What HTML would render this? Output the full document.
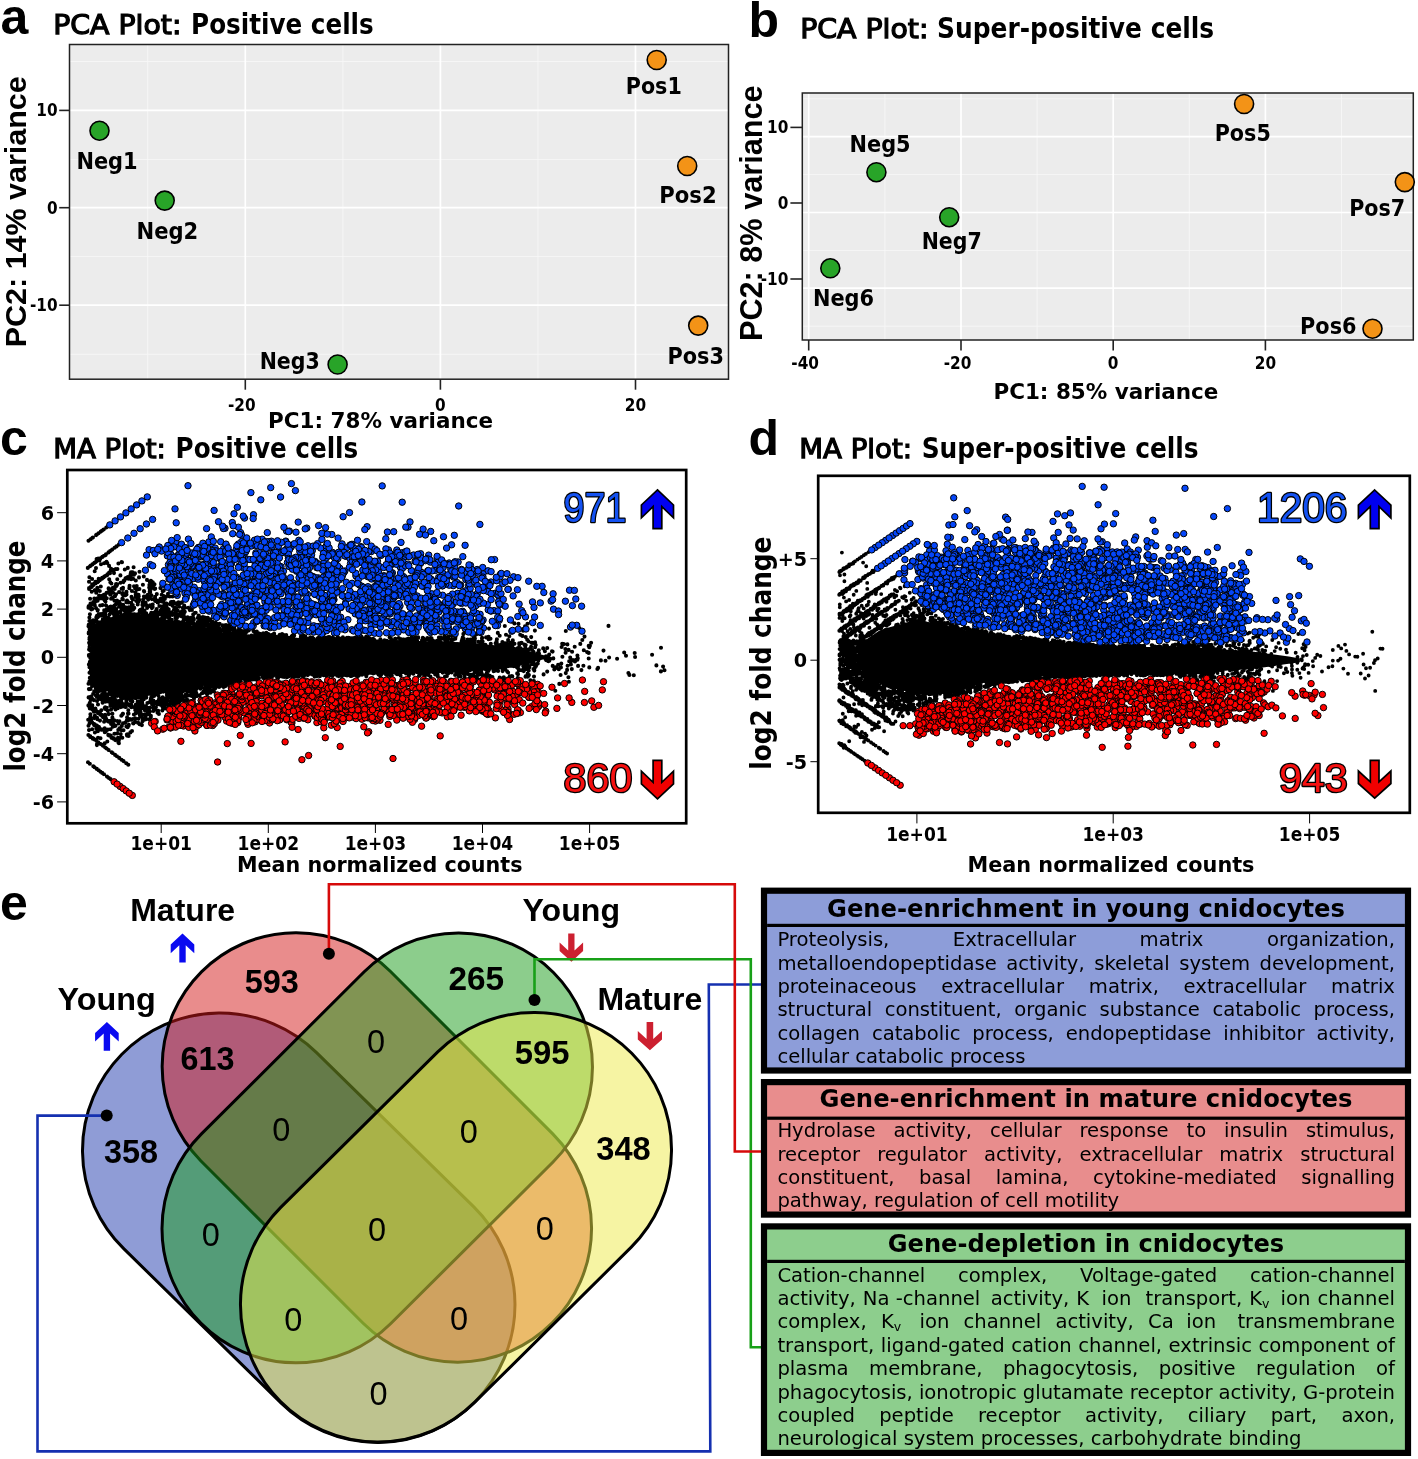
<!DOCTYPE html><html><head><meta charset="utf-8"><title>Figure</title><style>html,body{margin:0;padding:0;background:#fff;width:1418px;height:1459px;overflow:hidden}svg{display:block}</style></head><body><svg width="1418" height="1459" viewBox="0 0 1418 1459">
<rect width="1418" height="1459" fill="#fff"/>
<text x="0.5" y="34.3" style="font-family:'Liberation Sans', Arial, sans-serif;font-size:50.00px;font-weight:bold" fill="#000">a</text>
<text x="53.2" y="34.0" textLength="128.3" lengthAdjust="spacingAndGlyphs" style="font-family:'DejaVu Sans', sans-serif;font-size:27.40px;font-weight:normal" fill="#000" stroke="#000" stroke-width="1.25">PCA Plot:</text>
<text x="191.1" y="34.0" textLength="182.6" lengthAdjust="spacingAndGlyphs" style="font-family:'DejaVu Sans', sans-serif;font-size:27.60px;font-weight:bold;font-stretch:condensed" fill="#000">Positive cells</text>
<rect x="69.5" y="44.5" width="659.0" height="334.7" fill="#ececec"/>
<line x1="147.7" y1="44.5" x2="147.7" y2="379.2" stroke="#f7f7f7" stroke-width="0.9"/>
<line x1="342.9" y1="44.5" x2="342.9" y2="379.2" stroke="#f7f7f7" stroke-width="0.9"/>
<line x1="538.0" y1="44.5" x2="538.0" y2="379.2" stroke="#f7f7f7" stroke-width="0.9"/>
<line x1="69.5" y1="61.6" x2="728.5" y2="61.6" stroke="#f7f7f7" stroke-width="0.9"/>
<line x1="69.5" y1="159.4" x2="728.5" y2="159.4" stroke="#f7f7f7" stroke-width="0.9"/>
<line x1="69.5" y1="256.4" x2="728.5" y2="256.4" stroke="#f7f7f7" stroke-width="0.9"/>
<line x1="69.5" y1="354.3" x2="728.5" y2="354.3" stroke="#f7f7f7" stroke-width="0.9"/>
<line x1="245.3" y1="44.5" x2="245.3" y2="379.2" stroke="#fff" stroke-width="1.7"/>
<line x1="440.4" y1="44.5" x2="440.4" y2="379.2" stroke="#fff" stroke-width="1.7"/>
<line x1="635.5" y1="44.5" x2="635.5" y2="379.2" stroke="#fff" stroke-width="1.7"/>
<line x1="69.5" y1="110.4" x2="728.5" y2="110.4" stroke="#fff" stroke-width="1.7"/>
<line x1="69.5" y1="207.7" x2="728.5" y2="207.7" stroke="#fff" stroke-width="1.7"/>
<line x1="69.5" y1="305.2" x2="728.5" y2="305.2" stroke="#fff" stroke-width="1.7"/>
<rect x="69.5" y="44.5" width="659.0" height="334.7" fill="none" stroke="#222" stroke-width="1.5"/>
<line x1="59.2" y1="110.4" x2="69.5" y2="110.4" stroke="#222" stroke-width="1.6"/>
<text x="57.6" y="116.3" text-anchor="end" style="font-family:'DejaVu Sans', sans-serif;font-size:17.00px;font-weight:bold;font-stretch:condensed" fill="#000">10</text>
<line x1="59.2" y1="207.7" x2="69.5" y2="207.7" stroke="#222" stroke-width="1.6"/>
<text x="57.6" y="213.6" text-anchor="end" style="font-family:'DejaVu Sans', sans-serif;font-size:17.00px;font-weight:bold;font-stretch:condensed" fill="#000">0</text>
<line x1="59.2" y1="305.2" x2="69.5" y2="305.2" stroke="#222" stroke-width="1.6"/>
<text x="57.6" y="311.1" text-anchor="end" style="font-family:'DejaVu Sans', sans-serif;font-size:17.00px;font-weight:bold;font-stretch:condensed" fill="#000">-10</text>
<line x1="245.3" y1="379.2" x2="245.3" y2="389.7" stroke="#222" stroke-width="1.6"/>
<text x="255.6" y="410.6" text-anchor="end" style="font-family:'DejaVu Sans', sans-serif;font-size:17.00px;font-weight:bold;font-stretch:condensed" fill="#000">-20</text>
<line x1="440.4" y1="379.2" x2="440.4" y2="389.7" stroke="#222" stroke-width="1.6"/>
<text x="440.4" y="410.6" text-anchor="middle" style="font-family:'DejaVu Sans', sans-serif;font-size:17.00px;font-weight:bold;font-stretch:condensed" fill="#000">0</text>
<line x1="635.5" y1="379.2" x2="635.5" y2="389.7" stroke="#222" stroke-width="1.6"/>
<text x="635.5" y="410.6" text-anchor="middle" style="font-family:'DejaVu Sans', sans-serif;font-size:17.00px;font-weight:bold;font-stretch:condensed" fill="#000">20</text>
<circle cx="99.5" cy="130.7" r="9.5" fill="#28a428" stroke="#000" stroke-width="1.6"/>
<text x="76.4" y="169.1" textLength="61.3" lengthAdjust="spacingAndGlyphs" style="font-family:'DejaVu Sans', sans-serif;font-size:23.60px;font-weight:bold;font-stretch:condensed" fill="#000">Neg1</text>
<circle cx="164.7" cy="200.6" r="9.5" fill="#28a428" stroke="#000" stroke-width="1.6"/>
<text x="136.5" y="239.3" textLength="61.8" lengthAdjust="spacingAndGlyphs" style="font-family:'DejaVu Sans', sans-serif;font-size:23.60px;font-weight:bold;font-stretch:condensed" fill="#000">Neg2</text>
<circle cx="337.6" cy="364.5" r="9.5" fill="#28a428" stroke="#000" stroke-width="1.6"/>
<text x="259.7" y="368.8" textLength="60.1" lengthAdjust="spacingAndGlyphs" style="font-family:'DejaVu Sans', sans-serif;font-size:23.60px;font-weight:bold;font-stretch:condensed" fill="#000">Neg3</text>
<circle cx="656.7" cy="60.0" r="9.5" fill="#f39317" stroke="#000" stroke-width="1.6"/>
<text x="625.8" y="94.3" textLength="56.0" lengthAdjust="spacingAndGlyphs" style="font-family:'DejaVu Sans', sans-serif;font-size:23.60px;font-weight:bold;font-stretch:condensed" fill="#000">Pos1</text>
<circle cx="687.2" cy="166.0" r="9.5" fill="#f39317" stroke="#000" stroke-width="1.6"/>
<text x="659.3" y="202.9" textLength="57.4" lengthAdjust="spacingAndGlyphs" style="font-family:'DejaVu Sans', sans-serif;font-size:23.60px;font-weight:bold;font-stretch:condensed" fill="#000">Pos2</text>
<circle cx="698.2" cy="325.6" r="9.5" fill="#f39317" stroke="#000" stroke-width="1.6"/>
<text x="667.4" y="363.6" textLength="56.5" lengthAdjust="spacingAndGlyphs" style="font-family:'DejaVu Sans', sans-serif;font-size:23.60px;font-weight:bold;font-stretch:condensed" fill="#000">Pos3</text>
<text x="268.0" y="428.4" textLength="225.0" lengthAdjust="spacingAndGlyphs" style="font-family:'DejaVu Sans', sans-serif;font-size:21.60px;font-weight:bold" fill="#000">PC1: 78% variance</text>
<text transform="translate(26.0,347.2) rotate(-90)" x="0" y="0" textLength="270.9" lengthAdjust="spacingAndGlyphs" style="font-family:'Liberation Sans', Arial, sans-serif;font-size:30.4px;font-weight:bold">PC2: 14% variance</text>
<text x="748.5" y="36.9" style="font-family:'Liberation Sans', Arial, sans-serif;font-size:50.00px;font-weight:bold" fill="#000">b</text>
<text x="800.2" y="37.6" textLength="128.3" lengthAdjust="spacingAndGlyphs" style="font-family:'DejaVu Sans', sans-serif;font-size:27.40px;font-weight:normal" fill="#000" stroke="#000" stroke-width="1.25">PCA Plot:</text>
<text x="937.1" y="37.6" textLength="277.1" lengthAdjust="spacingAndGlyphs" style="font-family:'DejaVu Sans', sans-serif;font-size:27.60px;font-weight:bold;font-stretch:condensed" fill="#000">Super-positive cells</text>
<rect x="802.3" y="93.0" width="611.0" height="247.0" fill="#ececec"/>
<line x1="884.9" y1="93.0" x2="884.9" y2="340.0" stroke="#f7f7f7" stroke-width="0.9"/>
<line x1="1037.1" y1="93.0" x2="1037.1" y2="340.0" stroke="#f7f7f7" stroke-width="0.9"/>
<line x1="1189.3" y1="93.0" x2="1189.3" y2="340.0" stroke="#f7f7f7" stroke-width="0.9"/>
<line x1="1341.5" y1="93.0" x2="1341.5" y2="340.0" stroke="#f7f7f7" stroke-width="0.9"/>
<line x1="802.3" y1="98.8" x2="1413.3" y2="98.8" stroke="#f7f7f7" stroke-width="0.9"/>
<line x1="802.3" y1="174.4" x2="1413.3" y2="174.4" stroke="#f7f7f7" stroke-width="0.9"/>
<line x1="802.3" y1="250.4" x2="1413.3" y2="250.4" stroke="#f7f7f7" stroke-width="0.9"/>
<line x1="802.3" y1="326.2" x2="1413.3" y2="326.2" stroke="#f7f7f7" stroke-width="0.9"/>
<line x1="808.7" y1="93.0" x2="808.7" y2="340.0" stroke="#fff" stroke-width="1.7"/>
<line x1="961.0" y1="93.0" x2="961.0" y2="340.0" stroke="#fff" stroke-width="1.7"/>
<line x1="1113.2" y1="93.0" x2="1113.2" y2="340.0" stroke="#fff" stroke-width="1.7"/>
<line x1="1265.4" y1="93.0" x2="1265.4" y2="340.0" stroke="#fff" stroke-width="1.7"/>
<line x1="802.3" y1="136.7" x2="1413.3" y2="136.7" stroke="#fff" stroke-width="1.7"/>
<line x1="802.3" y1="212.5" x2="1413.3" y2="212.5" stroke="#fff" stroke-width="1.7"/>
<line x1="802.3" y1="288.2" x2="1413.3" y2="288.2" stroke="#fff" stroke-width="1.7"/>
<rect x="802.3" y="93.0" width="611.0" height="247.0" fill="none" stroke="#222" stroke-width="1.5"/>
<line x1="790.4" y1="127.4" x2="802.3" y2="127.4" stroke="#222" stroke-width="1.6"/>
<text x="788.4" y="133.3" text-anchor="end" style="font-family:'DejaVu Sans', sans-serif;font-size:17.00px;font-weight:bold;font-stretch:condensed" fill="#000">10</text>
<line x1="790.4" y1="203.0" x2="802.3" y2="203.0" stroke="#222" stroke-width="1.6"/>
<text x="788.4" y="208.9" text-anchor="end" style="font-family:'DejaVu Sans', sans-serif;font-size:17.00px;font-weight:bold;font-stretch:condensed" fill="#000">0</text>
<line x1="790.4" y1="279.0" x2="802.3" y2="279.0" stroke="#222" stroke-width="1.6"/>
<text x="788.4" y="284.9" text-anchor="end" style="font-family:'DejaVu Sans', sans-serif;font-size:17.00px;font-weight:bold;font-stretch:condensed" fill="#000">-10</text>
<line x1="808.7" y1="340.0" x2="808.7" y2="350.5" stroke="#222" stroke-width="1.6"/>
<text x="819.0" y="368.6" text-anchor="end" style="font-family:'DejaVu Sans', sans-serif;font-size:17.00px;font-weight:bold;font-stretch:condensed" fill="#000">-40</text>
<line x1="961.0" y1="340.0" x2="961.0" y2="350.5" stroke="#222" stroke-width="1.6"/>
<text x="971.3" y="368.6" text-anchor="end" style="font-family:'DejaVu Sans', sans-serif;font-size:17.00px;font-weight:bold;font-stretch:condensed" fill="#000">-20</text>
<line x1="1113.2" y1="340.0" x2="1113.2" y2="350.5" stroke="#222" stroke-width="1.6"/>
<text x="1113.2" y="368.6" text-anchor="middle" style="font-family:'DejaVu Sans', sans-serif;font-size:17.00px;font-weight:bold;font-stretch:condensed" fill="#000">0</text>
<line x1="1265.4" y1="340.0" x2="1265.4" y2="350.5" stroke="#222" stroke-width="1.6"/>
<text x="1265.4" y="368.6" text-anchor="middle" style="font-family:'DejaVu Sans', sans-serif;font-size:17.00px;font-weight:bold;font-stretch:condensed" fill="#000">20</text>
<circle cx="876.4" cy="172.2" r="9.5" fill="#28a428" stroke="#000" stroke-width="1.6"/>
<text x="849.5" y="151.7" textLength="61.1" lengthAdjust="spacingAndGlyphs" style="font-family:'DejaVu Sans', sans-serif;font-size:23.60px;font-weight:bold;font-stretch:condensed" fill="#000">Neg5</text>
<circle cx="830.3" cy="268.3" r="9.5" fill="#28a428" stroke="#000" stroke-width="1.6"/>
<text x="812.9" y="305.7" textLength="61.2" lengthAdjust="spacingAndGlyphs" style="font-family:'DejaVu Sans', sans-serif;font-size:23.60px;font-weight:bold;font-stretch:condensed" fill="#000">Neg6</text>
<circle cx="949.2" cy="217.2" r="9.5" fill="#28a428" stroke="#000" stroke-width="1.6"/>
<text x="921.7" y="248.7" textLength="60.0" lengthAdjust="spacingAndGlyphs" style="font-family:'DejaVu Sans', sans-serif;font-size:23.60px;font-weight:bold;font-stretch:condensed" fill="#000">Neg7</text>
<circle cx="1244.1" cy="104.0" r="9.5" fill="#f39317" stroke="#000" stroke-width="1.6"/>
<text x="1214.7" y="140.5" textLength="56.1" lengthAdjust="spacingAndGlyphs" style="font-family:'DejaVu Sans', sans-serif;font-size:23.60px;font-weight:bold;font-stretch:condensed" fill="#000">Pos5</text>
<circle cx="1372.5" cy="328.7" r="9.5" fill="#f39317" stroke="#000" stroke-width="1.6"/>
<text x="1300.1" y="333.5" textLength="56.4" lengthAdjust="spacingAndGlyphs" style="font-family:'DejaVu Sans', sans-serif;font-size:23.60px;font-weight:bold;font-stretch:condensed" fill="#000">Pos6</text>
<circle cx="1404.8" cy="182.1" r="9.5" fill="#f39317" stroke="#000" stroke-width="1.6"/>
<text x="1349.2" y="216.4" textLength="55.9" lengthAdjust="spacingAndGlyphs" style="font-family:'DejaVu Sans', sans-serif;font-size:23.60px;font-weight:bold;font-stretch:condensed" fill="#000">Pos7</text>
<text x="993.4" y="399.2" textLength="225.0" lengthAdjust="spacingAndGlyphs" style="font-family:'DejaVu Sans', sans-serif;font-size:21.60px;font-weight:bold" fill="#000">PC1: 85% variance</text>
<text transform="translate(762.0,341.0) rotate(-90)" x="0" y="0" textLength="255.5" lengthAdjust="spacingAndGlyphs" style="font-family:'Liberation Sans', Arial, sans-serif;font-size:30.6px;font-weight:bold">PC2: 8% variance</text>
<defs><marker id="mb" markerUnits="userSpaceOnUse" markerWidth="10" markerHeight="10" refX="5" refY="5" overflow="visible"><circle cx="5" cy="5" r="3.2" fill="#0546fa" stroke="#000" stroke-width="1.0"/></marker><marker id="mr" markerUnits="userSpaceOnUse" markerWidth="10" markerHeight="10" refX="5" refY="5" overflow="visible"><circle cx="5" cy="5" r="3.2" fill="#ff0000" stroke="#000" stroke-width="1.0"/></marker></defs>
<text x="0.0" y="455.0" style="font-family:'Liberation Sans', Arial, sans-serif;font-size:50.00px;font-weight:bold" fill="#000">c</text>
<text x="53.2" y="458.4" textLength="112.7" lengthAdjust="spacingAndGlyphs" style="font-family:'DejaVu Sans', sans-serif;font-size:27.40px;font-weight:normal" fill="#000" stroke="#000" stroke-width="1.25">MA Plot:</text>
<text x="175.6" y="458.4" textLength="182.6" lengthAdjust="spacingAndGlyphs" style="font-family:'DejaVu Sans', sans-serif;font-size:27.60px;font-weight:bold;font-stretch:condensed" fill="#000">Positive cells</text>
<g>
<path fill="#000" d="M90.5 626.0 L96.3 623.0 L102.1 620.1 L107.8 618.2 L113.6 616.4 L119.4 614.6 L125.2 612.7 L130.9 611.9 L136.7 613.2 L142.5 614.5 L148.3 615.8 L154.0 617.1 L159.8 618.4 L165.6 619.8 L171.4 621.3 L177.1 622.7 L182.9 624.2 L188.7 625.6 L194.5 627.1 L200.2 628.5 L206.0 629.6 L211.8 630.6 L217.6 631.7 L223.3 632.8 L229.1 633.9 L234.9 635.0 L240.7 636.1 L246.4 637.1 L252.2 638.2 L258.0 639.2 L263.8 639.2 L269.5 639.2 L275.3 639.3 L281.1 639.3 L286.9 639.3 L292.6 639.3 L298.4 639.3 L304.2 639.3 L310.0 639.3 L315.7 639.3 L321.5 639.4 L327.3 639.4 L333.1 639.4 L338.9 639.4 L344.6 639.4 L350.4 639.4 L356.2 639.4 L362.0 639.4 L367.7 639.5 L373.5 639.5 L379.3 639.6 L385.1 639.8 L390.8 640.0 L396.6 640.2 L402.4 640.4 L408.2 640.6 L413.9 640.8 L419.7 641.0 L425.5 641.2 L431.3 641.4 L437.0 641.5 L442.8 641.7 L448.6 641.9 L454.4 642.1 L460.1 642.3 L465.9 642.8 L471.7 643.3 L477.5 643.8 L483.2 644.2 L489.0 644.7 L494.8 645.2 L500.6 645.7 L506.3 646.2 L512.1 647.2 L517.9 648.7 L523.7 650.2 L529.4 651.6 L535.2 653.1 L541.0 654.6 L546.8 656.1 L546.8 658.5 L541.0 660.0 L535.2 661.5 L529.4 663.0 L523.7 664.4 L517.9 665.9 L512.1 667.4 L506.3 668.4 L500.6 668.9 L494.8 669.4 L489.0 669.9 L483.2 670.4 L477.5 670.8 L471.7 671.3 L465.9 671.8 L460.1 672.3 L454.4 672.4 L448.6 672.6 L442.8 672.8 L437.0 672.9 L431.3 673.1 L425.5 673.2 L419.7 673.4 L413.9 673.6 L408.2 673.7 L402.4 673.9 L396.6 674.1 L390.8 674.2 L385.1 674.4 L379.3 674.5 L373.5 674.7 L367.7 674.8 L362.0 674.9 L356.2 675.0 L350.4 675.1 L344.6 675.2 L338.9 675.3 L333.1 675.3 L327.3 675.4 L321.5 675.5 L315.7 675.6 L310.0 675.7 L304.2 675.8 L298.4 675.9 L292.6 676.0 L286.9 676.1 L281.1 676.2 L275.3 676.3 L269.5 676.4 L263.8 676.5 L258.0 676.6 L252.2 677.5 L246.4 678.4 L240.7 679.4 L234.9 680.4 L229.1 681.3 L223.3 682.3 L217.6 683.3 L211.8 684.2 L206.0 685.2 L200.2 686.1 L194.5 687.2 L188.7 688.3 L182.9 689.4 L177.1 690.5 L171.4 691.5 L165.6 692.6 L159.8 693.7 L154.0 694.5 L148.3 695.4 L142.5 696.3 L136.7 697.1 L130.9 698.0 L125.2 696.3 L119.4 693.5 L113.6 690.6 L107.8 687.8 L102.1 684.9 L96.3 683.2 L90.5 681.4Z"/>
<path fill="none" stroke="#000" stroke-width="4.10" stroke-linecap="round" d="M92.7 738.1h0m5-120.8h0m7.2 101.6h0m-15.7-13.3h0m9.1-106.6h0m-5.9 108.8h0m8.1 30.4h0m-6-29h0m2.3-26.6h0m6.1-0.1h0m14.3 38.5h0m-7.1-109.7h0m-5.5 132.1h0m-11.4-120.3h0m10.6-27.9h0m-12 8.9h0m19.9-12.6h0m-4.9 97.4h0m9.1-119.9h0m-26.3 60.1h0m14.6-18.8h0m-14 126.7h0m17.4-42.6h0m6.3-84.9h0m-17.7 10.3h0m17.4 70.5h0m-9.9-69.1h0m9.3-8.5h0m-4.1 122.8h0m-14.8-10.4h0m18.3-7.6h0m-21.6-63.1h0m23.4 65.9h0m0.5-131.3h0m-26.1 17.6h0m21.4 1.5h0m3.4-0.9h0m-16.6 88.3h0m-2-90.2h0m12.7-12.7h0m-14.6 11.4h0m9.9 15.2h0m-1.8 77.5h0m5 21.9h0m-16.9-129.7h0m19.1 111.7h0m-13.5-129.4h0m-4.4 86.9h0m3-56.1h0m0.4 108h0m6.6-22.4h0m-11.8-3.9h0m7.7-91h0m-4.7 10.9h0m15.9 117h0m-7.6-129.6h0m14.6 106.3h0m-9.7-2.9h0m-10.4-67.9h0m1.8-43.8h0m-5.5 134.3h0m5.5-5.8h0m-3.9-38.1h0m8.8 12.3h0m7.3-67.7h0m5.3 88.9h0m-3.4-112h0m-10.9 133.4h0m2.5-132h0m-2.4 2.4h0m-7.7 81.4h0m5.2 45.8h0m0.9-144.4h0m0 150h0m14.3-33.1h0m-1 25.8h0m4.8-29.6h0m-25.2-87.4h0m12.3 79.9h0m-8.2 23.5h0m-2.4-36h0m11.1-79.2h0m7.9-11.6h0m-7.3 138.3h0m-11.3 16.9h0m-0.7-159.7h0m8 43.4h0m13.5-34.8h0m-4.4-8.3h0m-5.2 16.6h0m-6.4-14.4h0m2.6 104.1h0m16.4-71h0m-22.2-13h0m16.7 119.7h0m-11.9 7.2h0m0.6-148.2h0m-10.9 74.8h0m8 90h0m4.8-45.6h0m-7.1 11.1h0m20.9-1.1h0m-26.6-44.9h0m8.6-82.9h0m20.8 148.1h0m-22.1 10.4h0m11.1-177.1h0m-18.1 142.7h0m3 23.4h0m2.8-48.6h0m10.2 19.2h0m5.1-117.6h0m-3.9 115.2h0m-9.4 46.7h0m-6.4-115.5h0m14 63.9h0m7 28.7h0m-7.4-3.5h0m-14.8-96.7h0m16.1-19.4h0m11.4-0.5h0m-24.2 108h0m17.2-117.7h0m-13.2 103.6h0m-4.3-46.6h0m-2.6 54.4h0m27.2-90.8h0m-8.5 73.9h0m-19.4-36.3h0m2.8-21.4h0m-0.7-40.9h0m5.1 138.6h0m-5-116.5h0m19.3-38.7h0m-4 22.1h0m-17.2 24.8h0m19.5 0.8h0m-15.8 1.9h0m6.8 78.6h0m-10.9-117.2h0m1.8 126.6h0m4.1-86.4h0m5.9 60.2h0m-11.8 7.2h0m24.1-96.6h0m-22.9 115.1h0m1-73.6h0m19.8 75.5h0m-12.5-93.4h0m-6.2 61.2h0m7.7 43.1h0m-1.5-106h0m16.1 78.9h0m-23.8-61.9h0m1.1 42.9h0m-0.1 23.2h0m-0.7 22.3h0m-1.8-77h0m19.2 56.3h0m0.6-133.4h0m-20 140.4h0m1.2-81.8h0m17.4-6.9h0m-17.4 8.1h0m3.1 83.7h0m11.5 7.9h0m-14.9-35.8h0m5.9 13.9h0m4.4 18.5h0m-10 7.7h0m-0.4-133.9h0m4.8 13.3h0m-2.2 20.8h0m25.4-9h0m-29.4 13.5h0m1.6-27.6h0m17.5 112h0m-17.8-60.4h0m0.6 71h0m0.4-50.9h0m14.9 31.2h0m-9.3 38.6h0m16.7-143h0m-2.4 138.4h0m-18.5-55.2h0m1.5 43.5h0m13.5-37.3h0m-12.9 31.5h0m1.4-7.1h0m16-19.9h0m-15-0.8h0m19-104.6h0m-11.9 100.3h0m-0.9-3.1h0m-13.4-45.2h0m23.9 50h0m-23.5-73.5h0m23.3 90.8h0m-0.5-1.5h0m-19.5-118.2h0m8.4 11.4h0m-0.1 101.9h0m5.8 42.9h0m-12.8-2h0m10.2-49.1h0m-3.5-74.9h0m-9.2 35.3h0m25.3-71.5h0m-8.2 28h0m4.3 94.5h0m-0.7-2.7h0m-5.9-100.9h0m-10.9 112.4h0m-4.5-38.9h0m11.3-75.5h0m-2.8 1.8h0m18.1 139.7h0m-20.6-8.3h0m15.4-2.6h0m-15.8-25.8h0m12.7 20.1h0m-14.8 11.4h0m3.1-19.4h0m6.6-96.2h0m-4.2 97.9h0m17.2-101.2h0m-28.1 53.6h0m1.6 29.3h0m3.6-94.3h0m19.7 3.4h0m-24.5 56.3h0m18.9 24.6h0m-7.2 28.3h0m-4-104.2h0m-1.4-10.4h0m3.9 13.8h0m-7 7.9h0m3.6 67.9h0m4.3-125.5h0m1.5 34.1h0m2.7 20h0m9.3-2h0m-20.2-17.9h0m-2.8 109.8h0m8.7-110h0m-7.7 50.8h0m13.1 68.3h0m-13.3-8.6h0m12.8 6h0m8.9-141.7h0m-19 152.2h0m16.1-156.4h0m-13.4 126.1h0m1.5-96.6h0m16.9 14.2h0m-27.7 92.8h0m4.8 4.1h0m16.8-136.2h0m-9.8 123.1h0m-3.2-80.7h0m20.2 117.7h0m-20.9-116h0m13.5 118h0m7.5-33.1h0m-10.1-1h0m5.2 12.4h0m2.6-117.5h0m0.5 93.8h0m0 15.1h0m-24.2-40.5h0m10.8 29.6h0m13 10.7h0m-14.2-7.7h0m-4.6-96.8h0m-7.3 129.7h0m0-74.1h0m4.3 82.5h0m6-47.5h0m-4.7 19h0m10.6-2.6h0m6.5-137.3h0m4.5 39h0m-1.6 81.5h0m-22.2-31.8h0m-3.3-69.9h0m1.8 76.8h0m5.1-97.6h0m3.1 27.4h0m-8.1 38.7h0m18.9 65.1h0m-11.9 38.5h0m6.5-161.2h0m10.5 149.3h0m-14.4-11.7h0m2.3-100.7h0m-10.4 46.3h0m11.9 39.9h0m-2.9-13.8h0m4.8 14.2h0m-8.1-13.4h0m-5.9-100.7h0m-2.7 69.4h0m20.2 66.7h0m0.2-0.7h0m-4.4-166.3h0m-2.2 41.1h0m-8.3 84.3h0m-3.9-23.3h0m19.8-66.4h0m-17.4 93.2h0m-3.1-80.4h0m0.1 60.5h0m-0.2 50.1h0m0.7-127.1h0m1.1 16.5h0m11.9-8.8h0m0.5 5.5h0m9.9 88.6h0m-14.6 39.9h0m-4.5-166.6h0m7.5 129.4h0m9.1 46.3h0m-12.8-55.7h0m5.4-86.3h0m-5.2 117.7h0m14.9-18.8h0m-7 1.5h0m-13.5 12.6h0m15.2-136.2h0m-14.1 10.6h0m4 129.3h0m1-97.2h0m-10.5 66.1h0m22.1 56.3h0m-16.3-136h0m3.6 88.1h0m-7.9-65.9h0m8.5 65.4h0m5.8 19.5h0m10.3 16.8h0m-1.3-110.7h0m2.2 93.6h0m-10.3-103.1h0m-2.7-9.8h0m-13.9 77.1h0m1.9-9.2h0m9.9-67.6h0m-12.8 11.7h0m6.2-17.5h0m16.5 111.6h0m2.3 37h0m-7.2-49.9h0m-4.6 6.8h0m11.1 28.8h0m-17.9-122.6h0m-3.6 106.5h0m12.5-11.1h0m8.3-5.8h0m-9.5-4h0m-5.3-89.1h0m8.5 133.1h0m-13.9-80.6h0m12.2-87.6h0m-4.7 150h0m-7.7-37.7h0m9.8-52.3h0m-6.1-41.5h0m11.9 28.3h0m-14.1 83.7h0m6 19.1h0m-2.2 4.9h0m-4.6-8.2h0m10.5-113.9h0m1.8 105.8h0m-3.4-87.3h0m12.1 81.6h0m-11.7-11.2h0m8.6 37.7h0m-9-124.9h0m6.6 132.2h0m8.8-23.7h0m-19.8-115.9h0m14.6 99h0m-2-79.7h0m-8.2 100.9h0m-4.7-151.2h0m2.1 19.7h0m18.3 5.5h0m-26.1 36.9h0m6.9-60.7h0m-8.4 45.9h0m0-29h0m0.3 104.3h0m24.7 52.2h0m-16.5-42.2h0m14.3 46.2h0m-14.3-9.6h0m12.6 1.1h0m-13.2-141.6h0m-6.7 101.2h0m23.9-88.1h0m-0.1 98.7h0m-12.2-120.9h0m12 126.5h0m-14.1-20.2h0m-9.4-1.1h0m1.8-31.5h0m17 38.8h0m2.9 1.2h0m-13.8 34.5h0m-6.9-135.1h0m0 16.7h0m15.4-33.1h0m-16.6 91.8h0m3.7 24.2h0m21.6 1.6h0m0.3-108.9h0m-26.4 60.5h0m23.3-51.7h0m-5.4 27.2h0m-17.1-15.9h0m27-0.9h0m-1.7 96.9h0m-26.7-57.4h0m-0.4-35.8h0m9.5-48.3h0m15.9 11.1h0m-16.5 31h0m-3.5 1h0m18.4-13.7h0m-16.2 140.6h0m-1.6-18.3h0m16.8-21.2h0m-19.9-47.8h0m17-52.9h0m-18.4 76.3h0m-1.5-39.8h0m13.9 77.9h0m3.4-91.5h0m-2.6-15.7h0m-12.7 39.4h0m26.2-32.4h0m-26.9 34.1h0m20.6 84.2h0m-22-23.5h0m12.8-100.3h0m-4.5 99.8h0m-5.3-32.7h0m18.8 41.8h0m-20.9-58.9h0m2.9-23.9h0m14.1-61.5h0m-11.7 154h0m14.4-16.8h0m-16.9 6.4h0m-3.8 20.5h0m21.7-36.6h0m0.9-80.7h0m-1.6 6h0m5.4-2.3h0m-3.9 93.4h0m5-111.3h0m-15.2-7.8h0m-11.4 52.7h0m7.6 72.5h0m-7.4-48.5h0m2 44.8h0m12.3-14.5h0m-7 18.2h0m17-8.8h0m-19.5-77h0m13.4-5.3h0m-11.5 69.5h0m3.1 8.7h0m-10.5-92.8h0m0.9 102.5h0m8.5-118.2h0m-6.2 132h0m10.4-117.2h0m-4 106.9h0m17.7-4.1h0m-26.7 15.7h0m6.1-36h0m2.7-106.1h0m7.4 105.9h0m-8.3-6.2h0m5 48.4h0m4.8-40.7h0m-12.5-86.9h0m10 126.2h0m3.4-27.8h0m-16.3-21.2h0m0.4-94.8h0m24.2 1.5h0m0.8 110h0m-17-90.4h0m5-6.8h0m3.5 115.4h0m-10.7-9.6h0m16.2-90.9h0m-25.5 19.8h0m6.6 76.3h0m21.7-109.1h0m-19.1 88.7h0m6.1-94.4h0m12 20.4h0m-4.2-26.1h0m-19.9 54.4h0m22.9 51h0m-12.5 21.1h0m0.5-95h0m-12.8-54.4h0m2.3 42.6h0m9.8 81.7h0m3.6 10.5h0m9.2 1.4h0m-17.4-120.2h0m1.3-2.3h0m-6.3 23.2h0m9.7-25.4h0m11.4 146h0m-11.6-8.3h0m-10.7-6.8h0m5.6-87.3h0m20.1-36.5h0m-8.9 136.5h0m-8.8-23.4h0m12.3-90.4h0m0.4-18h0m1.2 23.6h0m-16.1 12.5h0m7.1 58.3h0m1.1-64.2h0m-7.4 69.7h0m13.2-90.7h0m-21.3 79.1h0m4.8 46.4h0m8.1-22.8h0m-6.7-93.4h0m21.9 4h0m-2.4-7.3h0m-25.3 102.1h0m16.3-17.5h0m-11.7-99.2h0m12.1 96.3h0m-5.2 9.2h0m-11.4 21.6h0m9.2-156.8h0m-2.1 158.8h0m9.2-109.9h0m4.8 112.9h0m-8.9 22.7h0m3.2-182.3h0m-10.6 122h0m-3.3-10h0m13.5-60.5h0m-16.4 74.8h0m28.3 13.6h0m0.2-133.6h0m-7.9 21.6h0m-4.8 117.5h0m4.1-21.8h0m-13.4 22.3h0m7.7-15.5h0m-2.6-10.9h0m-10.5-0.9h0m17.2 15.6h0m-18.4-64.6h0m8.6 61h0m1.3-11.7h0m-3 3.8h0m-5 14.5h0m7.1-89.9h0m5.1 107.1h0m14.4-101.9h0m-6.4 79.3h0m-5.8-4.8h0m-7.2-129.5h0m19.9 148.1h0m-2.9-89.8h0m-6.9 69.3h0m7.8 1.4h0m-16.8 37.8h0m0.4-14.5h0m13.7-102h0m-11.2 105.3h0m11.3-8.6h0m-19.3 4.5h0m0.4-109.6h0m10.9 14.2h0m7.3-4.8h0m-4.5-19.1h0m-1.3 115.3h0m-10.6 3h0m-4.1-24.6h0m-2.6-59h0m0.4 56.3h0m4.7-82.1h0m2.9 84.8h0m-7.8-59.5h0m13.2 61.2h0m-8.9 12.3h0m20.1 38.3h0m0.9-130.2h0m-9.9-12.9h0m5.5 109h0m-1.5-2.6h0m1.8-95.2h0m6.3 96.6h0m-11.7 12h0m48.8-102.6h0m42.1 82.1h0m9.2-5.8h0m-60.2 20.8h0m-1.5-10.3h0m21.3-93.5h0m-27.4 95.4h0m20-6.7h0m36.7-1.6h0m0.4-63.8h0m-31.6-12.9h0m28.1 70.5h0m-20.7 16.6h0m-3.7-12.6h0m-9 13.5h0m10.5 0.8h0m-45.1-7.5h0m-2.9-122.1h0m89.5 52.2h0m-44.8-5.8h0m-32.5-49.5h0m62.1 121.7h0m-72.6-88.3h0m45.7 86.4h0m-15.9-93h0m29.4 95.2h0m-23.3-93.4h0m11.7-4.4h0m30.9 92.1h0m-40.2-100.5h0m-24.8 125.4h0m56.8-85.6h0m-19.7 74.6h0m36.6-19.3h0m-71.4 27.7h0m70.3-22.1h0m-13.7 7.4h0m-56.8 5.7h0m-17.8-6.1h0m59.9-2.1h0m-15.9 9.8h0m9-80.7h0m1.7 73.5h0m35-68.5h0m-59.5-22.4h0m18.5 89h0m33.4-68.6h0m-73.3-16.9h0m34.9-10.8h0m8.4 95.9h0m-8.5 12.3h0m-4.1-13.8h0m-27.5-101.5h0m19-2.1h0m-3.9-9h0m5.7 24.7h0m37.9 22.9h0m-6.4-21.9h0m-8.4 15.2h0m-54-12.5h0m32.9 10.5h0m4.8 80.6h0m-31.3-2.3h0m24.6-81.1h0m53 69.7h0m-37.1-76.5h0m-2.6-12.5h0m8.7 95.8h0m-56.4-129h0m27.9 134.1h0m25.4-93.1h0m-15.8 102.8h0m25.9-95.4h0m-41.9 96h0m61.2-90.1h0m1.6 74.9h0m-75.6 5.3h0m-1.9-84.3h0m-6.4 126.7h0m15.5-132.5h0m73.4 15.3h0m-56 73.9h0m4-83.9h0m-17.6 90.8h0m59.7-17.1h0m-8.6 2.3h0m-60.8 15.1h0m-1.4-94.5h0m29.2 93.5h0m-29.7-111.4h0m-5.2 123.8h0m71.6-24.4h0m-29.1-95.2h0m-21.6 17.1h0m60.8 14.3h0m-50.1 68.1h0m0.1-108.9h0m58 96.7h0m-39.7-71h0m4.8 76.3h0m35.8-5.3h0m-83.3-81h0m53.2 13.2h0m-56.5-8.1h0m70.4 5.3h0m-56-1.7h0m52.3 17.3h0m-48.4 67.1h0m-24.1 5.2h0m61.2-0.3h0m-4.8-88.8h0m-47.9 108.9h0m26.1-24.6h0m26.6 0.5h0m-12.5-83.7h0m-25.2-1.3h0m54.7 11.6h0m-25.5 68.8h0m-43.9-113.1h0m83.4 51.4h0m-17.7 68.6h0m-3.9-7.3h0m-28.7-81.9h0m48 78h0m-6.3-4.1h0m-81.8 17.2h0m21.7-94.9h0m-20 2.3h0m39.2 11.8h0m-43.3 123.4h0m6.4-132.5h0m45.1 81.2h0m25.7-6.9h0m-20.2 11.8h0m-28.5 6.2h0m-8.9-108.2h0m40 7.4h0m-58.7 126.7h0m14.1-14.4h0m23.2-21.8h0m32.7-2.1h0m17.9 0.5h0m-52.5 18.5h0m-3.1-4.8h0m60.7-20.4h0m-62 32.8h0m-16.1-103h0m77.7 13h0m-38.6 70h0m-43.9 21.8h0m-9.3-26.1h0m37.5-78.2h0m40.2 13.9h0m-65.4 90.4h0m2.3-0.6h0m28.2-26.8h0m-39.9 38.7h0m1.1-35.3h0m8.5 28.3h0m57.3-37.1h0m17.7 5.2h0m-67.7-81.7h0m63 8.7h0m-3.8 9h0m-30.6 70h0m-30.5 21.4h0m-15.9-20.6h0m90.2-14.7h0m-74 24.1h0m48.2-81.7h0m-37.5 81.9h0m60.8-25.7h0m-16.5-63h0m-0.7-1.7h0m-38.7 90.7h0m21.8-104.7h0m-15.9 101.4h0m52.5-76.5h0m-80.2-23h0m46.7 96.8h0m-41.1 20.8h0m12.4-29h0m-0.4-108.5h0m12.6 32.5h0m-8.4 74.6h0m8.1-86.3h0m13.1 5.2h0m-54.8 95.7h0m58.3-103.2h0m-48-24.6h0m13.1 12.3h0m68.2 32h0m-63.2-36.1h0m-19.5 20.1h0m59.7 12.9h0m-7.5-9.3h0m11 8h0m-57.2-24.4h0m60.7 94.2h0m-67.5-76.6h0m81.3 71.8h0m-34.4-67.3h0m8.7 79.5h0m-7.4-0.5h0m29.6-71.9h0m-65.4 92.5h0m70.1-87h0m-28.6 70h0m-44.1-4.2h0m33.4-81.2h0m3.2 85.8h0m-25.6 2.2h0m34-82.1h0m17.6 3.1h0m-27.8 68h0m-4.4-73.7h0m-1.9 73.3h0m-3.5 14.6h0m0-114.5h0m33.9 105h0m-32.7-92h0m-5.5 2.2h0m8.4 11.1h0m-42.3-38.7h0m55.3 118.1h0m33.1-10.9h0m-14.2-67.8h0m-71.1 95.8h0m43.2-21.7h0m40.3-63.8h0m-29.1-3.6h0m0 64.8h0m0.3-72.4h0m-8.8-13.8h0m-11.8 94.3h0m-20.2-88.7h0m15.2-6.2h0m19.7 99.6h0m-24.6-117.7h0m7.6 119.7h0m16-9.1h0m-50.1 7h0m-3.4 2h0m47.2-99.7h0m-34.2 100.2h0m42.9-14.9h0m-30.6 24.6h0m23.2-94.5h0m13.5 81h0m-54.4-0.1h0m62.2-15.6h0m-27.2-69.2h0m-12.3 2.5h0m-19.2 88.8h0m7 6.6h0m36.2-97h0m8.8 73.2h0m14.7-63.1h0m1.5-6.2h0m-50.9-6.5h0m-10.8 97.5h0m11.2-105.1h0m-6.7-2h0m18.6 9.5h0m-38.3 108.6h0m51.2-118.5h0m20.2 84.6h0m-59.4-89.2h0m-5.9 100h0m-4.6-4.7h0m-4.5 43h0m-1.3-40h0m43.3-76.6h0m-38.1 82.2h0m-0.4 3.4h0m1.2 28.8h0m12-158.2h0m-10.7 117.8h0m21.1-110.3h0m42.3 111.1h0m-4.2-9.6h0m-47.8 24.1h0m24-10.5h0m44.8-69.7h0m-82.7 66.8h0m77.5-76.5h0m0.4-0.3h0m-10.9 7.3h0m-38.1-38.7h0m-8.7 117.2h0m28.5-10.9h0m-45.5-118h0m2-5h0m26.3 43.4h0m52.9 67.5h0m-32.1 13.3h0m21.7-10.5h0m-44.2-86.3h0m-1.1-15.4h0m-33 119.7h0m53.4-13.1h0m-6.7 14.1h0m37-13.3h0m-32.6-89.1h0m6.5 4.3h0m-4.1 86.8h0m-53-131.3h0m44.1 129.1h0m37.7-63.8h0m-68.8-54.2h0m64.8 47h0m-73.2-42.6h0m36.7 122.8h0m-19.5 7.3h0m9-4.9h0m-15.5-113.5h0m34.7 15.3h0m-33.2-8.5h0m3.7 99h0m6.3 16.8h0m-8.8-100h0m45.9 88.5h0m-38.9 13.8h0m18.6-14.2h0m41.9-15.9h0m-32.2 19.7h0m13.4-12.8h0m-16.9-71.5h0m-53.1 84.8h0m26.6-7.4h0m-22.4-1.4h0m-2.5-82.8h0m42.3-2.2h0m-20.3 5.8h0m-2.8 107.7h0m0.1-113.6h0m22.6 7h0m28.5 0.1h0m16.4 76.6h0m-35.5-4.1h0m13.3-82.4h0m-53.5-10.9h0m58.3 13.2h0m-29.1 81.8h0m-32.1 44.1h0m24.7-150.6h0m45.1 101.5h0m12.6-56.4h0m-85.6 67.6h0m6 9.2h0m1-5.8h0m-4.6-124.4h0m36.9 41h0m30.3 11h0m-37-26.7h0m16.5 92.5h0m-33.2 3.7h0m26.6 1.4h0m6.9-86.2h0m-28.4 1.8h0m48.1 78.9h0m-21.9-98h0m-40.6 134.5h0m-8.6-148.9h0m39.2 19.7h0m34.9 24.8h0m14.3-4.1h0m-92.2 72.8h0m24.3-98.8h0m28.1 94.3h0m-47.1-79.6h0m31.4 4.8h0m-11.3 98.5h0m-25-22.7h0m37.1-75.4h0m-4 2.3h0m-30.9 96h0m27.4-2.6h0m19.4-99.9h0m38.7 81.4h0m-35.6-90.9h0m-45.7-0.4h0m37.1-4.2h0m24.8 9.6h0m-40.1-8.1h0m-21.9 100.5h0m45.1-3.8h0m-50.4 41.3h0m10-127.4h0m81.2 12.5h0m-60.6 70.1h0m22.5-70.2h0m-7.1 78.4h0m-4.4 5.9h0m-43.3-14.5h0m47.2-81.2h0m-3.4 3.9h0m-34.3 109.7h0m74-102.5h0m10.3 67.5h0m-15.4-5h0m-34.3 19.1h0m-36.3 13.5h0m44-115.4h0m-44.1-1.5h0m30.6 102.4h0m26.5-83.5h0m-16 72.7h0m41.8-9.4h0m-15.4 5.6h0m-27.4 8.7h0m-17.4-107.9h0m-18.7 130.6h0m-5.5-124.5h0m8.1-27.9h0m26.6 34h0m-39.6 9.9h0m21.2 104.4h0m-8.7-136.8h0m80.3 47.5h0m-39.1-18.5h0m-23.6 91.7h0m21.2 0h0m12.1-8.8h0m20 0.8h0m-57.8 2.9h0m-2.3-103.3h0m60.3 34.3h0m-40.6-29.4h0m-40.6 117.8h0m23.8-4.7h0m65.3-78.1h0m-69.4-27.4h0m22.1 104.6h0m13.3-93.4h0m-53.2-0.5h0m83 6.9h0m-1.1 72.6h0m-51.7-96.9h0m38.2 98.9h0m-54.6 13.1h0m41.4-9.7h0m-38 2.5h0m64.6-83.6h0m-9.4 9.7h0m8.6-5h0m8.3 5.9h0m-85.3-18.6h0m20.6-12.2h0m12.7 9h0m29.9 84.6h0m-34.9 1.3h0m-30.3 41.7h0m74-105h0m-36.2 74.1h0m-42 2.9h0m82.2-74.9h0m-38.4-16h0m34 8.9h0m-27-22.6h0m-53.3 99.7h0m33.9-8.2h0m6.6-74.4h0m33.7 69.9h0m-52.5 36.2h0m-19-125.7h0m66.4 24.7h0m-37.9-28.8h0m5.8 98.4h0m49.2-75.3h0m-20.8 78.5h0m-47.6-1.2h0m34.3-5.2h0m-33.1-90.6h0m61 86.8h0m-50.5-105.1h0m42.6 111.1h0m-57.4 5.3h0m61.3-74h0m5.6-1.8h0m-9.6 6.7h0m-39.4-14.1h0m-13.4-25.8h0m18 29.6h0m-15-13.6h0m25.6 11.4h0m-32.9-28.2h0m7.6 14h0m-20.9 123.8h0m45.1-31h0m5.2-5.6h0m-18.4 14.6h0m-31.4-110.1h0m21.8 17.3h0m-13.4-37.7h0m81.1 53.7h0m-86.4-20h0m65.7 16.4h0m-64.7-21.8h0m52.2 98.2h0m3.3-97.6h0m-9 100.8h0m-37.5-5.2h0m56.5-78.5h0m16.1 6.7h0m-41.6-19.6h0m-2.7 4.7h0m-8.5-22.7h0m55 102.4h0m-83.8 35.5h0m36.5-108.9h0m5.4 86.6h0m-6.4-93.7h0m4.8 1.5h0m-3.4-10.7h0m-34.7 124.5h0m-9.2-4.5h0m41.1-122.4h0m14.6 90.4h0m-7.1-95.5h0m10.5 102h0m18.3-70h0m-9.4-4.8h0m17.1 67.4h0m-35.1 17.7h0m-29.3-4.5h0m-12-91h0m7.1 99.5h0m29.5-103h0m31.2 85.1h0m14.2-1.3h0m-7.2-73.9h0m-26.2 1.2h0m16.5-3.8h0m-2.8 81h0m-68.8-133.3h0m80.9 121.8h0m-35.9-73.4h0m-25.7 104.1h0m71-87.5h0m-77.4 69.1h0m-11.4-91.5h0m46.1 100.3h0m-38-102.2h0m35.6 1.1h0m-26.9 111.5h0m22.6-100.9h0m51.5 14.1h0m-22.8 64.5h0m-2.7-5.2h0m-43.1 29.5h0m-8.7-131.3h0m3.9 138.3h0m65.8-36.9h0m-10.5 6.2h0m-8 1.9h0m-45-110.8h0m30.3 119.1h0m29.8-81.6h0m1.7 66h0m-15.4-1.3h0m-51.6-82.6h0m-8 101.4h0m14.6 13.9h0m6.5-103.7h0m-8.3 82.2h0m23.4 0.2h0m28.9-6.8h0m18.3-8.4h0m-90.1 40.2h0m41.7-18.4h0m-9.5-104h0m4.1 97h0m37.7-1.9h0m-44.3-89.2h0m43.6 86.1h0m-9.5-69.1h0m-10.8 74.8h0m7.5-77.9h0m-53.4-44.7h0m-1.8 134.2h0m-0.5-142.4h0m18.4 45.5h0m35.2 2.8h0m-1.5-12.7h0m-7.9 88.9h0m-43.1-80.7h0m58.6 75.1h0m5.8-59.4h0m-21 70h0m-13.9-1.8h0m2.4 5.1h0m49.5-72.4h0m-1-8.4h0m-67.1 88.1h0m-0.8-97.4h0m56.5 17h0m-70.4 70.1h0m22.6-79.5h0m53.4 9.1h0m-44.6 86.6h0m-29-17.9h0m43.2 8.6h0m10.6-81.6h0m3.7 68.5h0m-42.9-80.6h0m6.4 105h0m-7.7-116.4h0m-21 15.8h0m90.4 6.4h0m-83.3-33.4h0m61 20.7h0m-59.6-1.2h0m74.5 14.7h0m-7.4-4.5h0m-15.2 73.5h0m-36.1-86.3h0m-9.2 91.6h0m42.3-81.2h0m-45.6-40.8h0m43.3 118h0m10.4 7.3h0m23-10.1h0m-22.3-69h0m-31.5 80.8h0m51.6-15.2h0m-75.4-77h0m16.3 101.6h0m57.6-85.6h0m-21.2 68.9h0m-43.1 24.2h0m44.1-24.2h0m-43.1 11.6h0m-13.4-6.3h0m23.6-6.1h0m60.1-2.3h0m-30.5-81h0m-1.5 88.1h0m22.3-80.2h0m-20.1 82.5h0m15.4-75.8h0m-18.9 67.1h0m13.9 0.9h0m-41.8-110.8h0m52.3 106.9h0m-83.5-100.3h0m89.3 35.2h0m-40.9 66h0m-17.6-75.5h0m-6.1 104.6h0m-10.5-138.6h0m45.9 110.2h0m-53.4 35.1h0m46.6-31.4h0m-27.4 17.7h0m8.4-101h0m-20.5-18.8h0m42.5 18.4h0m-23.8 8.5h0m-2.2-11.1h0m-4.1-13.4h0m23.1 7.5h0m-46.5-21.8h0m39.3 127.7h0m-35.8-100.4h0m22.6 6.7h0m-28.2 81.1h0m5.9-83.6h0m9.3 94h0m-9.3-98.1h0m-9.6 115.7h0m5.6-114.6h0m63.9 79.3h0m-57.4-111.9h0m-8 16.7h0m62 30.7h0m-30.5-6.9h0m-20.8 106.6h0m12-108.7h0m22.1 85.8h0m13.9-6.7h0m-47.4-107.6h0m51.5 32.5h0m9.4-5.7h0m-2.3 5.7h0m-16.7-10.8h0m-12.6 0.8h0m28.2 86h0m-72.4-102.6h0m32 14.7h0m-24.3 113.7h0m18.8-117.6h0m-12.8 2.1h0m-3.7 93.9h0m58.6-81.6h0m-58.2-30.3h0m24.3 0.7h0m-24.2-1.9h0m69.2 29.7h0m-36.5 95h0m46.4-80.8h0m-89.6 77h0m18.8 3.6h0m67.4-92.4h0m4.6 10.4h0m-34.5 67.4h0m3.2-73.6h0m4.4 75.6h0m17.6-9h0m-55.8 21.6h0m30.6-12.4h0m15-77.1h0m19.5 4.2h0m-16.9-4.8h0m21 67.1h0m-82.3 19.5h0m74-19h0m0.1-62.5h0m-42.9 73.4h0m7.2-79.4h0m-22.3 74.4h0m24.5-78.8h0m28.8 14.1h0m7.5 60.6h0m-85.6-101.9h0m30.5 27.3h0m-9.2 99.6h0m66.2-21.9h0m-48.8-97.9h0m-12-3.4h0m5.4 25.3h0m53.7 2.6h0m-67.4 88.1h0m37.4-16.7h0m-12.3-87.2h0m-19.6 12h0m63.4 3.7h0m-53.6-5.9h0m-5 83.2h0m12.5-83.3h0m-9.4-13.1h0m-28.9 12.9h0m-0.6 94h0m72.4-84.9h0m-5.8-12.2h0m-54.3 4.4h0m70.2 3.5h0m-37.3-4.1h0m-40.1 118.7h0m9.1-160.7h0m55.4 120.6h0m-68.4-97.9h0m9.2 2.5h0m29 10.3h0m-2-15.9h0m-26.4 9.7h0m65.5 16.9h0m-78.9-28.9h0m55.3 100.1h0m26.4-59.7h0m-11.5 60.4h0m-54.4 7.4h0m-0.3-95.5h0m10.9 117.6h0m24.3-95.2h0m31.2-6.6h0m-63.1 77.8h0m62.1-4.1h0m-11.7 4.4h0m-41.2-114.7h0m-1.9 128.8h0m18.8-88.5h0m-39.5 77.5h0m47.2-80.9h0m2.6 83.1h0m-11.2-8h0m14.9-76.4h0m2.1-2.9h0m-19.1-14.6h0m7.8 6.8h0m-27.3-3.1h0m8 108.3h0m57.7-24.9h0m-40.5-71.7h0m-28 106.8h0m6.6-7.9h0m21.8-91.7h0m37.4 63.7h0m-7.3-0.5h0m-69.3-79.3h0m3.9-17.7h0m77.5 96.3h0m-32.4-71.3h0m17.6 3.9h0m-17.2 70.7h0m-5.4-62.6h0m27.3 68.2h0m-26.1-75h0m-21.7-2.3h0m-27.9 118.6h0m2.7-124.9h0m2.2 86.9h0m68.2-8.7h0m-76.8-106.8h0m86.9 47.4h0m-60.3-36.1h0m-10.3 122.1h0m-2.9-119.6h0m8.7 121.5h0m47.8-92h0m-52 82.2h0m16 6.5h0m-20.2-0.2h0m9.8-104.6h0m-19.5 119.3h0m44.3-125.3h0m-1.2 19.2h0m-22.8-15h0m29.9 87h0m-46.9-118.5h0m52.9 45.3h0m25.3 62.9h0m-35.7 18.2h0m-27-104.9h0m-25.7 137.9h0m60.6-111.5h0m-3.2 65.4h0m-53.3-118.5h0m-6.2 125h0m40.1 5.5h0m49.5-71.9h0m4.8 58.1h0m-82.6-111.2h0m-11 26.9h0m54.2 95.2h0m6.8-72.3h0m-29.3 73.1h0m-6.2-81.7h0m-2.6 87.2h0m33.4-5.7h0m-7.5-81.7h0m6.7 85.9h0m-31.1-125.4h0m-1.8 126.6h0m-5.2 4.4h0m22.2-93.1h0m8.2-6.2h0m-38.5-0.8h0m24.7 93.1h0m17.3 1.1h0m-28.8 4.4h0m-18.6-110.5h0m53 105.6h0m-54.7-91.4h0m9-0.8h0m-2.6 89.2h0m73.6-11.9h0m-40.8-75.7h0m-39.7 119.6h0m8.5-34.2h0m-9-91.9h0m-1.1 124.2h0m65-111.2h0m-37.9 90.4h0m39.6-81.8h0m-20.3-22h0m24.1 85.8h0m-26.9-69.9h0m38.8 73.8h0m2.1-9.5h0m-71.2-84.3h0m42 13.8h0m30.9 73.3h0m-47.5 24.1h0m-26.9-6.1h0m0.7-106.2h0m52.8 28.7h0m7.6-3.6h0m-33.2-11.3h0m16 85.6h0m-34.7 7.7h0m33.5-95.7h0m-8.3 98.6h0m-14.4-95.5h0m26 1.8h0m-56.8-32h0m85.8 109.8h0m-28.6-68.8h0m-15.5-8.6h0m37.3 80.3h0m-71.5 18.1h0m-4-9h0m82.4-79h0m-4.3 5h0m-83-23.8h0m59.6-3.8h0m-2.1 19.4h0m-13.7 87h0m-8.9-15h0m34.4-68.5h0m-42.2-28.3h0m1.4 111.4h0m-12.1 13.1h0m-10.4-16.5h0m42.4 2.5h0m-5-87.3h0m-0.5 84.9h0m-39.7-106.7h0m54.8 23.9h0m-24 85h0m2.3-15.3h0m27.4-84.7h0m19 79.6h0m-8.8-64.8h0m-36.2-28.5h0m28 17.7h0m20.1 9.7h0m-83.4 80.7h0m41.1-90h0m31.2 7.6h0m-68 87.1h0m30.9-97.8h0m7.8 99.2h0m-23-1.3h0m50.8-85.7h0m-69.5 92.5h0m64.8-23.8h0m178.1-51.4h0m-126.4-9.8h0m67.8 11.9h0m-45.8-0.6h0m30.9-4.3h0m-10.3 40.6h0m68.4-36.5h0m-21.9 1h0m0.9-3.6h0m36.9 38.5h0m-8.7 0.5h0m-99.9-0.5h0m93.2-2.1h0m-128.7-43.6h0m28.4 45.8h0m-14.3-43h0m-4.5 46.5h0m13.9-2.4h0m-21.1-47.7h0m47.7 7.4h0m-56.5-12.8h0m36.9 53.7h0m-23.4 6.3h0m124.4-43.8h0m-124.8 44.8h0m-3.6 1.4h0m16-8.7h0m-14.2-49.5h0m52.5 48.2h0m28.2-1.2h0m32.8 0.6h0m-118.1-45.6h0m29 47.1h0m-3.2-40.8h0m15.9 39.3h0m0.2 2.5h0m-24.9-47.7h0m26.7 47.4h0m22.5-1.5h0m-13.4-39.8h0m2.9 3.1h0m88.9 34.3h0m-79.9 1.4h0m76-1.9h0m-117.6-42.6h0m10.7 7.4h0m-38.6 46.8h0m40-51.8h0m-27.8-6.5h0m34.1 10.8h0m-46.6-11.7h0m44.6 14.3h0m41.5 35.7h0m-88.6-43.9h0m39.8 45.8h0m5.4-40h0m-19.3-7h0m32.8 7.3h0m71.6 35.9h0m-55.1-36.1h0m5.1 38.7h0m-29.7-39.9h0m47.3 1.5h0m54.7-0.2h0m-0.2 0.6h0m-129.1-1.2h0m124.8 36.3h0m-133-40.7h0m57.2 41.6h0m-43.1-43.6h0m80.6 42.8h0m28.8 1.2h0m-89.3-34.4h0m78 0.5h0m-34-2.2h0m-4.6 35.1h0m35.8-34.6h0m-45.3 35.5h0m-57.8-39.4h0m20.5 2.8h0m0.4 1.8h0m47 35.8h0m-31.3-37.6h0m55.6-0.6h0m-63.3-1.4h0m53.2 3.2h0m-32.9-2.3h0m74.3 2.5h0m-38.1 34.5h0m29.9 1.7h0m-126.9 4.8h0m80.8-44.3h0m-73.9 0h0m26.8-3.1h0m34.7 41.6h0m-26.7-42.2h0m-23.8 5.3h0m9.2 37.3h0m-24-45.8h0m17.8 0.7h0m28.6 3.3h0m-32.6 2.4h0m89.8 39h0m-11.4 1.4h0m-94.3-43.8h0m66 4h0m-33.9-1.4h0m58.4 40.7h0m5-2.3h0m-57.9-34.3h0m-17.2-0.2h0m97.7 34.5h0m-124.6 13.4h0m39.3-46.6h0m1.5-6.4h0m98.7 41.9h0m-7.5-37.5h0m-95.4 1.5h0m-3.1-0.8h0m15.7-4.9h0m-44.7 52.8h0m34.1-8.5h0m4.3-42.1h0m76.7 1.7h0m-24 38.6h0m-20.5-41h0m-72.9 47.5h0m99.8-9.1h0m-56-33.9h0m51.1 0.1h0m-88-11.9h0m33.4 6.4h0m-21.7 44.9h0m92.7-41.7h0m-15.5 3h0m24.1 34.1h0m-96.5 2.9h0m-20.3-52.3h0m99.4 13.2h0m-27.5 36.6h0m-50.8 5.5h0m66.2-43.1h0m-83.4 43.7h0m28.6-44h0m31.7 3.4h0m-34.6-9.1h0m78.1 42.1h0m21.2 1.2h0m-138.2 13.4h0m21.3-52.4h0m-3.5 43.9h0m-15-49.5h0m47.3 44.6h0m18.7-36.5h0m-16.3-0.6h0m-30.5 43.4h0m8.5-48.4h0m2.6 47.6h0m93.9-6.4h0m-86.4-37.4h0m-9-5.1h0m-5.3 5.9h0m101.5-0.2h0m-74.8 3.2h0m82.7 0h0m-62 35.3h0m11-34.8h0m3.3-3.3h0m-77.9-7.3h0m87.7 44.3h0m40.8-36.2h0m-101 40.8h0m106.4-38.7h0m-26.5-2h0m-107.6-11.1h0m-5.1 5.3h0m84.6 5.9h0m-30.3-1.7h0m70.7 2.1h0m-104.3 40.4h0m51.5-3.1h0m-52.4-43.9h0m29.9 8.1h0m-46.1 41.1h0m57.7-7.4h0m-14.6-34.6h0m-34.2-10.1h0m7.2 52.3h0m-13.4-52.1h0m31.6 48.6h0m-38.1-54.6h0m-3.7 61.4h0m139.5-47.7h0m-87.4 2.7h0m-37.1-13.8h0m93.2 48.6h0m-85.1 2.5h0m89.3-40.5h0m-48.6-2.4h0m-2.7 42.7h0m-41.9 5.1h0m40.9-42.9h0m9.1 35.5h0m-58.9-45.6h0m130.9 10.4h0m-18.2 35.2h0m-105.8-41.9h0m-13.8-5.2h0m7.2 54.3h0m77.9-7.3h0m-60.9 3.3h0m48.4-42h0m-36.5 4.3h0m108.3-1.9h0m-91-2.2h0m-46.1 45.9h0m103.7-7.1h0m-87.2-43.1h0m-19.6 50.3h0m4-50.9h0m-12.8 55.3h0m23.8-54.6h0m-12.4 1.7h0m29.1 41.1h0m20.7-38.4h0m-42-1.9h0m140.2 5.1h0m-137.4 41.2h0m66.8-4.8h0m-85.2-47.4h0m148.3 45.1h0m-126.6 6.7h0m-14.6-0.9h0m30.6-1h0m48.5-41.6h0m-84.6 48h0m26.8-46.7h0m79.8 36.1h0m-107.2 12.2h0m64.9-10.7h0m-53.6 5.8h0m38.9-41.6h0m-7.4-1.7h0m89.7 0.3h0m-79-4h0m-51.4 49.8h0m151.1-44.5h0m-17.4 33.1h0m-41.5-34.4h0m-79.2 41.2h0m-11.7 1.5h0m110.6-42.6h0m17.1 37h0m-1.8-38.3h0m-85.8-1.9h0m-12.4 39.5h0m26.9-36.4h0m-51.6 43.3h0m130.2-8.4h0m-120.7-40.5h0m84.8 40.2h0m32.8-35.2h0m-57.1 1.2h0m-24.6-4.4h0m57.5 5.5h0m2.7-0.1h0m-76 39h0m31.5-2.3h0m-39.9 2.7h0m59.2-5.5h0m33.2-36.2h0m-73.4-0.6h0m-1.1-1h0m-2.2 0.2h0m105.1 0.4h0m-67.1 1h0m-65.2-3.5h0m11.5 46h0m-7.1 1.1h0m-20.5 2.1h0m146.7-47h0m-124.6-0.4h0m90.1 2.2h0m-97.3-9.3h0m-10.9 54.5h0m17.5-53.6h0m16.7 44.8h0m17.9-0.3h0m-41-46.1h0m-6.5 55h0m47.4-9.1h0m43-0.5h0m8.3 1.9h0m-61.1-41.7h0m-27.4-0.6h0m15.9 2h0m50.7 4.2h0m17-0.9h0m-94.2 40.7h0m55.1-3.1h0m-53.8-42.4h0m124.6 5.6h0m-45.4 34h0m-69.3-37.9h0m46.1 1.8h0m83 2.3h0m-40.6-2.1h0m-63.1 2.6h0m44.3 0.1h0m-60.7-1.2h0m-12.8 42h0m68-4.5h0m-49.5-46h0m-33.8 54.7h0m50-7.9h0m51.9-39.5h0m-64.9-1.2h0m116.4 1.8h0m-72.2-2.6h0m-31.5 39.7h0m14.8 1.1h0m-13.5-36.8h0m68.7-0.5h0m-63 0.5h0m-37.1 37.9h0m-8.1-41.7h0m19.2 41.1h0m-28.3 8h0m94.4-11.3h0m-25.9 0.1h0m-32.2-38.5h0m50.1 3.7h0m-92.2-14.8h0m136.3 50h0m17.1-36.5h0m-23.7 2.1h0m-74.4 36.4h0m-25.7-40.4h0m0.6 42.7h0m39.6-42h0m-43-2.7h0m-14.3-8.9h0m51.2 12.3h0m47.2-0.2h0m14.8 38.6h0m-85.1-38.8h0m-39.2-9.5h0m6.8 54.5h0m43-42.4h0m-22.8-6.9h0m31.7 41.5h0m70.6-36.6h0m-13.1 1.7h0m-78.1-5.3h0m42.8 7h0m-55.5-6.7h0m118.9 40.2h0m-133.9 5.6h0m84.4-39.1h0m-96.7-18.5h0m2.3 7h0m43.6 8.6h0m16.8 38.9h0m-61 6.5h0m75.8-49h0m10.9 2.5h0m56.2 0.2h0m-132.6-5.6h0m7.7 50.6h0m82.5-7.7h0m-56-0.3h0m76.7 1.6h0m-108.2-48.9h0m43.4 47.7h0m45-37.6h0m-28.1 3.7h0m-62.7-8.1h0m34.6 44h0m-5.1 0.6h0m-7.1-41.3h0m102.5 4.9h0m13.3 35.1h0m-150.9 7.4h0m0.6-50.4h0m14 2.1h0m12.2-1.5h0m-12.5-6.5h0m19.3 53.1h0m25.9-41.9h0m-23.2 37.8h0m-31.2 7.9h0m67.8-9.6h0m49.4-37.1h0m-99.1 43.5h0m-21.6-48.4h0m46.1 45.4h0m-39.3 7h0m76-45.1h0m-16.2-3.2h0m-56.6-2.6h0m-2.5-1.3h0m93.2 5.5h0m40.1 1.3h0m-49.6 1.2h0m-52.9-6.9h0m7.9-0.7h0m0.1 5.7h0m-6.5-7.3h0m-41.6 54.8h0m97.6-12.4h0m-94.2-49.8h0m7.4 58.3h0m77.3-45.2h0m-70.4 45.7h0m60-45.5h0m-1.2 1.5h0m-17.7-5.1h0m75.4 39.3h0m-63.2-38.2h0m-15.9 0.9h0m71.3 38.2h0m-114.7 9.2h0m20.2-5.5h0m110.7-36.5h0m-112.9 38.1h0m37.2-45.3h0m-31.8 44.4h0m31.7-39.7h0m-59.3-13.4h0m2.8 60.6h0m132.6-48.4h0m-142.7-11.9h0m1.8-1.9h0m57.6 14.7h0m44.9-0.6h0m-25.9 36.8h0m-42.5-39.1h0m46.6 4.2h0m-11.5 37.2h0m-42.1-41.4h0m59.2 5.6h0m-29.8-1.3h0m-36.5 38.2h0m-14.4-43.9h0m33.1 4.5h0m76.4 37.2h0m-46.7-39.5h0m17.7-0.9h0m-20.2 40.9h0m-3.9-40.7h0m50.3 1.3h0m24 3.1h0m10.5 33.2h0m-17 2.1h0m-121-50.3h0m-10.1 57.4h0m118.1-44h0m33.6 2h0m-96.5-3.9h0m-29.4-4.5h0m84.4 41.5h0m-53.2 2.3h0m-54.3 4.9h0m154.6-7.4h0m-144.1-42.9h0m115.9 44.4h0m13.4-0.3h0m-21.8-34.7h0m-121.3-11.3h0m129.2 45h0m-91.1 5.5h0m31.2-2.8h0m74.5-1.4h0m-29.5-35.4h0m10.9 1.7h0m-123.2-17.1h0m75.9 16.3h0m15.9 0.4h0m58.6 0h0m-109.9 34.5h0m-30.4 6.2h0m44-42.7h0m31.5 35.7h0m9.9-35.7h0m-14 38h0m24.8-1.5h0m31.5-37.1h0m-89.2 1.8h0m-0.1-5.6h0m56.6 5.2h0m-82.1-7.5h0m68.5 8.4h0m-69.5-3.6h0m105.2 3.1h0m-76.7 35.4h0m68.6-1.5h0m-69.2 3.6h0m-14.7 1.3h0m-18.4-51.1h0m28.2 7.7h0m69.6 4.4h0m-103.2-5.9h0m119.3 41.1h0m-113.6 7.8h0m49.6-42.5h0m-36.1 37.4h0m56.5-37.8h0m-57.5-8.7h0m-21.2 2.1h0m3.8-5.2h0m27 47.1h0m116-34.5h0m-126.9-9.4h0m-22.4-4.5h0m35.5 11.8h0m70.4 35.7h0m-113.2-49.1h0m86.7 48.6h0m-83.2 10.8h0m26.7-47.2h0m78.8 1.8h0m-103.6-9.2h0m66.5 10.9h0m-47.5-3h0m48.9 36.7h0m-69.3 9.7h0m26.1-53.1h0m81.2 6.5h0m-97.9-8.1h0m13.4 48.9h0m16.5-39.3h0m47 0h0m-17.2-0.4h0m-59.6-8.6h0m16.5 46.6h0m-29.7 5h0m17.4-1.9h0m55-4.3h0m-56 8h0m65.2-7.9h0m-48.7 1.9h0m5.7-39h0m3.9-1h0m7.1 37.5h0m-17.1-44.7h0m-13.3 3.7h0m33.5 40.7h0m-20.5 1.5h0m54.6-35.3h0m-22.4-1.4h0m-25.8 1.3h0m57-2.8h0m36.8 2.8h0m-63.4-0.4h0m82.2 0.5h0m-133.3 38.1h0m0.9 1.9h0m127.4-41.1h0m-124.9-5h0m1.6 45.3h0m125.9-6.3h0m-3.4-37.1h0m-123-6.9h0m-20 52.5h0m-1.3 4h0m154.1-46.3h0m-101.7 37.5h0m3.2-2.7h0m93.1-34h0m-26.1-1.7h0m-54.7-0.6h0m0.8 37.4h0m-38.8-39.1h0m31.2 38.6h0m-6.8 0.5h0m-51.8-46.7h0m87.3 11.3h0m49 34.8h0m-138.9-48.9h0m19.4 5h0m44.2 6h0m45 0.5h0m-28.7 38.7h0m8.9-36.1h0m-39.8 34.3h0m-16.5 5.6h0m67-4.3h0m-30.3-36.2h0m3.1 0.1h0m-65-13.5h0m30.7 12.7h0m-17.8-6.5h0m-12.3 51h0m89.3-43.4h0m-73.9 41.2h0m14.7-4.7h0m3.7 1.4h0m6-39.8h0m23.9-0.6h0m77.6 37.6h0m-69.5-0.4h0m-13.7-40.3h0m-11.5 40h0m-42-40.3h0m98 40.1h0m-17.3-37.3h0m1.9 0.2h0m26.4 1h0m-60 1.7h0m-29.6-1.9h0m20.1 36.2h0m-21.7-37.8h0m88.6 37.5h0m-103.1-39.3h0m104.3 40.9h0m34.4-35.8h0m-76.7 0.2h0m7.6 34.6h0m-58.6-38.5h0m-22.2 49.4h0m36.2-10h0m-25.5-46.4h0m101.3 45.3h0m-101.7 9.1h0m-1-48.5h0m52.9 5.8h0m-46.1-8.8h0m5.9 2.6h0m72 40.8h0m-50.2-0.6h0m87-34.8h0m-122.5 43.4h0m6.9-51.4h0m3.7 3h0m46.7 3.2h0m37.4-0.8h0m-70.7-1.6h0m11.5 42.1h0m-36.2-47.7h0m72.8 44.6h0m-40.2-40h0m54.2 39.1h0m112.1-35.6h0m12.9 4.3h0m-59.1 30.4h0m83.2 0.5h0m7 7.5h0m-8.6-42.5h0m13.1 34.4h0m5.3 5.3h0m-7.9-35.2h0m-30.7-4.6h0m-21.4 3.8h0m48.2-2.9h0m-45.7 36.8h0m22.3-0.2h0m34.6-30.9h0m-1.4 0.8h0m-2.7 27.9h0m-99.1-0.7h0m65.8-30h0m-53.7 32.8h0m7.7-34h0m1.4 30.1h0m63.8-28.8h0m-84.4 29.5h0m44.2-31.6h0m49.1-1.3h0m-49.4-2h0m34.7 36.8h0m-19.6 1.9h0m33.2-34.2h0m-92.6 32.2h0m1.8-34.5h0m89.3 38.1h0m-34.4-3.8h0m45.3-32.1h0m-74 29.9h0m38.7-31.9h0m-63 1.2h0m8.5 31.9h0m4.8-34.5h0m80.5 33.4h0m3 2.5h0m-60.8-37.5h0m56.6-1.6h0m-43.5 6.3h0m-17.2-2.3h0m53.6-0.1h0m0.8 3.5h0m-53.2-4.6h0m19.8 33.5h0m-35.3 1.8h0m59.4-1.9h0m18.7 1.1h0m-60.8-32.2h0m4.4 31.6h0m42.7-28.5h0m-71.2 28.4h0m8.7-31.6h0m49.7 1.2h0m-42.9-3.4h0m64.6 5.1h0m-31-5h0m-51.3-0.3h0m27.3-0.4h0m-32.1 36.6h0m72.6-0.7h0m9.2-31.7h0m-19.6 30.8h0m21.2 5.8h0m-41.2-3.8h0m53.1-4.1h0m-89.5 4.6h0m90-34.3h0m-0.4 1.3h0m-26.1-3.6h0m-33.8 32.8h0m-9.6-34.7h0m-19.2 4.6h0m52.3 35h0m-15.2-4.6h0m52.1-30.7h0m-17.6 33.6h0m9.6-5h0m-18.8 5.2h0m5.4-4.6h0m2.3-33.1h0m7 3.2h0m-71.1-2.5h0m22.9 35.8h0m41-1.8h0m-33.3-31.8h0m-49 34.3h0m96.9-40.6h0m-76.7 38.1h0m64.5-0.8h0m10.9 5.6h0m-35.8-5.8h0m-19 2.8h0m-14.5-31.4h0m45.4-3h0m8 31.5h0m-22.5 1.8h0m-5.9-34.3h0m50.5-0.6h0m-53 34.1h0m11.9-34.6h0m-4.9 5.7h0m-27.2 32.4h0m39.4-32.5h0m-57.1-3.5h0m71.8 33.8h0m4.7 0.6h0m-10.8 0.4h0m7.6-31.7h0m-15.7-6.3h0m-21.6 35.2h0m-3.7 0.1h0m21.2-35.9h0m-10.6 6.4h0m9.7 28.8h0m-20.5 0.5h0m32.1-34h0m0.7 34.4h0m5.5-30.3h0m-35.5 32.3h0m-36.5-36.4h0m72.6 2.1h0m16.2 2.4h0m-3.5-3.4h0m-14.3 5.8h0m9.2 30.9h0m-35.4-32.4h0m-9.6-2.4h0m54.9 39.6h0m-78.2-40.5h0m44.4-2.1h0m14.6 39.3h0m9.8 0.4h0m-22.9-38.6h0m23.1 5.5h0m-5.4 27.7h0m-83.7 2.6h0m96.4-4.1h0m2.3-26.9h0m-28.5 29.2h0m23.1-32.4h0m-4 34.8h0m4.1 2.1h0m7.1-3.2h0m-68.6 0h0m38.7-30.8h0m16.4 26.9h0m-58.4-29.8h0m42.6 3.8h0m10.8-4.4h0m-45.3 33h0m-2.5-35.1h0m66.4 1.2h0m-104.2 34.5h0m91.1-29.1h0m-88.5-4.6h0m46.9-1.2h0m-37.8 34.1h0m90.9-3.1h0m-15-26.4h0m-78.5-2h0m36.9 33.6h0m15.9-33.4h0m26.4 31.4h0m-57.1-31.2h0m55 39.2h0m-84.5-7.4h0m69.2-33.9h0m11 34.5h0m-49-0.6h0m48 3.4h0m16.3-7.1h0m-41.8-28.4h0m6.1-3.3h0m33.8 36.7h0m-72.3-34.8h0m74.1 32.6h0m-37.1-31.1h0m37.5 40.5h0m-29.5-9.3h0m21.8 1.8h0m13.1-46.7h0m-43.1 47.7h0m-53.1-34.6h0m91.3 29.8h0m-42.5 2.2h0m12.9-28.7h0m-52.6-2.6h0m88.9 2h0m-6.1 35h0m-96-1.9h0m8.9-3.8h0m61.1-0.9h0m-13.3 2.3h0m40.7-44.2h0m-7.7 0.8h0m-63.1 8.7h0m-0.6 2.8h0m-0.2-1h0m74.2-6.7h0m-57.3 8h0m-26 32.1h0m70.4-1.8h0m11.3-43.3h0m-66.7 12h0m56 29.9h0m-80.4 3.9h0m21.6-34.3h0m27.6 0.2h0m-15.8 30.6h0m27 2h0m23.9-30.3h0m5.7-9.9h0m-25.6 2.5h0m-9.4 36.9h0m31.7-30.3h0m-27.9-1.8h0m30.5 37.6h0m-57.6-2.6h0m-28.6-2.9h0m82.9-3.5h0m0.5 7.6h0m-65.9-35.2h0m2 31.4h0m-6.6-33.4h0m-16 34.2h0m34.3-33.4h0m47.1 0.9h0m-4.4 31.6h0m-68.5 1h0m21.2-1.5h0m44.8-30.1h0m-58.3-2.7h0m60.7 37.7h0m-7.3-33h0m22.1 29.9h0m-48.9-36h0m45.7 7.2h0m-37.3-7.7h0m29 6.7h0m-61.9 29.2h0m6-1.2h0m-16.9-33.6h0m70.5 3.4h0m-56.4-1.3h0m-8.6 34.8h0m72.7 0.1h0m-42.9 0.8h0m39.5-6.2h0m-58.9-27.8h0m14.8 31.3h0m-2.9-0.7h0m3.6-33.4h0m36.9-5.8h0m-33.1 9.4h0m-11.4 32.7h0m54.2-35h0m-9 29.7h0m-11-30.9h0m-29.7-1.2h0m41.1-6.2h0m9 5.7h0m31.4 28.1h0m-2.8 19.8h0m29.9-21.7h0m4 1.8h0m-6.8-12.9h0m-0.8-3.6h0m-16.5-27.9h0m7.3 21.6h0m3.2-7.4h0m-10.1 40.5h0m12.9-30.1h0m-9.8 3.9h0m-9.4-15.5h0m12.9 35.8h0m-16.2 9.6h0m28.4-33.4h0m-18.7 18.7h0m15.3-14.8h0m5.7 11.7h0m-2.1-19.6h0m-38.9 34.3h0m32.5-31.7h0m1.4 6h0m-23.7-3.6h0m-20 27.8h0m13.6-30.8h0m38.9-2.3h0m-49.8 26h0m22.8-28.4h0m10.8 7.6h0m-28.4-8.9h0m36.3 27.1h0m5.3-15.7h0m-45.3 22.9h0m27.6-49.6h0m-12.3 54.8h0m-16.2-8.7h0m-0.5-24.8h0m3.3 30.8h0m23.1-31.9h0m19.4-6.5h0m-31.6 9.5h0m18 1.7h0m8.1-11.2h0m-13 5.7h0m9.7 39.8h0m7.8-33.8h0m-3 16.8h0m3.9-43.7h0m-7 27.7h0m-26.6 20.4h0m25.4 0h0m4.8 3.6h0m-23.9 3.7h0m15.5-29.6h0m16.4 17.9h0m-27.8-18.1h0m3.9 28.5h0m13.9-30.9h0m6.7-2.2h0m-35 3.8h0m14.3 2.4h0m7.6-4.5h0m-0.7 20.6h0m5.9-0.1h0m8.4 16.2h0m-15.7-7.9h0m18.5-28.3h0m-9.3 18.2h0m8.5-32.7h0m-11.2 38.2h0m-39.4-22.9h0m32.1 39.4h0m7.3-14.2h0m-15.5 7.1h0m5.6-12h0m4.9 14.3h0m-12.8-37.2h0m28.1 33.3h0m-16-2.4h0m-13.2-48.2h0m28.7 43h0m-47.5 15.9h0m39.9-8.9h0m-32.2-4.7h0m34.7-30h0m2 39h0m-16.1 11.4h0m10.1-47.2h0m-23.7 0.2h0m3-1.6h0m-14.7-14.5h0m20.3 7.7h0m-18.8 42.4h0m14.6-9.6h0m13.6-18.7h0m-32.3 26h0m35-24.9h0m4.1 25.3h0m-14.8-33.9h0m-13.7 24.5h0m15.3-24.8h0m14.7 6.9h0m-20.7 29.7h0m25.7-25.6h0m-10.3-2.5h0m-30.9-7.3h0m37.9 26.7h0m-10.8 7.3h0m7-25.2h0m4.2 13.4h0m0.3 1.3h0m-1.1 8.6h0m-23.3-29.5h0m-4.1-0.7h0m34.8 18.9h0m-8.2-40.8h0m-29.7 9.1h0m-9 53.2h0m8.1-42.7h0m-7.7 36.2h0m30.1 4h0m-29.5-7.7h0m36.1-6.8h0m-28.2-0.2h0m-9.1-29.6h0m23.9 6h0m-15.9-4.1h0m11 4.6h0m24 15.7h0m-34.4-14.3h0m30.2 29.5h0m-14.6-36.3h0m22 3.2h0m-23.6 21.9h0m0.6-34.1h0m-23.2 5.4h0m-6 4.7h0m27.2 34.8h0m-24-1.6h0m48.1 6.3h0m-36.8-35.6h0m24.5-2.5h0m-26 0.3h0m21.2 20.5h0m3.9-15.5h0m-2.6 20.3h0m-21.1 14.1h0m21.5-58.7h0m16.3 43.8h0m-32.2 3.4h0m5.9-27.1h0m-19.5 25.7h0m46.1-22.5h0m-39.6 36.1h0m29.1-17.6h0m8.8-13.9h0m-14.1-0.4h0m9.6 23.6h0m-2.9-22.4h0m-11.5-8.9h0m8.4-14.7h0m-36.8 8.4h0m7.4 33.1h0m17.4-21.6h0m14.1-22.5h0m-15 19.9h0m17.2-6.6h0m-30.3-0.5h0m9 4h0m21.9 20.3h0m-29.7 7.5h0m20.6-1.9h0m-19-33.4h0m8.4 36.8h0m-23.9 4.6h0m51.6 6.7h0m-1.5-13.2h0m-20.1-21.7h0m8.9-18.2h0m-17.9 15.1h0m-2.3 36.1h0m14.5-32.1h0m17.2 14.7h0m-22.3 18h0m-2.7-37.9h0m-18.6 1.9h0m10.8-2.2h0m-13.2 24.4h0m30-4.7h0m-11.5 7.3h0m16-20h0m-28 19.3h0m7.3-1.5h0m-14.1 1.8h0m28.4-3.8h0m-12-21.9h0m-2.3-3.2h0m27.5 19.5h0m-8.1 8.7h0m1.4-4.1h0m-33.5 13.3h0m6.6-37h0m-0.9 26.9h0m24.8-34.6h0m-20.5 42.9h0m14-28.9h0m24 7.1h0m40.1 2.5h0m-14-14.2h0m-18.3 15h0m26.2 1.6h0m-15.6 7.2h0m-17.3-17.7h0m-0.4 40.4h0m27-41.5h0m1.7 20.8h0m7.9-8.4h0m-28.2-2.9h0m19-27.6h0m-3.4 25.7h0m-9.1 1.7h0m23 1.2h0m-6.1-2.1h0m18.5 1h0m-36.1-6.9h0m22.1-4.9h0m-5.8 35.1h0m-25.7-33.4h0m4.7 9.7h0m41.4-10.9h0m-17.2 4.5h0m-16.8 39h0m-11.7-16.3h0m5.7-13.7h0m23.6-0.6h0m-20.2 5.8h0m7.9 9.1h0m28.7-7.6h0m-2.2-15.3h0m1.6-6.2h0m-40 12h0m-2.7-1.6h0m6-5h0m2.3 18.1h0m4.5-0.2h0m29.9-16.3h0m-20.1-3h0m-23.7 1.4h0m22.5-6.9h0m16.4 5.9h0m-37.5 9.9h0m0.9 11.4h0m13.7-4.2h0m7.5 9.9h0m0.8-16h0m1.7 3.2h0m12.5 1.2h0m-21.2-21.9h0m-14 15.8h0m1.5-21.1h0m-2.5 9.5h0m18.6 25.1h0m13.5-45.1h0m-13.7 24.8h0m-27.8 10.8h0m-0.6-10.4h0m1.8 0.4h0m20.3 30.3h0m8.3-18.2h0m-9.5-0.8h0m23.3 5.2h0m-1.1-26.2h0m-30.1 14.9h0m21.6 10.3h0m-16.2-1.7h0m0.9-0.1h0m20.9-7.5h0m-39.1 0.7h0m10.1 0.8h0m12.9 2.2h0m21-23.5h0m-9.5 20.2h0m5.3 5.7h0m6.4-29.3h0m-7.1 19h0m-15.8-8.6h0m-12.4 7.6h0m48.9 13.3h0m19-9.1h0m-8-1.3h0m47.3 7.9h0m-27 9.5h0m31.5-3.5h0m-55.4-10.7h0m20.5-5h0m26.1-0.9h0m-23.7 18.3h0m32.6-25.4h0m-57.5 2.9h0m31.6 6.4h0m28 9.6h0m-65.7 2.4h0m37.3-16h0m-26.2-27.1h0m56 44.4h0m-73.4-27.5h0m-1.2 3h0m43.9 29.5h0m-32.9-14.9h0m23.3-7.9h0m-535.7-111.7h0m2.1-1.6h0m1.9-1.4h0m0.4-0.3h0m3.2-2.4h0m0.7-0.5h0m1.7-1.3h0m2.3-1.7h0m1.3-1h0m1.6-1.1h0m2.6-2h0m1.3-1h0m-19.8 41.4h0m3-2.3h0m1.6-1.2h0m2-1.5h0m1.8-1.3h0m1.4-1.1h0m2.8-2.1h0m2-1.5h0m1.6-1.1h0m2-1.5h0m2.5-1.9h0m1.6-1.3h0m2.1-1.5h0m2.4-1.8h0m1.9-1.4h0m2.4-1.8h0m-29.8 43.5h0m1.5-1.1h0m2.8-2.2h0m2-1.4h0m2.4-1.8h0m1.9-1.5h0m3.7-2.7h0m1.7-1.3h0m2.3-1.7h0m1.7-1.3h0m-20.7 161.9h0m1.9 1.4h0m2.3 1.7h0m1.7 1.2h0m2.3 1.7h0m1.7 1.3h0m2.3 1.7h0m2.1 1.6h0m2.5 1.9h0m1.4 1h0m2 1.5h0m3.1 2.3h0m0.9 0.7h0m2.5 1.9h0m1.8 1.3h0m2.3 1.7h0m2.3 1.8h0m2 1.4h0m2.7 2.1h0m2.1 1.6h0m-40.3-2.5h0m1.8 1.4h0m3.5 2.6h0m1.2 0.9h0m2.3 1.7h0m1.8 1.3h0m1.9 1.5h0m1.7 1.2h0m1.8 1.4h0m3 2.3h0m1.9 1.4h0m1.6 1.1h0m2.6 2h0m-24.9-61.3h0m3.3 2.5h0m3.6 2.7h0m2.9 2.1h0m3.4 2.6h0m3.4 2.5h0m3.5 2.7h0m3.5 2.6h0m3.5 2.6h0m3.1 2.3h0"/>
<path fill="none" stroke="none" marker-start="url(#mb)" marker-mid="url(#mb)" marker-end="url(#mb)" d="M408.3 615.4l-72.7-52l-145.5 4.5l128.4 10l-50.6-33.2l220.1 46.8l-312.7-18.4l39.9-25l43 20l126.8 23.2l6.1-12.9l-113.4-12.1l137.4-4.9l-81.1 38.2l79.5-44.6l40 22.1l-154.5 41.8l-149.9-69.2l86.6 50.8l76.2 9.1l187.6 8.6l-145.1-7.9l-71.6-23.2l87.4 21l-9.1-60.4l171.4 54.2l-80 30.8l-179-69.9l34.5-17l131.6 64.1l-73.2-12.9l-81.9 14.3l45.7-10l59-19.3l89.6 19.3l-251.6-16l-28.6 14.3l37.3-20.9l68.3 30.8l-30.3-57.2l-96.6 43.1l273 17l-129.9-6.2l-23.9-0.6l131.1 3.1l-86.5-1.3l-37.8-34.9l149.4 32l-139.9 0.4l-135.9-21.9l18.7 6.8l-13.8-43l195.7 14.4l-54.2 40.3l147.2-36.1l-234.9 53.5l56.6-29.7l32.4 10.9l7.9-47.7l129.6 61.3l-175.5-82.6l-140.1 24l156.8 37.1l68 27.4l55.9 8.8l-85.4-38.4l-18.9 42.5l-22.2-25.3l28.3-10.7l103.2 23.3l-135.7-48.6l-25.9-29.2l28.7 0.9l24 12.4l-98.3-27l89.8 34.7l2.2 20.2l226.8 9.3l-365.6-37.5l233.5 53.4l-193.1-41.2l20.2 16.2l52.4-36.3l-90.2 50.3l278.9 22.9l-154.3-92.7l72.6 87.6l37.1-44.7l-55.4 40.1l-109.7 17l161.6-33.8l-107.8-31.5l68.4 10.5l-151.8-40.2l34.1 37.1l57 17.1l42.6-23.9l96.5 56.7l-82.4-69.7l-65 29.8l-44.7 23.5l-2.2-19.3l128.1 6.4l-149.2-0.6l-19.1-40.4l40.3 34.1l112.1-0.8l99.7 2.4l-187.9 46.4l100.6-71.3l-175.4 52.5l239.5 16l-22.2-55.1l-269.7 2.3l192.5 12.5l146 42.9l-233.3-15.8l229.8-26.1l-130 29l-204.1-37.7l100.6 8.7l99.6 14.6l7.8-22.8l-174.5-18.3l269.4 6.7l-362-48.6l220.9 105.5l-38.6-7.7l54.6-74.4l123.2 51.2l-68.2 28l-91.7-40.1l72.1-51.4l-1.5 16.9l-98.5 13.6l-43.2 16l242.1 6.3l-306.2 2.1l196.9-3.1l90.8 32.3l-184.4-44.9l153.7-12.8l-141.7 30.2l2.6 15.7l9.6-42.6l-98.1-7.8l-32.8 29.5l306.4 36.6l-187.4-10.7l-31.6 16.5l-58.2-29l68.5-5.9l-31.4-7.4l51.3 31.8l-105.9-76.2l108.4 59.8l171.7-13.2l-146.3 33l-67.9-8.6l142.5-60.1l56.1 71.1l-178.3-46.6l244.5 29.6l-98.5-20.2l-79.9 33.3l29.4-53.6l-163 40l85.5 7.5l195.4-40.3l-203.3 9.5l-103-8.1l238.4 49.8l-171.1-52.2l-75.3-8.7l65.8 40.7l199.9-31.8l-58-15.1l18.7 12l-141.1 18.1l92.3 8.4l50-10.9l-112.7 32.5l-22.3-54.1l48.1 26.8l1.9 39.2l67.1-32.7l39.7-65.1l-89.3 66.9l66.2 10l-220.7-60.3l276.9 83.2l-225.2-35l34.6-40.1l0.6 56.4l158.7-7.7l-213.4-9.3l93.8 11.9l164.9-16.5l-32.8 30l-166.9-44l-31.9-15.8l140 13.4l-119.4 2.2l191.6-5.2l-162 32.2l58.3-53.8l-47.4 66.8l-31.7-53.1l121.8-8.2l32.1 55.6l-199.2 6.8l236-109.5l-205.5 119.9l79.7-33.7l-32.1-41.5l-81.7 16l6.9-21.6l-34.9 27.7l240.5 39.6l-215.7-56.6l163.2 10.5l-196.8 16.1l139.6 23.2l-64.2 9.9l130.8-48.8l14.2 27.7l-141.8-6.3l110.3 26.6l-113.7-51.6l111 25.5l92.5 36.6l-182 0.9l-68.9-25.8l67.6-8.5l-17.3-10.9l29.1 22.5l97.8-1.6l-116.9 20l-25.4-68.8l11.1 6l13.8 17.6l-38.5 8.3l52.5-57.6l207.1 54.7l-107.2 22.4l-65.7-40.4l64.1-78.1l-84 36.2l76.2 77.9l-49.6-15l-60.5 31.1l226.8-5l-8.1-37.3l-276.6 3.8l139.1-22.7l-171 29.5l23.9-20.2l132.9 46.4l-149.8-66.4l4.5 10.6l279.9 18.2l-297.7-25.1l34.8 30.2l231.9 37.3l-206.4-53.7l138.6-35l-6.8 71.7l-53.5-70.3l-70 27.9l62 48.6l-75.1-35.2l216.1-4l-209.2 40.1l84.5-11l-66.9 16.6l183.2-9.1l-44.7 0.5l-14.2-27.1l-34.6-20.5l-39.3 54.9l-75.1-61.1l37.6 15.8l184.5 67.2l-212.9-98l223.7 68.2l-97.6 31.8l-104.9-27.5l138.2-12l-160.7-30.4l-42.3 8.2l231.2-16.5l-78.2-11.6l78.3 19.6l-253-7.6l202.2 76.7l1.7-71l-150.2 5.4l33.8 6.6l187.3 6.4l-193.8 1l182.5-2l-91.7 0.9l37.4 23.7l-162.5-93.2l10.6 100.4l202.5 0.1l-91.4-56l-121.7 14.1l4 8.2l82.5-20.6l-14.8-15.5l-25.4 43.1l182.3-22l30.3 8.7l-238 18.8l-57.2-9.2l189.3 30.7l16.9-35.5l69.5 38.5l-43.6-7.5l-32.1-15.9l-76.6-25.6l97.1 24.4l-19.2-11.7l-100 4.5l-34.4-22.1l35.9 31.1l-29.1-45.4l63.9 18.1l149.7-18.8l-32.1 35.6l19.9-5.6l-35.4-4.8l-162.2 5.9l19.9-3.9l-6.2-24.5l122.3 25.6l51.3 21.6l56.2 1l-111.5 13.2l8.7-21.8l138 19.8l-173-5.7l-154.8-5.4l33.2 10.8l197.5 4.8l-99.3-57.4l-8.6 71.5l102 0.3l-4.3-42.6l-145.7-17.1l191.2 60.4l-132.4-58.7l51.3 57.5l58.5-6.7l-163.1-70l-88.1-1.7l190.2 47.6l-194.5-7.8l50.9-45.2l151.5 11.2l-134.2 2.1l102.6 59.3l-5.5-29.7l135.5 8.4l-218.3 3.8l36 13.9l-25.5 9.2l-76.1-32.6l261.6 26.1l-254.1-42.9l-36.4-13.1l260.4 62.7l-246.4-53.1l142.3 53.7l90.4 9.5l-123.1-30.4l145 21.5l4.5 12.2l-98.7-57.4l-81.9 46.2l-79.8-62.2l187.4 41.6l-181.4-29.1l141.8 49.6l-25.3-11.5l16.8-1.2l47.4-24.5l-144.8 13.1l158.3 12.4l56.1-5l-33.9-9.8l-67.7-83.4l-42.7 55.5l176.7 60l-172.6-65.7l39.1 28.9l-112.7-84l-28.1 53.1l162.3 18.6l100.9 54.2l-177.9-2.4l203.5-35.8l-293.9-31.1l36.7 21.3l217.3-23.2l-55.5 34.9l-91.5-16.8l188.2 40.1l-138.5-73.6l-157.4 44.9l180.4 27.1l-87.8-86.4l-84.6 23.4l235 52.5l-123.1-31l-9.6 55l59.1-21.7l65.9-33l-259.7-28.4l275.7 18.1l-86.2 43l-65.6 16.3l185.8-42.9l-306.6-0.9l2.4-5.7l273.2 35.1l-203.4-23.4l69.8-18l72.9-13.7l-60.9 20.4l-93-18.9l255.5 33.7l-152.5-35.8l31.8 28.3l41.7-50.3l-51.6 59.5l-14.8-45.3l-27.4 71.7l11.8-54.3l33.7-14.3l102.7 20l-304.2-19.4l237.8 50.3l-213.6-25.6l294.2 32.9l-337.9-45.2l125.5 27.3l105.1 13.6l-20.9 1.7l-8.5-53.1l44.9 10.2l-35.6 27.6l-207.6-41.4l86.2 71.2l192.2-4.3l-156.6-38.7l111.5 54.1l-27-70.7l-140.1 20.7l204.4 3.6l25.2 30.6l-229.4-4.5l154.3-35l-66.5-21.3l138.5 23.2l-215.6-27.1l32 68.5l-49.7-69.8l26.9 30.5l-66.7-10.1l111.3 30.8l-73-50.6l-6.6 36.2l365 2.4l-369.4-18.9l72.9 25.9l-145.2-59.2l86.1 72.5l77.7-65l-3.1 1l188.9 47l-224 21.4l300.1-5.7l-90.9 2.1l-157.8-63.1l-58.1 37.6l137.4-3.6l69.6 28.8l-40.9-28.3l-123.6 37.3l-113.6-49.1l155.9 1.3l-97.3 26.1l-34.2-25.1l35.6 24.3l197.5 15.9l-156.4-23.1l-24.4-18.1l74-14.3l95.2 14.5l-190.8 48.4l-17.3-47.7l66.2 30.9l-58.7-44.2l147 17l157.6 40.1l-415.7-92l221 30.5l95.3 44.8l-81.2-29.2l133.6 2.4l-90.3 25.5l-177-55.4l-18.4 20.8l156.3 44.7l-104.6-90.9l37.5 100.1l214.6-37.5l-39 12.6l-152.7-29.1l159.2 50.3l76.2-11.6l-141.3 18.8l-151.7-15.7l20.6-36.9l152.2 41.3l24.4 8.8l-179.6-17.5l-67.2-5.8l146.1-23.2l-15.5-23.1l-116 17.5l116.3 42.7l36.8 0.2l-0.5-13.4l-57.1-15.7l168.2 24.7l-350.1-92.7l193 83.4l-52.5-22.7l144.5 4.5l-215.2 21.7l32.8-32.9l28.1 43.7l108.4 3.1l-148.1-56l56 8.2l164.2-9.6l-192.7-11.7l31.5 39.4l153.6 12.4l-119.3 10.7l122.5-6.6l13.7 13.5l-244-15.6l37.8-11.7l-61.9-24.6l242.4-4.1l-172.7 1.4l-58.6 24.6l162.7-0.7l-159.2 9.1l9.5 8.4l19.1-4.5l-37.2-32.7l279.2 49l-161.2-7.5l-48.7 17.6l16.8-34.3l34.8-59.5l182.2 54.4l-250.9 29.4l34.9-71.5l135.3 55.7l76-29.4l11.4 43.1l-84.6-26.3l-123.8-42.5l-4.7 51.9l270.1 7.4l-145.8-44.5l-189.6 25.3l-23.8-28.9l69.8 62.4l30.6 5.4l146.5-8.8l-114.3-42.4l-32.9 44.6l-18.1-37.8l-4.5-34.6l142.8 56l-75-5.6l-52.8 17.2l121-31.1l-72.6-6.1l-35.8 11.9l94.3-21l-35.5-14.4l-59 48.3l-17-30.5l19.2-6.9l141.6 46l40.9 26.7l-85.5-38.7l34.8 38.9l-5.1-11.1l-75.3-76.3l-147.4 3.5l37.4 67.7l32.1-37.6l45.5-35.1l-104.4 42.3l-17-8.3l138.3-19.9l84.5 65.9l3-37.5l28.1 28.1l3.1-28.5l-124.9 21.2l29.2-66.6l156.1 36.5l-51.5 16.6l38.4-19.3l-305-18.7l205.5-13l-143.1 13.6l4 59.2l86 4.5l-22.4-38.2l-3.2 13.4l132.8-33.2l-21.3 42.6l-154.7 1.6l55.9-51.8l-58 28.9l36.7 42.8l-145.3-61.1l126.2 58.9l-29.3-26.8l39.4-29.8l144.5 18.2l-160.2-18.8l149.2-4.2l-247.7 17.3l255.1 22.3l124.9 25.3l-327.4-10.9l7.6-21.2l-1.4-12.2l15.1-15.2l106.6 57.9l-155.4-32.4l-70.2-22.9l65.9-5.3l162 9.8l-205.8-0.5l192.9-24.2l2.2 10.3l-169.3 45l-1.3-38.3l75.5 32.4l230 26.1l-147-62l-178.9 26.8l20.6-24.4l28.7 44.3l129-51.8l24.7 47.5l-95.4 11.8l142.6-7.1l-38.9-25.4l-189.4-29l92.1-3.1l76.5 49.9l-87.9-49.5l142.8 73l-35.9-50.2l-147.5 40.2l-34.1-25.8l199.1 18.8l18.4 10.9l-201.3-69.6l93.8 17l160.1 14.6l-212.7 38.6l46-15.6l250.2-11.6l-138.1 3.3l-80.6-33.9l93.1 36.5l-118.5-38.1l-44.4 62.2l-52.1-73.1l73.2 32.7l180.4 43.2l-76.6-12.5l-226.5-29.2l30.2-26.3l232.8 63.8l-170.1-69.6l100.5 50.2l91.4-27l-238.6 21.3l188.1 13.4l37.8-0.4l-93.8-63.8l-11 49.4l55.5-57.1l-123.1 30.1l-82.5 7.2l314.4-16.5l-150.5-7.2l50.3 3.5l-8 24.9l-147.3-14.8l30.7 40.5l-0.2-24l199.7 1.3l-24.6 33.9l-105.4 2.6l-163.6-63.5l116 34.1l-94.8 1.8l214.6 10.4l-161 24l-13.3-47l261.2 21.6l-56-15.9l-90.5 43.9l-128.8-36.1l207.5 16.1l-107.1-39.9l-33 7.9l-41.6 38l216.9-36.1l-119.6 2.6l-46.3-8.8l-65.1 38.8l164.3-8.6l-10.6-42.8l-107.7-8.3l20.4 5l-79.6 47l219.5 26.9l-157.5-8l104-39.2l81.7-8.5l-171.7 22l68.9 17.6l-127.2-19.4l82.6-56.5l90.8 88l-43.8-35.9l34.6-14.9l168.9 29l-295.2-42.9l255.5 59.9l-277.6-54l-25.6 28.2l138.3 23.6l-33.6 4l207.9-38.1l-129.2-4.9l-56.3 18.3l-132.1-34.3l-3.9 12.4l27.1 5.4l64.9 30.9l63.9 5.7l-154.7-52.7l180.7 1.2l35.8 26.4l-30.6-40l-46.2-7.1l-56.6 38.2l-68.4-8.7l-67.8-31.4l242.8 75l93.7-14.5l-263.6-71l38.5 35.3l167.7 47.8l-171.7-39.1l105.1-23.9l-126.8 41.2l0.1-56.3l32.1 42.6l-31-37.5l-18.6 7.1l44.2 21.5l51.4 44l-0.7-44.9l-154.6 11.5l16.4-9.2l115.5-22.2l-136.7 32l30.4 25.6l36.5-56.7l260.7 22.8l-340.8-29.8l284.2-10.3l93.3 49.6l-302.8-72.5l73.5 80.5l214.2 16.3l-57.5-13.3l-18.5-13.1l-112.2 36.7l146.2 4.8l-166.5-49.1l124.9 28.9l-197.8 2.5l239.6-83.6l-154.8 59.6l193.2 45.2l-254.6-31.6l313 27.7l-211.5-51.7l-62 56.4l-98.8-48.2l275.7 32.5l-184-7.4l100.7-28l-73.7-12.5l-63.9 11.7l-3.3 3l23.4-3.7l44.5 41.1l-49.4-23.2l-99.1-26.7l301.3 53.6l-216.4-10.7l-18.1-66.9l240.9 32.5l-163.7 49.3l36.7-30.5l-47.6 4.9l18.2 29.9l-93.9-9.1l56.8-34.8l9.3-46.5l21.6 46.4l-198.8-44.1l120-1l51.3 41.3l205 28l-277.8-53.9l111.7-22.5l63.4 49.6l-181.8-7.5l146.7 19.8l-121.3 15.3l121.4 3.1l101.3-45.4l-55.8-15.3l-220.1 15.6l207.6 29.1l-71.5 20.3l153.6 5.4l-275.5-77.2l11 21l265.7 45l-41.9-15.3l9.6-21l-26 50.3l-64.7 3.7l-108.7-43.3l90.5 25.1l22.1 0l-90-9.5l-55.2-37l77.2-16.4l33.9 72.8l-52.9-66.8l41.6-5.2l163.3 31.7l-40.6 27.9l-249-62.5l138.3 55l9.3-3.4l4.9 17.8l-13.5-68.6l78.7 39.3l-169.8 5.3l284.4-15.5l-236.4-25.1l154.4 56.5l24.6 2.9l-58.7-59.2l-196.9 15.8l152.9-12.5l-176.3 32.8l89-13.4l89.2-13.4l-99.8-3.7l97.8 3.2l-158.6-4.5l107.9 25l96.1-20l-162.3 60.6l115-46.9l15.7 29.5l91.5 19.5l-125.8-17.2l185.6 5.2l-94.2-57.7l-145.2 31.9l-96.4-36.4l124.5 79.3l-69.9-22.4l240.2 14.3l-86.6-60.2l-14.8 36.5l-9.5-32.5l102.6 45.1l-59.7 19.2l62-45.8l-103-22.3l2.8 62.6l-176-73.4l2.6 16.7l236.5 36.5l40.9-0.7l-210 1.2l-67.1-25.8l203 6.5l-116.2-54.3l-41.9 74.7l-18.9-6.1l67.7-11.5l131.4-17.3l98.3 58.1l-73.7-64.7l-97.2 30.1l76.2 9.3l-162.6-10.5l100-41.3l46.8 23.7l-85.4 52.8l104.8-8.8l-180.8-45.8l-1 21.2l58.5-40.2l-32.5 37l57.8 19.2l-98.4 8.1l82.2-71l13.6 21.9l74.8 62.5l-186.9-71l72 36.4l-28-7.4l161-31.9l-34 62.9l-172.7-70l137.9 27.8l-35.6 34.6l138.7-10.5l-202.8-7.4l-73.6-48.3l16.4 9l219.5 5.8l66.4 42l-175.6 4.9l69.4 12.9l153.4-5.3l-308-62.5l142.2-3l40.8 39.2l-106.2-23.9l-90-4.3l48.8-23.3l-9.2 20.7l195.5 67.9l-19.5-50.3l-198.1 42.8l-52-61.9l318.8 58.8l-188.3-0.8l54.1 13.7l104.8-50l-297.5-25.6l126.5 72.6l-73.9-98.6l226.2 92.2l-59.2-7.2l19.7-34.8l-201.3 24.4l76.6 16.4l-43.1-7l270.8-16.6l-198.5 8.8l1.4-16l-106.8 22.5l-24.2-17.9l258.5-9.4l-111.3 14.3l31.9 12.5l74.6-6.9l-164.1 13.8l102 3.9l-58-95.9l-138.4 48.9l-12.2-21.7l38.6 54.2l123.3-13.3l100.4-31.6l-223.7-33.5l294.7 44.8l-197.4 10l-94.9-41.6l-62.6-17.8l29.5 62.2l244.7-32.5l-173.2 48.6l217.2 14l-186.2-70.1l54 50l88.3-38.5l-28.9-1l-75.7 21.1l-58.1 17.7l0-13.5l43-19.6l98.7 29.1l43.5-24l132.6 31.5l-159.3-23.8l-5.7 10.2l-49.1 0.8l21.2 31.8l11.3-21l-67.2-21.6l39.5 26.1l84.3 9.9l-13.8-6.2l-81.8 8.6l-128.8-39l192.2 33.4l-149.7-35.7l-97.5-12.3l-18.8-40.8l209.2 70.6l56.9-21.8l-152.1-26.6l-6.5 68.7l-20.9-25.8l226.1 36.6l-63-3.8l-0.5-40.6l-112.2-12.7l98.9-5l83.8 16.9l-83.5 14.3l-218.3-27l299.6 37.1l-217.8-18.6l189.4-21.8l-226.9 16.7l246.7-1.4l-145.4 39.6l28.3-17.6l54.1-19.4l20.6 44l18.9-41.2l-149.2-22.3l-6.6 57.6l14.2-11.3l-7.9-50.3l60.9 12.9l-138.1-30.3l-40.7 20.6l161.7 21.5l-55.1-26.6l-74.5 3.3l7.5 37.1l142-31.5l-126.4 21.5l21.1 12.1l91-36.3l-16 30.6l2.7 6.2l-78.3 21.8l115-22.6l-45.8-10.5l-28.2 6.8l116.3 39l-150.1-115.2l182.4 114.5l-200.5-28.2l229.7-10.1l-198-26.8l160.1 22.5l-196.2-11.4l129.4 46.2l-218.5-120.5l166 121.6l4.3-71.8l23.1 36.6l111.8 23.3l15.7-54l-154.6 60.9l-174.2-84.2l200.7 36.6l-64-82.3l42.4 58.5l80.6-14.4l-50.6-15l31.6 116.5l-118.6-40.1l186.5-7.3l-47.5 45.5l-209.2-73.1l119.2 24.3l103.6 49.7l70.9-0.4l-88.7-66.7l-74.8-19.2l-90.3-1.2l224.7 55.2l-226.4 16.9l76.1-75l137.2 67.9l-191.8 2.6l245.7-52.6l-290.3 7.8l233.9-3.1l-98.8 20.2l-63.5-22l20.9-2.1l-123.5 1.8l164.4 54.4l-76.7-36.1l93.2-35.5l-134.4 71.7l-8.5-6.8l283.1-16.4l-229.6-2.9l109.8-44.6l-41.8 24.2l-24.5 39.1l196-15.7l-255.3 32.5l10.6-62.3l-1.2 22l71.7-31.2l-92.7 69.2l238.5-16.7l-237.5-2l35.3-57.4l-46.4 31.7l35.5 14.8l223.9 8.8l-287.8-7.5l104.2-44l95.1 39.6l-89.4-10.3l-30.8 21l-3.6-2.9l180.5-54.2l-85.5 9.7l91.1 28.1l-25.7 39.9l-133.5-64.5l38.5-0.3l16.1-0.9l-61.9 64.9l-60.8-31.9l79.5-15.4l-77.3 40.9l-44.7-26.5l150.7-50.7l75.1 53.8l86.5 26.7l-324-76.8l4.4 42.4l122 8.9l-62.2-26.4l31.6 23.3l151.8-15.6l-174.9-3.1l39.5-27.1l214.8 39.4l-281.9-6.7l27 27.6l184.2 26.7l-218.8-78.9l283.1 25l-239.3 28l-24.4-51.6l284.8 36l-245.8-23l-63 0.1l105.9 20.2l51 33.8l-47.7-55.4l-12.8 9.2l111.4 41.3l58.1-34.1l-39.4 15.6l-238.5-18.8l112.1-25l69.4 24.4l18.3 28.5l-11.8 8.4l-87.7 0.4l101.2 16.9l-65.9-78.3l-156-31.1l22.4 77l183.4-0.7l-7.1-37.4l-121.8-1.7l68.3 58.8l-116.1-54.8l154-10.8l-144.6 33.4l-35.8-16.4l148.1 57.3l-88.6-83.5l-15.7-17.8l4.4 59l117.7-29.3l-170.9-9.1l196.2 67.6l-180.9-49.1l259.9-2.3l-103.6 40.1l84.4-43.3l-187.9-11.2l125.8 26.1l-5-14.6l10.4 29.9l-103.6 36.5l-31.9-24.7l155.3-6.7l-199.8-16.5l60.2 16.2l84.8-14.6l-147.4-16.9l5.2-12l285.5 69.4l-129.7-23.2l-176.8-88.6l102.4 107.4l108.1-2.8l-78.6-5.3l6.2-31.1l112.9 26.2l-96.3 6.6l69-14.8l-85.7-6.7l-94.5-66.7l78.2 45l-32.2 40.9l-1.3-21l-48.5-4.5l53.1 36.5l144.4 8.3l-176.1-46.9l-27.4 4.3l199.1 7.2l120.9-10.3l-392.1-76.3l184.5 88.2l-134.8-39.9l290.4 43.1l-142.3 36.6l71.1-67l-111.8 19.7l-38.8-19.6l104.6-7.1l-34.5 48.9l50-15.7l-147.1 3l-20.6-0.2l167.1-8.2l-45.8-11.7l-167-23.9l49.2 39l161.1 13.7l-131.2-9.2l71.1 11l64-35.7l-172.7-14.6l-15.8 38.4l58.6-42.3l57.5 70.2l-58.3-12.5l214.9-6.5l-78.9-4.2l-131.2-38.9l-78.3-19.1l285.1 77.5l-195.5-52.7l237.8 23.6l-176.6 17.9l-72-63.6l112.4 26.9l72.7 45.7l-209.5-63.7l149.4 59.5l-85.7-52.2l163 59.5l10 0.5l-219.5-103.2l205.3 86.5l-156-33.4l-121.6 18.9l13.3-23.5l260.6 61.3l-90.1-21.2l-132-10l120.4-23.4l-45.9 34.4l51.5-7.4l-22.6 25.3l165-24l-130.1-41.1l-88.8-12l-68.1 5.1l69.5 1.4l174.3 72.7l-84.3-38.4l16.9 39.7l56.8-20.6l-109.1-50.6l-141.2 10.9l101.2 38.4l199.3-21.9l-188.9 1.2l167.4 34.8l12.1-48.3l-90.8 35l-213.4-48.7l219 47.2l-217.8-18.5l123.9-8.3l161.2 18.4l-190 11.1l18.2-48.8l116.8-6.5l-181.7 45.3l4.4 6.6l13-48.8l96.4 57.1l35-41.2l-164.7-22.6l208.5 83.9l37.3-0.1l-88.4-81.7l32.8 1.9l-215.3 19.7l43.2-20.8l144.9 45.3l-135.9 24.6l140-59.8l-60.2 32.9l75.3 18l78.5 19.9l-81.2-10.1l91.9 3.7l-7.8-31.2l-169.3-2.3l-119.9-39.5l116.7 48.6l-60.3-74l120.1 22l-169 28.7l58.2 37.5l184.5-44.5l-188.3-2.6l-36 16.6l238.2 26.8l-153.5 11.9l13.1-30.1l160.1 9.5l-170.1-45.7l-39.2 64.3l-85.1-44.3l283.7-1.1l-139.2 29.2l-88.8 1.9l208.3 8.2l-164.3-44.8l37.5 60.9l-33-79.2l-24.3 73.8l217-31.6l-209.4 22.2l208.8-38.8l-181.9 8l295.8 20.2l-200.6-12.8l-213.2-47.9l247.8 37.8l9.9-22.6l-127.6 36.4l-97.1-2.6l125.4-48.6l63.7 19.6l-11.8 56.3l-189.5-61.6l63.6 51l69.6-77.9l-59.5 51.8l54.5 20.6l154.1-0.6l32.4-5.7l-145 13.4l152.1 7.1l-112.9 4.6l-108.6-65l-26.9 49.2l164.3 14.8l-97.1-1.3l-96.9-99.7l-29.4 20.7l158.2 71.8l85.6 1.4l-71.6-67.3l-100 34l187.7 9l-175.6 7.7l73.1-39.2l-118-10.1l50.9 8.3l14 43.6l-59.1-4.2l154.1-96l24.8 121.3l-81.5-19.4l42.4-25.1l2.4-6.9l-150.5 52.9l177.5-51.5l-120.9 28.3l-175.9-84.9l341.2 53.2l18.3 29.2l-79.4-26.4l-37.9 40.6l-71.3-129.9l-39.4 98.7l2.1 0.3l58.9 29.2l8.7 22.1l-93.5-66l199.5 28.3l-90.4-21.8l129.3 24.7l-222.6-15l-35-14.6l101.1 5.9l-3.4 22.9l-88.2-26.8l48.1-27.1l223.9 66.4l-195.1-120.2l-101.1 112.2l296.8-31.2l-109 39.5l-186.8-50.7l3 41.6l162.3-10.3l65.1-32.5l9 44.2l-103.6 2.5l-40.7 18.5l131-47.5l-111.5 8.6l32.7 3.1l-18.7-1.2l-92.5-25.7l47.7 21.8l-107.7-19.6l304.5 16.3l-251.4 15.6l167.6 37.3l66.4-15.4l-287.8-69.3l312.7 42.2l-212.7 6.1l-61.6-18.8l47.5-35.2l119.3 78.8l134.1-41.2l-345.6-9.7l64.2-16.8l-33.9 50.6l122.6-40.9l-45.1 27.4l11.9-40.1l75 75.6l-124.7-40.4l-25.9 0.8l33.2-23.3l219 21.5l-189.7-21.9l34.3-11.4l64.5 51.7l39.8 11.1l-90.3-0.6l-133-16.5l38.6 16.6l26-121.4l-7.5 117.8l110.8-53.8l76.5-25.2l-65.9-1.8l-126.3 49.9l139.5 29.7l68.9-44.9l-155.8 1.1l94.5 41.3l24.4-84.8l-43.9 96.4l-83.5-16.7l-49.4-75.8l-62.2 40.5l90.9 45l45.5-42.7l88.2 27.4l64-11.1l-126.7 24.1l40.4-13.1l-120.1-77.3l53.5 46.4l78.6-11.5l-17.3 33.2l-104.3-5.5l-37.1 3.7l133.4 20.8l61.3-7.5l-58.6 1.4l5.6-10.5l-111.1-43.4l-58.8 21.1l69.1-8.7l-92.1 2.9l245.3 56.5l-95.1-37.5l-36.1 3.2l-43.5 31.1l109.8-41l-121.3 42.5l-31.7-22.4l58.9-16.7l55 50l71.9-5l69 0l-126.5-12.4l-63.8-76.7l98.1 56.3l41.9-5.4l-197.6 0.8l100.9-33.1l57.2 20.8l-79.3-40.4l-28.3 86l170.4-4.8l-228.7-6.6l98.6-57l4.3 21.6l-33 55.6l113.2-49.5l-73.8 3.7l-180-71.7l213.7 120.9l-197.6-132.9l242.4 77.9l-29.9-17.8l92.7 37.1l-228.5-7l134.1 45.7l-106.4-32l172.6-18.4l-143-3.2l14 40.8l68.5-3.7l-159.8-27.5l179.7-21.3l-117.8 54.4l189.1-38.2l-200.5 30.1l73-26l70.5 28.1l-10.9 7.5l-95.2-63.4l220.7 70.4l-274.2-63l169.6-40.3l-161.3 10.8l171 17.1l-10.8-4l30.4 30.4l-66.1 37l-135.6-26l172.6-28.3l-50.6 19.4l48.2-56.4l-125.2-30.1l39.9 132.6l-75-16.7l200.9-32.2l-80.7-10.2l77.1 37.5l-236.1-49.3l219.7 67.7l-175.2-16.1l-49.9-15l201.5 18.5l-23.6 19.8l55.9-34.3l-78.8 9.4l45.4 17.9l-29.5-51.5l-134.8 47.2l193.8 2.1l50.8-46.2l-4.3 45l-217.9-70.6l98.1 74.7l87.9-16.4l3.5-46l-120.2-17.1l85 76l-71.7-48l-176.6-26.8l31.1 0.2l303 55.5l-273-25.5l167.4 16.3l22.3-19.8l-155.7-29l129 34.9l-0.5 8l88.1-4l-262.9 30.6l268.2-28.9l-151.2 28.6l99.5-9.7l9-36.3l-117.5 0.3l-122.1 32.6l134.4-15.6l5 36.3l131.9-53.9l-138.7 30.7l232.3 0.9l-325.8-66.8l-1.2 66.8l93.1-32.3l5.4 63.8l-53-8.8l-80.7-25.4l301.9-16.5l-259.4 17.2l69.5-37.7l139.1 1.4l35.6 22.7l-291.7-6.4l238.8 46.6l-168.7-24.8l-44.9-29.9l335.1 39.9l-293.1 10.5l39.5-30.4l102.8 28l-123.8-34.1l-71.4 12.6l65.7 7.7l121.5-49.9l-30.5 3.8l-155.6 20.5l-28.1 19.5l263.4-2.6l20.4 29.8l-204-45.7l-30.1-2.6l15.1 29.6l209.1-22.1l-165-23.7l7.6 23.1l-117.4-20.5l32 6.2l83.7 50.9l76.3-34.4l-167.5-8l72.3-36.8l236.4 74.1l-69.8-41.7l-67.6 48.4l-91.9-29.2l-14.2 33.4l75.1-41.8l-32.6-17.9l-69.6 9.3l94.3 0.7l32.8 38.7l-175.2-48.4l197.8 38.7l-109.5 4l13.1-5l-112.6-24.3l115.4 46.6l-51.6-31.7l-31-54.6l31.6 65.6l121.3-14.1l-107.5 13.5l48.8-44.3l47.7-8.4l-149.3-12.7l-18 54.9l156.8 14.2l-33.5-30.5l13.2 10.4l-102.4 4.7l218.7 3.5l-11.3 30.7l-38.5-43.6l-165 12.2l23.5-5.4l213.7 25.5l-134.2-10.6l-100.4-29l336.3 46.8l-197-9l53.7 13.2l-168.1-129.5l-53.1 73.3l203.6-2.6l-122.3 18.8l3.3-2.9l63.5-35.1l-112.3 38.1l167.9 36.8l-179.3-18.3l214.5-59.8l-23.3 64.9l4.8-26.6l-250.9-48.8l188.4 93l78.5-66.9l-105.1 62.8l112.8-55.6l-74.9-20.2l-200.8 43.1l185.8-91.8l-206.9 51.8l157.7 74.4l20-26.9l207.6 24.1l-80.8-6l-182-78.6l55.5 67.9l-102.7-43.9l155.9-0.2l-58.1 0.3l29.6 62.8l1.2-12l-142.2 1.8l8.6-4.5l150.7 5.3l-172-70.2l26.9 21.1l343.5 21.2l-96.3 10.7l-74 25l-60.2-3.9l-146.6-68.3l141.3-1.6l6.4 74.6l-98.9-58.1l191.1 33.2l-31.3-7.7l56 3.1l-184.4-29.5l81.4 47.1l-168-71.6l2.5 46.9l49.8-15.1l137.7 29.7l-40.2 2.3l46.1 14.6l31.2-67.5l-153.6-12.4l231 83.7l-318.8-33.5l42 2.3l288.4-20.7l-229 5l-61.5 12.1l-39.2-9.3l280.5 15.7l-32.4-62.2l-63.1 41l-183.4 8.2l187.8-42.6l-78 55.1l-83.1-28.4l-1-21.9l134.9 7.7l-120.7 28.3l46.7-15.6l55.9 34l-76.6 11.3l-0.5-48.4l48.5 27.6l88 10.7l49.3 0.2l49.1 16.5l-78.2-55.6l-213-77.4l167.2 77.3l123.2 26.5l-69.3-32.9l-132 29.9l-106.4-18.7l217.5 24.1l-152.9-8.9l-37.5-6l384.2 54.2l-390.3-57.6l24.3 12.7l106.5 12.7l1.3 14.5l137.3-16.9l-198.6-7.5l-78.3-14l191.7 11.9l61 5.6l-242.1-38.9l127.9 53.4l-56.5-58.8l-70.4 26.6l-38-25.6l140.2 15l14.1 22.1l-107 19.3l28.8-32.2l-23.2 31.1l101.2-0.9l82.3-15.4l91-7l-252.5 21.2l2.5-14l-82.5-22.7l200.1 39.7l-169-18.2l230.8 34.5l1.5-59.9l-63.6 7.8l-123.1-10.6l-47.9 4.7l0.5-3.4l191.3 34.2l-168.4-8.4l131.3 24.5l118.7-38.8l-202.9 38.4l13.7 15.7l148.1-7l-107.9-40.1l63.7-2.1l-51.6-9l-95.9 11.6l216.3 6.8l-96.2 9.5l-116.2-51.6l132.3 11.3l-55.8 21.1l196.7 27.5l-170.5 2.6l-140.6-46.1l35.8 13.9l-83.7-45.7l139.2 29.2l35.2 27.4l8.9-31.9l-0.8 4l4.6-23.3l81.5 31.7l-125.5 11.1l41.3 6.3l12.3-11.5l109.7 49.5l106-21.5l-118.8-59l-127.9 72.8l-101.6-37.8l131.7 8.4l130.1 37.8l-50.9-44.8l10.4 21.1l-61.2-33.6l-160.6-13.2l54.2 17.2l234.3 52.7l-236.8-24.5l71.9-53.3l-21.8 16.8l-77.5-12.4l84.2 12.3l-48.6-4.6l194.6 63.6l-151.3-36.2l-73.4-5.6l-8.6 28.4l25.1-36.1l126 28.6l-139.9-3.8l55.2-3.6l105.7 26.2l-182.9-46l240.1-35.8l-157.9 34.8l-45.6 4l228.2 43.4l-147.8-32.7l53.9-5.2l-6.8 21.3l-114.8-46.7l-21.5 66.3l60.2-40.4l58-18.2l-59.3 13l-122.2-17.4l203.9 36l-87.1-29.7l-36.9 22.4l209.9-17.4l-201.1-5.4l-22.1 26.9l96.1 38.6l73.1-41.8l93.4 2.3l-138.5 2.8l-134.3-32.8l144.7-5l-132.7 19.2l24.1-28.6l146.8 58.4l-13.1-23.7l-75.4 40l83.3 12.9l-65.9-77.9l59.5 67.9l3.8-15.2l-207.5-42.2l7.7 15.3l36.5-31.1l-59.8 1l240.2 40.2l-14.5 0l-33.7-0.7l-84.8-46.2l264.3 70.9l-270.2-13l153.1-17.4l-274 3l197.2-21.7l43.1 33l-238.8-19.4l71 3.1l74.8 28.9l-51.9-25.4l-26.1-40l-74 37.6l267.1 35.3l-240.5-56.6l281.4 11.6l-300.9 5.4l257.2 36.7l-70.6-51.5l-122.9 25.4l9.9-46.7l75 89l-65.3-72.6l158.2 68.8l-212.4-60.7l241.4 10l-51.1-8.8l-170.1 40l1.2-2.3l34.8-7.2l1.7 21.7l48-73.8l73.2 49.5l-135.2-36.1l34.4 40.9l42.8-21.4l114.6 51.8l-203.9-29l28.2-26.6l171.9 51.1l42.6-27.2l-294.1-32l168.7 27.6l-136.6-24.6l39.5 14.7l5-31.5l42.9-6.5l144.9 31l-170.3-22.8l8.8 20.9l186.7-11.9l-109.6 61.3l-102-87.1l113.5 90.3l57.5-58.9l-152.5 39.5"/>
<path fill="none" stroke="none" marker-start="url(#mr)" marker-mid="url(#mr)" marker-end="url(#mr)" d="M472.3 692.4l-135.4 26.9l-59.2-9l115.5 4.3l29.9-19.9l-159.8 21.7l209.1-24.5l-9.9-9.3l6.7 27.4l-194.9 0.4l40.6 5.8l149.3-15.3l-44.7-3.6l-173.2-0.3l-2.8 15.7l149-25.5l-39.8 9.2l-86.3 8.9l148.4 8.2l33.1-4.4l-269.2-2l272.3 5.2l31.7-6.3l4.9-21.5l-233.5 14.1l37.9-2.3l-106.7 8.8l88.2 1.6l194.9-15.7l-268.2 23.4l-14.8 5.6l352.3-33.9l-285.8 23.9l-0.1-18.5l1.5 1.5l112.3-2.6l-127.8 32.1l-8.4-18.6l157.2-23.9l-29.1 26.7l11 3.6l-82 6.9l35.3-2.3l-63.8-18.4l-38.1 8.2l192.6-17.1l-5.5 25.4l-121.9 28.9l35-23.2l143.7-37.4l-222.3 13.4l-12.8 5.2l176.9 10.3l-174.4 9.6l100.1 5.4l187-14.9l-312.3 9.5l233-33.1l-46.6-6.8l14.8 31.3l13.6-1.3l-66.3-21.6l-57.3 4.6l0.8-10.6l-89.5 28.8l174.5 0.2l103.7-2.7l-46.5-13.6l-148.3 28l-1.7-38.6l-89 35.7l234.7-36.8l-155.9 9.1l-159.9 94l389.5-66.9l-309.1 3l64.7-9l-50.5-10.6l51.5 14.5l272.3-25.2l-235 3.5l-36.2-11.2l-54.2 27.1l27.7-7.1l10.3 38.9l136-36.1l-91.6 8.2l-65.1-13.2l109.5-18l-184.7 37.2l136.2-28.4l91.7 11.8l-73.8-2.7l242.7-15l-37.8 8.2l-280.4 17.7l15.3 9.2l-34.3-12.9l128.7 3.7l-120.2-2.7l280.8 2.1l-284.4-3.7l3.7-10.6l46.9 11l249.3-20.5l-5 15.8l-292.2-2.8l100.3 13.2l103.7-2.9l-194.5-19l171-12.7l-222.5 35.1l173.2-11l112-3.8l-88.1-0.9l-45.6-6l-159.1 28.6l194-34l-157 26.8l208.6 0.5l98-21.3l-296.4 2.8l137.3 4l-132.2-1.2l98.5-2.4l111.9 6.3l-201.6-0.9l128.8-15.7l-18.3 24.3l-70-17.7l75.6-0.1l-7.2 2l52.3-10.3l-152.6-0.5l78.1 1.1l-10.3 27.5l-81.4-4l178.9-29.2l-85 38.7l62.4-37.8l43.9 22.5l-5-19.3l-105.5-2.3l36 9.2l-114.8 2.4l247.2 2.7l-82.7 19.9l-68.8-25.8l-18.2 7.8l-98.1 6.4l105.8 14.4l90.2-36.8l156.6 20.1l-135.2-16l-96.7 13.5l83.8 1.6l-108.1 2.1l120.3-10.4l-178.9 12.6l91.9 7.4l-94.7-14.5l-15.4 19.1l101.7-35.3l-143 41.2l40.9-18.4l114.2-6.4l-152.4 21.4l-7.8-17.9l109.9 2.7l127.7-9.9l-23.3-15.6l113.7 33l17.2-28.3l-59.5 21.7l-326.5 17.3l271.9-43.7l-168.8 22l32-1.9l108.8-3.1l28.1-14.8l37.4 25.2l73.5-19.8l-371.7 42l188.2-37.5l-167.1 23.7l-60.7 73.2l130.1-100l9.5 1.6l-79.3 35.8l67.2-12.1l99.4-19.2l-140.1 22.9l117.1-8.1l-113.9-3.2l198.8 0.1l-86.2-5.2l96.7-8.7l-134.8 14.4l-68.1 7.8l136.8-30.8l-125.8 21.1l253.5 1.1l16-4.4l-268.2-4.3l29.5 15.2l93.6-29.1l7 1.5l163.2 3.8l-37.8 7.7l-75 11.2l-90.8 10.8l-126.2-11.2l17.3 18.2l-45.7-5.6l171.4-5.4l41.6 5.8l26.9-25.9l129.7-2.9l-176.1 2.8l-102.7 17.4l132.7-2.3l-92.4 20.1l131.4-39.4l64.9-0.3l-152.2-8.6l59.6 33.1l144-3.1l-375.3 16.5l95.1-16.7l144.4-9.5l-150.6-14.2l46.2 18.9l-98.2 8l184.3-31l-145.2 11.6l284.9 11.9l-109.3-4.4l-115.5-9l-21.3 3l-22.8 12.7l56.7-1.1l131.8-26.6l-37.3 34.3l-91.3 1.6l121.7-35.3l-5.7 26.5l106.8 4.5l-291.1-14.9l-42.6 19.5l-4.3-15.8l91.4 14.4l144.6-27.7l23.9 7.6l-226.8 39.4l299.9-49.5l-219.8-1.6l125.8 17.8l-217.5-8.8l91.1 22.3l144.4-8.3l-130.3-21.4l-78.3 1.2l77.7 6.5l-105.5 1.6l9.6 15.8l91.9-25.2l-70 9.1l-52.7 12.4l158.8-13l147.3-3l-50.4-8.8l-267.4 48.5l80-38.9l139.7 27.3l-170.2-21.8l-53.6 24.6l207.7-36.8l-223.5 41.2l312.8-45.6l-188.7 18.4l-130 27.5l334.1-42.4l-310.1 33.1l152.7-12.1l256.5-15.6l-180.7 36.3l32.2-15.6l-22.7-1l-110.2-20.6l25.2 0.7l147.3-1.6l-172.9-1.1l54.3 4.8l146.3-1.8l-109.9 12l-100.1 5.9l-72.4 7.3l170.2 2l125.1-25.3l-231 15l47.5-20.5l52.6 31.8l114.4-8.4l-152.8-20.9l-84.8 30.3l-20.6-36.1l25.2 14.9l52.8-6l-149.1 18.7l191.4-10.9l-29-10.1l137.2 24.8l-43.2-22.1l90.8 4.5l-92.9 5.7l-228.2 21.1l242.5-41.1l-39.5 7l-181.5 11.3l39.1-11.7l125.9 4.6l-101.7 24.6l-29-17.9l105.2-15.9l-156.6 11.4l187.6 9.6l-144.4-9.9l187.9 19.1l-258.9-11.7l289-20.8l-49.9 15.6l-244.2 23.3l317-36.6l-270.9 38.7l-45.2-12.7l191-7.6l62.3-8l-135.6-8.7l19.4 41.5l102.7-17.6l-65.8-17.6l-27.4 9l38.7-0.2l-72.5 1.9l-13-3.6l195.1-3.2l-230.7-3.2l-2.1-6.9l20.8 36.6l76.6-9l-60.7-29.3l171.2 5.6l-128.2 26.6l-202.3 74l193.3-99.4l-4.5 23.9l-125.4-6.8l145.9 2.9l-33.7-24.2l-24.3-4.9l148.1 27.1l-105.4-22.5l-88.8 1.1l39.5 5.7l210.8-8.2l-164.8 37l-87.2-25l138.1 6.6l79.8 7.5l-263.1-3l157.6-10.8l-115.5 23.2l182.9-10.8l-86.7-20.2l-97.9 26.9l152.5-16.9l-22.9-10l67.3-1.5l-167.4 32.3l-56.2-14.5l-13.5 9.5l262.6-4.6l-64-7.2l-50 3.5l-69.2-1.8l157.9-0.7l-70.3-1.1l-158.8 7.5l182.5 9.6l-24.1-6l22.1-29l6.4 14.4l137.6 12.9l-127.8-18.6l-46-3.3l132.2 10.8l-162.1-3.6l-17-2l-40.6-4.5l-8.1 32.1l87.8-21l-46.9 5.3l7.9-2.9l297.1 1.6l-225.2-1.5l-132.6 10.1l-62.8 1l259.4-36.2l-88.3 34.9l183.4-28.8l-187.8 27.5l-112.3-4.7l-52.4 3.7l301.8-11.3l-275.7-1.8l20.5-2.9l-10 15l50-9.1l-80.4 13.7l198.1-30.7l-48.1 12.5l-121.9 8.1l79.9-1.1l14.5 0.4l113.9-13.5l-48.9 17.7l73.1 2.6l-239-11.8l138.8 8.6l-1.7 36.7l74.6-28.5l41.8-31.3l-190.7 27.2l-64.5-3.4l-21.2 8.2l226.3-34.6l-133.1 25.5l265.8-4.3l-371.7 11.9l91.2-23.3l99.8 7.6l-81.1 8.1l87.5 5.4l-133.1-8.4l-38.6 5.3l144 15.8l31.5 4.1l-53.8-33.6l-123.2 5.5l268.3-18.1l-186.4 16.4l184 2.6l-278.5 14.8l186.6-15.8l-75.4 2l-104.5 11.7l150.6-3.2l-82.1-3.3l-72.7-3l98.1 12.2l11.4 2.4l38.5-6l169.6-24.3l-194 8.1l-12.7 19.2l4.8-35l-36.7 23.1l171 8.3l-29.6-23.8l-115.4 25l-85.4 4.7l179.9-41.3l47.3 18.7l-114.7-7.1l193.2 18.3l-122.8-18.1l25.7-9.1l-43.7-0.7l-147.5 19.2l320 4.6l-253.7 7l6.8-10.6l171.1 1.7l-239.1-11l112.9 27.9l-50.6-31.7l102.2 35l121.5-23.1l-234-18.6l-13.7 29.2l72.3 4.9l19.5 0.5l125.4-19.3l-161.7-4l88.1-11.1l46.4-1.3l-37.3 26l-213.2-6.7l90.3-15.5l155.8 17.9l-26.2-14.6l0.2 11.2l-37.5 9.1l45 0.7l-222.1 15.5l8.5-20.7l273.9-2.2l-193.7 14l-46.7-11.1l24.3-16.5l38.4-6.9l200.2 3.3l-315.5 41.4l44-22.6l156.2 12.9l-2.6-30.1l-195.1 38.1l190.9-8.4l-91.3-33.5l-48.6 33.5l-30.4-15.1l223.4-13.1l-241.7 20.2l80.1-10.2l92.2-8.9l134.2 11.5l-280.4 42.8l-20.2-44.5l148.7 6.9l173.3 2.4l-273.9 13.4l71.9-29.6l146.4-10.4l34.5 27.1l-58.5-6.1l13.7-2.8l25.3-5l38.9-4.6l-20.3 14.1l-257.1-18l-12.1 34.4l166.7-8l26.3-10.8l88.3-2.4l-238.8 15.3l224.8-4.8l-4.6-1.2l-63.8-9.3l97.2-4.1l-196.3 12.3l-160.8 3.4l111.6-10.4l-39.1-7.2l52.5 66l255-51.3l-351.2 4.8l52.9-20.5l245.4-5.2l-111.7 10.8l-158.1 17.4l294.3-23.4l-134.1 11.5l103.2 0.6l-155.3 8.6l-94.4-23.9l51.2-2.3l184.2-6.2l-108.6 25.8l-125.7-17.5l94.1 15.7l18.9 14.6l-102.1-5.6l23.6-2.8l92-6.6l85.4-6.8l-152.4-9.2l-33.3 8.6l75.9 3.2l114-4.8l53.3-12.8l-122.1 22.4l-62 18.9l-61.5-13.6l90.1-16l30.4 5.6l-26.3 3l-158.9 5.7l318.5-19.2l-348.1 34.8l128.4-33.3l22 23l-52.2 3.3l-17.2-23.5l198.3 9.8l-99-0.5l-56.2 0.3l93.8 8.8l-27.6-24.5l-86.6-3.2l82.4 5.1l-21.8 14.7l16-14.5l-2.7 29.1l37.6-33.2l142.9 12.3l-76.8-5.8l-59.2 5.2l-129.5 0.9l-26.5 2.2l234.2 7.3l-56.9-1.3l-189.6-5.5l217 7.1l-277.5 19.5l311.5-47.5l-88 26.2l34.2-15.2l-222.7 34.6l157.4-21.4l-71.7-14.5l-20.5-7.8l-117.8 40l317.3-12.7l-204.1-20.9l179.9 28.7l-216.7-13.6l157.9-13.5l19 1.6l-162-4.2l44.4 7.8l156.8 0.5l60.9-8l0.7 24.6l-72.7-1.8l-59.6 7.5l193.1-19.8l-156.4-2.8l-82.9-0.9l15.3 22.6l-126.4-5.2l203.6-3.3l45.1-27.4l61.7 16.6l-336.4 20.1l204.1 2.5l-177.3-23.4l140.2 12.8l-133.4 4.7l150.2-5.3l-96.6 1.9l79-22l-187 21.7l167-26.1l-80.2 24.1l51.9-4.6l107.2 2.7l-210.5 12.8l44.1-19.2l67.5 11.2l-133.8 7.1l230.5-39l-80.7 22.6l-1.9-2.2l165.5-11.5l-327.3 21.9l319.1-24.9l-268.5 29.3l-19.9 7.4l249.8-19.9l-120-2.9l-124.7 26.1l123.1-11.1l-118.2-7.5l326.3 0l-353.8 15.7l7.2 2.8l136.5-21.4l-24.4 14.4l-18.6-3.5l84.9-30.9l-42.3-1.1l82.9 33l-124.7-32.6l-56.6 14.4l55 12.8l115.9-26l-79 37.5l-20.3-6.3l-28.8-15.4l212.1 1.5l-165.8-12.4l40.4-2.3l34.2 71.5l-175.4 3.5l50.1-47.7l-28.8-4.3l1.6-18.7l178.3-4.2l-51.5 30.6l-101.7-24.7l94.5 14.7l-62.5-19.3l4.6-1.6l15.2 30.8l74.2-34.4l-18.8 37.3l147.8-34l-175.4 18.6l-7.1-9.8l116.1 13.5l-14.6-3.5l-75.8 21.5l-86.7-16.8l69.2-2.3l13.1 8.6l160.9-35.6l-163 26.9l-95.9 3.8l-43.1-4.3l243.7-7.1l122.4 2.5l-177.3-5.1l-128.1-8.9l95.8 13.1l27.7-19.3l86.3 7.1l-254.8 32l171.6-23.4l-158.5 19.9l-52.9 3.2l142.3-17l-61.3-5l84.6-10.6l-48.6 10.3l-92.2-0.6l281-10.3l-4.6 30l-207.6-20l114.4 0.7l60.9-14.5l-143.9 30.5l-45-10.4l78.9-21.4l34 20.8l-58.9 10l-142 10.3l166.1-28.3l129.9-5.7l29.6 8.8l20.2-14.8l-219.7 1l50.8 19.6l-181.4 18.9l105.1-3.6l37.6-34.5l-45.9 15.1l201.4-7.1l-226.4 3.1l152.1 15.2l-25.3-21l-2.3 0.8l23.9-1.3l-233.8 25.9l215.3-13.1l-151.9-15.2l116 24.1l-78.8 8.3l196.9-13.4l-5.5 0.5l-234.8-13.6l247 4.1l-92.3 0l-105.9-0.3l-18.3-8.2l198.9 9.9l-173.9-2.6l-14.8-14.3l172.9 18.6l-46.7-2.9l34.2-3.8l-68.5 15.7l-140.6-14.8l22.1 13.3l-48.6 0.8l-2.4 9.7l195.9-22.9l12.4 3.6l49.7-13.2l7 0.3l-299.1 40.3l213.6-44.5l-72.4 2.1l36.3 2.5l-82.3 8.2l218.7 5l-176.8 2.4l163.5-14.6l-113.4 26.4l-12 2.5l42.2-16.9l-48.5 11.7l-13.5-8.8l117.2 8.2l-191.7 13.3l13.9-7.7l191.6-36.5l-208.6 28.6l144-5l-33 17.7l9.3-20.1l122.6-5.8l-94.3-6.5l137-5.6l-285.8 5.4l184.4 11.7l15.9-12.9l68.3 11.7l-299.3 1.2l115 9.7l187.6-16.7l-131.1 4.5l1.3 8.4l56.8-13.4l-29.6 6.6l-155.6 1l177.6 10.9l-156.5-13.7l164-16.2l-149.6 33.4l257.6-11.9l-255.6-17.5l9 41.6l-12.1-42.2l8.1 11.7l-86.9 25.5l-17.2-4.5l186.8-24.9l-171 23.8l-13.5-3.1l29-0.6l185.1-8.2l-35.5-15.7l47.5 33.2l-231.4 3.1l56.4-29.7l93.9-11.8l65.6 25.1l-125.6 5.7l168.9 21.2l-211.8-17l279-6.6l-283.7-11.9l68.4 1.7l-34.8 12.2l-8.1-29.8l197.3 16.4l-123.5 0.5l-86.1-3l224.2 16.8l-203.4 4.1l-1.6-17.8l5.5-8.1l158.8-0.2l-1.7 10.2l-190.6 4.8l108.1 6.9l35.4-35.3l-4.1 53.1l-102.5-12.3l119.9-19.4l-109.5-14.4l41.8 1.5l195 8l-2.5-4.7l-40 8.2l-57.6 9.7l35.5 0.3l-258.8 17.5l-7.2-19.3l89.7-1l122.9-18l102.1 19.6l-27 2.3l-30.5-22.7l-55 13.6l-32.6 11.7l233.5-22.1l-184.1 8.7l-185.3 10.5l170.7-22.8l72.1 3.7l-66.6-2.3l-200.8 22.1l155.7 6.4l-51.2-19.6l-33.2-7.1l-19 11.2l244.4 9.6l-269.4-14.8l81.8 5.8l-58.6-7.1l41.6 2.5l206.2 12.5l-286.9 9.1l118.7-35.1l-55.4 20.5l103.4-12.4l-175.5 23l7.8 1.7l283.2-17.4l20.7-13.4l-96.8 9.7l-8.2 17.9l-20.8-19.8l-44.5 11l35.3-9.2l-68.7-4l220.1-2.5l-243.6-2l29.3 24.7l76.9-28.5l88 10.7l-283.1 13.3l126.2-22.7l96.1 27.6l-40-10.5l-174.8 10.3l109.8-31.4l43.6 27.5l-16.5-6.4l43.6-9l12.2 18.6l145.8-8.2l-263.8-13.1l57-2.5l-131.2 29.6l173.3-13.4l56.4 13.4l-153.9-28.2l206.5 0.7l-9.4 2.1l-175.6-7l-74.3 26l115.1 7.4l190.6-34.3l-115.6 34.8l-69.6-36.2l-65 6.4l93.6 28.4l-64.4-21l-27.3 23.8l219.8-24.6l-100 1.9l-60.7-5.9l171.8-11.5l-104.5 13.9l-141.4-8.5l21 30l18.2-3.3l138.2-0.5l-73-10.3l118 10.2l-87.9-14.7l65.5-0.3l-227.5-9.9l6.2 23.9l246.6-2.8l-5.5 2.7l-24.4-18.6l-282 34.7l198.7-24.3l-4.6-16.4l122.5-5.7l-289.2 37l7.2 7.4l128.5-34.4l-29.2 7.9l166.9-0.9l-309.4 21.3l119.6-8l270.9-13.1l-352.5 20.5l236.1-29.3l63.4 8.2l-271.5 18.3l160.2-0.1l-171.4-17.2l28.3 9l91.2-6.1l-33.9-19.1l39.4 18.3l-90.3 16.1l325.8-36.5l-261.6 28.4l155 3.2l-54.8-16.9l82.4-0.5l-243-5.2l219.9 7.7l-134.2 2.8l-116.1 7.4l-16.5 11l78.9-28.5l-24.7 21.5l-60.5 2.9l307.3-13l-242.4 19l122.4-29.3l-29.3 27.3l-120-24.9l158.6 14.5l-27.4-2.7l-191.5 11.5l251.4-14.2l-10.4 16.1l-7.9-22.5l44.3-10.9l-251 31.5l-6.7-1.2l219.3-24l1-9.5l-16.1 34.9l-221.1 7.1l54.2-23.8l272.3 14.6l-103.3-1.9l-59.1-2.8l105.9-17.4l-21.3 19.7l-92.3-25.5l75.6 11.4l-262.1 33.1l275.8-14.3l49.9-5.7l-207.4-14l147 7.1l-36.2-3.9l-55.6 1.9l69.1 5.1l-77-12.3l214.4 0.1l-17.7-2.5l-281.1 13.9l228.8-18.2l-199-2.3l-89 24.9l-15.4 17.6l180.4-34.5l-32.4 2l-6 15.7l33.4 6l126.4-18.8l-41.4 17.2l-75.3 2l54.6-28.4l-165.2 5.4l1.8-5.7l276.9-7.3l-200.5 27.8l-74.8-12.9l148.4 14.1l16.4-15.8l-71.2 7.9l65.2-17.3l-114 2.4l45.4 18.5l-151.4 34.7l61.4-46l-3.1 14.5l-15.8-14.6l33.1-1l227.1-3.4l-260.9 13.6l-51.2 6.2l244.4-20.8l-22.8 20.3l-71.7 8.8l-12.3-11l-110.2 7l71-33.4l101.2 36.8l-28.2 0.3l-113.4 3.9l49.2-19.8l222.3-5.9l-247.5-8.6l3.2 17.7l243.1-24.7l-316.2 24.4l246.5-18.4l-237.1 40.5l129.1-18.9l281.4-27.1l-172.5 8.3l-9.2 10.6l-15.2-0.4l-72-5.4l22.9 5.4l-133.7-0.1l119.6-14.3l-164.1 26.9l269.5-3l37.2-0.9l-3.9 0.7l-146.8-6.6l111.9 4.4l39.3 6.4l-64.2-18.9l-157.3 18.7l-88.9-1.8l183.9-10.6l-73.5 17.9l135.9-31.5l76.8 18.2l-217.7-0.8l191.5-4.3l-117.6 15.1l122-21l-204.8 13.3l-89.1 7.7l261.7-3.3l-179.5-20.8l175.2-5.8l-133 34l131.6-27l97.4 8l-236.7 15.3l6.7-6.8l111.3-3.9l100.1-13.9l-141.1 28.4l-37.3-33l-7.2 9l-16-3.8l33.7 2.7l-17.7-13.8l-61.4 6.8l183.6 17.6l-84.1-20.2l157.9 11.9l-180.3 5.5l21.8 9.5l49.7-0.2l-0.3-9.3l-127.5-20.5l98.2 10.4l-213.2 19.1l54.4-12.3l-21.3 6.7l298.8-7.8l-122.7-18.1l-74.2 16.3l-96.4 23.5l254.8-33.6l-124.9-0.3l-43.1-4.9l-102.8 33.6l92.8-33.5l-80.7 41.8l57.2-5.8l142.5-1.3l-138.6 2.9l-63.3-18.7l-7.1 1.5l18.5-2.3l269.8 14.5l41.4-16.4l-59.3 8.1l-63.4 7l-44.8-17.6l114.4 7.1l-193.5 7.7l-7.5-1.9l124.6 6.5l-27.8 4.4l-60.1-14.1l104.8-17.3l-202.3 32.6l-85 75.5l375.1-80l28.9-5.8l-266.6 4.9l107.1-33.1l-170.7 30.7l174.4-8.6l-184.9 6.3l212-27.3l-66 25.4l70-0.7l180.1-6.3l-158.9 11.4l-227.2-6.8l157.5-19.5l-94.5-3.3l-7.2 9.8l82.3-2l-97.2 4.7l104.8 5.3l37.4 12l-24-3.2l-28.6 11.8l-116.2-21.2l227.1-3.5l-157.9 15.1l8.1-1.5l-96.3 3l221.4 1.4l102.3-20.1l-205.9 5.8l-25.3 11l118-10.5l-138.9 4.1l178.5 11.6l-105.6-6.4l-0.9-11.3l-35.9 2.4l70-3.8l220 8.2l-259.9-15.7l-20.8 17.1l34.7-11.7l-24.9-15l-32.2 23.4l50.5 3.3l43.1 5l-80.3-0.8l-22.9-17.2l-87.3 27.2l318-7.6l-64.6-9.5l-215.5-18.4l228.2 18.8l-181.1-14.9l-47.7 22.3l97.4-16.3l-9.4 2.2l-53.4 12.4l-43.1-7.6l249.7-9.9l-120.9-4.7l-102.1 28.5l57.3-33.5l138.7 13.2l-277.8 13.7l262.7-6.1l32.9-5.4l-187.8-10.7l199.7 19.9l-274.2-7.9l172.7 18.5l-127.7-20l42.4 3.3l193.7-15.5l-234.7 16.8l151.3-18.6l-170.5 30.4l240.1-34.3l-238.9 30.6l28 10.8l132-11.6l-138.2 3.1l57.7-10.1l89.1-4.2l-81.7 1.7l-73.5 21.9l-39.6-20.6l0.8 1.5l45.3 17.6l10-5.3l-83.2-6.4l75.8-16.1l-18.5 15.4l258.8-5.3l-202.9-15.2l132.1 23.5l-81.1-6.1l-90.2 8.7l76.2-32.5l-15.2 3.7l-80.4 32.1l64.8-2.8l90 0l132.7-11.4l-280.3-16.2l134.5 26.6l-44.7 4.2l-140.3-2l180.5-5.9l-137.8-8.3l310 3.1l-219.4 33.1l130.7-50.6l-75.8 29.1l28.4-3.8l135.1-19l-210.5 21.3l132.7-26.5l-49.6 5.2l-240.1 28l205.5-8.2l-108.7-29.3l242.4-2.4l-336.8 43.7l116.8-22.7l-4.7 0.1l65.6-8.9l78 22.3l-182 6.8l22.1-17.8l81.7-24l118.4 22.6l-178.1-5.2l166.2-10.5l-214.5 29.5l40.3-10.8l-63.8-0.7l218.7-2.9l-270.3 6.2l219-19.6l105.2 15.6l-122.1-19.9l11.5 12.5l-84 2.6l-34.2 0.1l-22.5 9.5l-16.6-2.9l160.4-11.2l-25.6 2.9l-6.4-1.1l34.2 11.8l-173.9 10.6l154.1-2.6l-40.5-17.7l-217.5 82l348.4-99.7l-93.4 19.5l-93.2-15l-73.8 25.1l268.5-4.1l-44-26.1l-15.6 22.2l-140.3-13.6l110.1 24.2l122.8-2.1l-225.8-1.5l-64.5 4.4l109.6 5.2l173.8-35.2l-217.6 15.8l66.4 3.9l-13.7-17.5l32.5 27.5l19.1-11.3l-48-12.8l129.2-5.4l-149.5-0.6l138.6 26l-324.5 82.5l175.1-75.3l260.2-34.4l-167.2 25.6l-120.6-23.2l-106.2 42.1l136.8-37.7l14.2 23.7l-106.3 5.9l81.2-31.1l-57 5.2l-61.2 25.6l76.2-13.2l188.2-25.8l-35.7 12.1l-237.2 16.9l138.9 45.9l39.8-50.2l-44.1-20.1l12.3-2.3l136.6 10.6l2.9-12.6l-194.5 9.5l-61 21.5l34.4-2l177-12.3l-60.8 7.1l88.8-15.5l-120.2 14l-123.3 17.2l243.9-22.1l-95.9-8l106.3-0.8l-57.9 6.5l-131.1 10.7l74.3-10.9l-90.2 23.7l-65.9-3.5l128.4-25.5l-80.1 21.6l-29.2-4.8l14.1 15.1l172-23.7l-61 23.6l-118.1-8.1l267.6-12.4l-3.9-14.3l-352.7 96.6l310.4-85.9l-257.1 29.1"/>
</g>
<rect x="67.3" y="470.0" width="618.9000000000001" height="353.29999999999995" fill="none" stroke="#000" stroke-width="2.7"/>
<line x1="57.1" y1="512.7" x2="67.3" y2="512.7" stroke="#000" stroke-width="1"/>
<text x="54.0" y="519.7" text-anchor="end" style="font-family:'DejaVu Sans', sans-serif;font-size:19.20px;font-weight:bold" fill="#000">6</text>
<line x1="57.1" y1="560.9" x2="67.3" y2="560.9" stroke="#000" stroke-width="1"/>
<text x="54.0" y="567.9" text-anchor="end" style="font-family:'DejaVu Sans', sans-serif;font-size:19.20px;font-weight:bold" fill="#000">4</text>
<line x1="57.1" y1="609.1" x2="67.3" y2="609.1" stroke="#000" stroke-width="1"/>
<text x="54.0" y="616.1" text-anchor="end" style="font-family:'DejaVu Sans', sans-serif;font-size:19.20px;font-weight:bold" fill="#000">2</text>
<line x1="57.1" y1="657.3" x2="67.3" y2="657.3" stroke="#000" stroke-width="1"/>
<text x="54.0" y="664.3" text-anchor="end" style="font-family:'DejaVu Sans', sans-serif;font-size:19.20px;font-weight:bold" fill="#000">0</text>
<line x1="57.1" y1="705.5" x2="67.3" y2="705.5" stroke="#000" stroke-width="1"/>
<text x="54.0" y="712.5" text-anchor="end" style="font-family:'DejaVu Sans', sans-serif;font-size:19.20px;font-weight:bold" fill="#000">-2</text>
<line x1="57.1" y1="753.7" x2="67.3" y2="753.7" stroke="#000" stroke-width="1"/>
<text x="54.0" y="760.7" text-anchor="end" style="font-family:'DejaVu Sans', sans-serif;font-size:19.20px;font-weight:bold" fill="#000">-4</text>
<line x1="57.1" y1="801.9" x2="67.3" y2="801.9" stroke="#000" stroke-width="1"/>
<text x="54.0" y="808.9" text-anchor="end" style="font-family:'DejaVu Sans', sans-serif;font-size:19.20px;font-weight:bold" fill="#000">-6</text>
<line x1="161.2" y1="823.3" x2="161.2" y2="833" stroke="#000" stroke-width="1"/>
<text x="161.2" y="849.6" text-anchor="middle" textLength="61.5" lengthAdjust="spacingAndGlyphs" style="font-family:'DejaVu Sans', sans-serif;font-size:18.60px;font-weight:bold" fill="#000">1e+01</text>
<line x1="268.3" y1="823.3" x2="268.3" y2="833" stroke="#000" stroke-width="1"/>
<text x="268.3" y="849.6" text-anchor="middle" textLength="61.5" lengthAdjust="spacingAndGlyphs" style="font-family:'DejaVu Sans', sans-serif;font-size:18.60px;font-weight:bold" fill="#000">1e+02</text>
<line x1="375.4" y1="823.3" x2="375.4" y2="833" stroke="#000" stroke-width="1"/>
<text x="375.4" y="849.6" text-anchor="middle" textLength="61.5" lengthAdjust="spacingAndGlyphs" style="font-family:'DejaVu Sans', sans-serif;font-size:18.60px;font-weight:bold" fill="#000">1e+03</text>
<line x1="482.5" y1="823.3" x2="482.5" y2="833" stroke="#000" stroke-width="1"/>
<text x="482.5" y="849.6" text-anchor="middle" textLength="61.5" lengthAdjust="spacingAndGlyphs" style="font-family:'DejaVu Sans', sans-serif;font-size:18.60px;font-weight:bold" fill="#000">1e+04</text>
<line x1="589.6" y1="823.3" x2="589.6" y2="833" stroke="#000" stroke-width="1"/>
<text x="589.6" y="849.6" text-anchor="middle" textLength="61.5" lengthAdjust="spacingAndGlyphs" style="font-family:'DejaVu Sans', sans-serif;font-size:18.60px;font-weight:bold" fill="#000">1e+05</text>
<text x="237.0" y="872.3" textLength="285.5" lengthAdjust="spacingAndGlyphs" style="font-family:'DejaVu Sans', sans-serif;font-size:20.80px;font-weight:bold" fill="#000">Mean normalized counts</text>
<text transform="translate(25.2,771.6) rotate(-90)" x="0" y="0" textLength="231.1" lengthAdjust="spacingAndGlyphs" style="font-family:'DejaVu Sans', sans-serif;font-size:28.5px;font-weight:bold;font-stretch:condensed">log2 fold change</text>
<text x="563.6" y="521.9" textLength="62.8" lengthAdjust="spacingAndGlyphs" style="font-family:'Liberation Sans', Arial, sans-serif;font-size:41.61px;font-weight:normal" fill="#1452f2" stroke="#000" stroke-width="2.6" stroke-linejoin="round" paint-order="stroke">971</text>
<path d="M657.5 489.9 L673.5 505.0 L673.5 517.8 L661.8 506.6 L661.8 528.7 L653.1 528.7 L653.1 506.6 L641.4 517.8 L641.4 505.0Z" fill="#0000f0" stroke="#000" stroke-width="1.7" stroke-linejoin="miter"/>
<text x="563.6" y="791.9" textLength="68.7" lengthAdjust="spacingAndGlyphs" style="font-family:'Liberation Sans', Arial, sans-serif;font-size:41.17px;font-weight:normal" fill="#f51010" stroke="#000" stroke-width="2.6" stroke-linejoin="round" paint-order="stroke">860</text>
<path d="M657.5 798.9 L673.5 783.9 L673.5 771.2 L661.8 782.3 L661.8 760.4 L653.1 760.4 L653.1 782.3 L641.4 771.2 L641.4 783.9Z" fill="#f00000" stroke="#000" stroke-width="1.7" stroke-linejoin="miter"/>
<text x="748.5" y="454.5" style="font-family:'Liberation Sans', Arial, sans-serif;font-size:50.00px;font-weight:bold" fill="#000">d</text>
<text x="799.3" y="458.4" textLength="112.7" lengthAdjust="spacingAndGlyphs" style="font-family:'DejaVu Sans', sans-serif;font-size:27.40px;font-weight:normal" fill="#000" stroke="#000" stroke-width="1.25">MA Plot:</text>
<text x="921.7" y="458.4" textLength="277.0" lengthAdjust="spacingAndGlyphs" style="font-family:'DejaVu Sans', sans-serif;font-size:27.60px;font-weight:bold;font-stretch:condensed" fill="#000">Super-positive cells</text>
<g>
<path fill="#000" d="M862.9 641.9 L868.4 638.1 L874.0 634.3 L879.5 630.5 L885.0 628.5 L890.5 627.0 L896.1 625.4 L901.6 623.9 L907.1 622.3 L912.7 620.8 L918.2 619.9 L923.7 621.1 L929.3 622.2 L934.8 623.4 L940.3 624.6 L945.9 625.8 L951.4 627.0 L956.9 628.2 L962.5 629.4 L968.0 630.7 L973.5 631.9 L979.1 633.1 L984.6 634.4 L990.1 635.6 L995.6 636.8 L1001.2 637.9 L1006.7 638.4 L1012.2 638.8 L1017.8 639.2 L1023.3 639.7 L1028.8 640.1 L1034.4 640.5 L1039.9 641.0 L1045.4 641.4 L1051.0 641.9 L1056.5 642.3 L1062.0 642.7 L1067.6 643.2 L1073.1 643.6 L1078.6 644.0 L1084.2 644.5 L1089.7 644.9 L1095.2 645.3 L1100.7 645.8 L1106.3 646.1 L1111.8 646.2 L1117.3 646.3 L1122.9 646.4 L1128.4 646.6 L1133.9 646.7 L1139.5 646.8 L1145.0 646.9 L1150.5 647.1 L1156.1 647.2 L1161.6 647.3 L1167.1 647.4 L1172.7 647.5 L1178.2 647.7 L1183.7 647.8 L1189.2 647.9 L1194.8 648.0 L1200.3 648.2 L1205.8 648.3 L1211.4 648.4 L1216.9 648.9 L1222.4 649.3 L1228.0 649.8 L1233.5 650.2 L1239.0 650.7 L1244.6 651.2 L1250.1 651.6 L1255.6 652.1 L1261.2 652.6 L1266.7 653.4 L1272.2 654.2 L1277.8 655.0 L1283.3 655.8 L1288.8 656.6 L1294.3 657.4 L1299.9 658.2 L1299.9 662.2 L1294.3 663.0 L1288.8 663.8 L1283.3 664.6 L1277.8 665.4 L1272.2 666.2 L1266.7 667.0 L1261.2 667.8 L1255.6 668.3 L1250.1 668.8 L1244.6 669.2 L1239.0 669.7 L1233.5 670.2 L1228.0 670.6 L1222.4 671.1 L1216.9 671.5 L1211.4 672.0 L1205.8 672.1 L1200.3 672.3 L1194.8 672.4 L1189.2 672.6 L1183.7 672.7 L1178.2 672.9 L1172.7 673.0 L1167.1 673.1 L1161.6 673.3 L1156.1 673.4 L1150.5 673.6 L1145.0 673.7 L1139.5 673.9 L1133.9 674.0 L1128.4 674.2 L1122.9 674.3 L1117.3 674.5 L1111.8 674.6 L1106.3 674.7 L1100.7 674.9 L1095.2 675.0 L1089.7 675.2 L1084.2 675.3 L1078.6 675.5 L1073.1 675.6 L1067.6 675.7 L1062.0 675.9 L1056.5 676.0 L1051.0 676.2 L1045.4 676.3 L1039.9 676.4 L1034.4 676.6 L1028.8 676.7 L1023.3 676.9 L1017.8 677.0 L1012.2 677.2 L1006.7 677.3 L1001.2 677.4 L995.6 679.0 L990.1 680.8 L984.6 682.6 L979.1 684.4 L973.5 686.2 L968.0 688.0 L962.5 689.7 L956.9 691.5 L951.4 693.3 L945.9 693.8 L940.3 694.0 L934.8 694.2 L929.3 694.3 L923.7 694.5 L918.2 694.7 L912.7 693.4 L907.1 691.7 L901.6 690.0 L896.1 688.3 L890.5 686.6 L885.0 684.9 L879.5 683.1 L874.0 680.9 L868.4 678.7 L862.9 676.4Z"/>
<path fill="none" stroke="#000" stroke-width="3.90" stroke-linecap="round" d="M849.3 624.2h0m1.5-17.2h0m19.7 115.5h0m-27.7-0.2h0m19.5-19.5h0m4.9-119.9h0m-20.7 5.9h0m-5.1 113.1h0m8.5 25.5h0m14.6-58.5h0m-3.6-19.7h0m-15.8 42h0m10.8 19h0m9.1-112.6h0m-9.5 133.5h0m8.1-28h0m12.8-9.7h0m-10.9-70h0m-11.2 41h0m-7.8-27h0m6.1 5h0m6.3 18.1h0m14.6 50.1h0m-4.5-115.5h0m-17.5 55.3h0m23.2 74.9h0m-17.3-46.8h0m8.5 26.2h0m-22.5-31.1h0m-0.1 15.4h0m3.8 17.1h0m16.9 35.8h0m-9.1-90.4h0m4.2 12.3h0m2.9 50.5h0m10.3-96.6h0m-16.2 98.1h0m17.4-84h0m-10.7-17.6h0m8.3 93.6h0m-12.7-50.5h0m-6.1-25.6h0m7 30.3h0m-11.7 30.5h0m-4.4 53h0m-2.4-23.9h0m25.4-16.1h0m-9.4-6.6h0m16.9-10.2h0m-2.4 20h0m-17.2-4.5h0m22.5-23.4h0m-14.6-65.6h0m-7.1 82.3h0m-8.1-42.6h0m-0.9 37.5h0m0.4 55.7h0m16.1-75.6h0m-18.8-79.8h0m-3.5 61.8h0m31.1-44.9h0m-28.1 93.4h0m13.5 29.3h0m1.4-85.1h0m5.1-84.6h0m-4.5 150.1h0m16.6-22.3h0m-7.1-94.6h0m-6.8 120h0m1.7 1h0m-4.3-108.5h0m17.6 10.5h0m-28.3-30.2h0m17.7 88.9h0m-5.1-50.2h0m-19.7-13.1h0m9.8 20.4h0m24.1-4.8h0m-35 58h0m10.9-12.3h0m-11-44.7h0m31.3-38h0m-27.5 80.2h0m-2-29.9h0m35.4 82.2h0m-20.5-11.9h0m-4.9 15.9h0m-10.3-50.5h0m13-58.5h0m-0.9 0.6h0m6.1 33h0m-19.8-11.2h0m5.4-32.2h0m2.4 61h0m8.8 27.1h0m-5.3-3.5h0m11.9 42.2h0m-12.5-103h0m23.9-3h0m2 55.9h0m-34.6 16.2h0m5.7-34.5h0m13.6-30.6h0m7.9-27.6h0m-27 68.9h0m4.6-9.6h0m10.4 0.9h0m8.1 32.9h0m9 6.6h0m-1.4-102.2h0m-2.8-14.6h0m-28.4 69.2h0m35.4-47.9h0m-13.8 9.9h0m-20.3-9.5h0m6.5 34.9h0m14-33.9h0m-9-10.7h0m2.3 93.4h0m13.7 8.9h0m0.8-74.7h0m-10.6 15.1h0m9.4-38.2h0m-14.8 101.8h0m21.7-82.5h0m-14.1 37.1h0m-21.5 78.6h0m19.7-76.8h0m-14-42.2h0m13.6 9.2h0m-9.9 92.6h0m-7-24.9h0m-4-18.5h0m25.6 4.2h0m-17.8 3.7h0m2-69h0m8 49.2h0m13.5 35.5h0m-26.9-17.8h0m32.6-74.4h0m-0.9 78.2h0m-26.8-46.9h0m15.2 56h0m-10.8-8.4h0m12.9-10.4h0m-23.3-40.4h0m14.6 41.2h0m4.6 30.6h0m1.4-138.4h0m-14.7 63.2h0m-3.4 105.9h0m9.1-80.6h0m6.8 69.5h0m15-49.4h0m-9.6 4.1h0m1.1-54.5h0m-18-27.2h0m-0.3-19.5h0m6.2 109h0m-4.9-34.4h0m13.7-38.2h0m11.5 56.5h0m-30.6-91h0m14 57.9h0m6.1 40.3h0m-7.1-17.7h0m16.1 40.7h0m-6.8-76.6h0m5.6 55.5h0m-29.5-15.9h0m3.2-12.5h0m-5-48.4h0m29.3 20.1h0m5.1-43.9h0m-36.3 110.3h0m27.3 4.8h0m6.9-19.7h0m-24.4-69.3h0m17 24.8h0m-18.3 4.7h0m-6.2-54.5h0m25.7 13.3h0m-27 67.1h0m25.2-58.7h0m-15.9-6.3h0m7.8 72.3h0m15.5-48h0m-24.9-21.8h0m8.7-26.6h0m-4.4 38.2h0m-6.3 36.3h0m10.9 23.5h0m-11.2-113h0m23.6 153.6h0m-7-32.6h0m-12.7-47h0m26.4 54.4h0m-24.1-51.1h0m12.5 32.7h0m2.4 3.7h0m-17.9-72.7h0m-9.7 112.6h0m33.7-89.7h0m2.5 80.8h0m-30.2-122h0m-0.6 100.3h0m10.7 6.9h0m6.3-14.6h0m15-54.5h0m-1-12.1h0m-27.5 94.8h0m13.6-24.3h0m-6.3-16.9h0m-7.8-24.9h0m-6.4 57.2h0m4 3.5h0m7.2-49.8h0m-10.3 22.6h0m2.4 12.8h0m-4.1-28.3h0m22.2 39.2h0m-5-2.6h0m-9.6-90.5h0m10.9 71.5h0m-3.9-51.4h0m9 16.5h0m-11.7 11.8h0m11.1 60.1h0m-16.3-73.1h0m27.6 79.9h0m-12.3-78.4h0m-17.6-35.4h0m3.8 130.6h0m-3.8-115.4h0m0.8 79.6h0m4.9-18.8h0m5.7-57.8h0m-6.9 29.4h0m5.5 24.8h0m-5.8-36.6h0m17.8-35.1h0m-25.8 66.2h0m8.8-36.1h0m1.3-19.8h0m-5.4 52.7h0m21.3-39.4h0m-16.8 45h0m-9.3 8.7h0m26.8-4.3h0m-15 12.1h0m11.1-47.6h0m-16.8-12h0m-7.4-43.1h0m11.5 65.9h0m17.5 21.2h0m2.2 19h0m-18.7-40.9h0m19.1-40.3h0m-30.5 24h0m18 56.9h0m-10.1-99.6h0m6.9 43.7h0m-8.3-8.3h0m3.1 52.6h0m-7.4-28.4h0m12.3 38.7h0m0.5-68.2h0m10.2 105.4h0m-14-57.5h0m5.7-6.3h0m-16.2 15.9h0m9.2-28.9h0m15.9 21.4h0m-23.7-67.7h0m13.6 35.1h0m-8.6-22.4h0m-2.7 80.6h0m-1.7-15.5h0m9.9-62.9h0m0.4 33.5h0m12.9 59.2h0m-4.7-104.9h0m11.9-8.8h0m-16.6 22.7h0m6.8-30.8h0m-4.4 44.4h0m-9 32.2h0m5.5 23.8h0m10.2-76.6h0m-6.4 44.3h0m3 3h0m-5.5 45h0m17.8-145.3h0m-31.5 69.8h0m26.2 69.2h0m4-29.4h0m-3.9-46.2h0m-18.1 41.2h0m0.9-49.1h0m-4.8 50.5h0m-7.1 5.1h0m15.9 31.8h0m14.5-79.3h0m-3.1-38h0m-4.1 62.8h0m7.1-63.8h0m-7.2 43.1h0m-16.7-48.1h0m22.2 106.4h0m-16.7 0.9h0m-1.6-39.2h0m-9 46.4h0m24.5-107.8h0m-23.9 32.7h0m29.2 55.3h0m-17.5-27.6h0m-13.8 67.5h0m18.8-8.1h0m-15.8 30h0m18.3-92.1h0m-17.8-26.9h0m6.2 48.5h0m2.3-26.5h0m9.8 8.8h0m-18.8-17.6h0m2.1 65.7h0m22.8-25h0m-2.5-1.9h0m-10-59.5h0m-6.6-54.1h0m15.7 174.2h0m-8.6-39.8h0m-5.9 10.4h0m-4.2 16.9h0m23-32.5h0m-7.1-44.4h0m1.1-35.7h0m10.5 71.2h0m-25.5-22.8h0m-3.5 28.6h0m1.5-54.6h0m0.7-1.1h0m23.9 46.5h0m-12.6 5.4h0m-5.4-92.1h0m23.5 118.3h0m-9.7-91h0m-4.1 50h0m-23.7 14.8h0m7.1-119.9h0m-7 40.3h0m8.6 84.8h0m-2.5-55.2h0m15.7-3.6h0m-14.5 92.1h0m13.2-98.7h0m15.4 2.9h0m-3.3 52.6h0m-23.7-40.4h0m5.9 69.1h0m4.8-68.4h0m-7.6 10.5h0m25.8 60.2h0m-26.5-34.1h0m12-101.3h0m2.6 34.5h0m-22.4 64h0m16.6 24.7h0m17.6-72.3h0m-16.6 27h0m-14-16.6h0m-5.6-25.4h0m10.7 32.2h0m15.9 60.8h0m-27.6-43.3h0m0.9-15.9h0m23.3-24.3h0m8.6 87.2h0m-17-107.3h0m7.1 55.6h0m-14-70.9h0m0.6 106.2h0m7.7-23.8h0m-9.8-61.6h0m9 67.1h0m-11.7 14.4h0m19.1-75.9h0m-21.2 27.3h0m3.8 50.2h0m24.4-13.8h0m-17.5-23.1h0m-4.3-31.1h0m-9.1 41.5h0m21-14.4h0m-15.4 10.1h0m22.3-39.7h0m2.9-12.1h0m-3.1 83.9h0m-11.6-17h0m-15.2-14.8h0m22.9-0.4h0m-23.7-15h0m2.3 76.7h0m12.4-12.2h0m-11.1-99h0m12.7 70.8h0m-10.6-55.2h0m23.9 50.1h0m7.6 5.8h0m-36.8-33.5h0m14.8 48.8h0m10.9-12h0m0.9 5.6h0m-17.3 2.1h0m20.3-84h0m-16.8 43.3h0m-6.5-42.9h0m12.2 8.2h0m3.6 32.3h0m2 40.4h0m-22.3-62.1h0m18.8 39.8h0m-8.8-5.6h0m-11.5-1h0m23.5 7.5h0m-23.6-16.4h0m-1 68h0m33.6-11.8h0m0.1-13.4h0m-27.5 30.3h0m8.8-142.7h0m4.3 59.3h0m-1.8-31.3h0m-5.2-3.9h0m21-0.5h0m-10.5 62.1h0m12.3-39.7h0m-11.9 87.4h0m11.6-21.5h0m-15.6 4.5h0m-1.6-82.5h0m3.7 8.2h0m-21.7 95.1h0m29.2-14.2h0m-24-95.3h0m30.8 77.9h0m-34.5-45.9h0m25.4 61h0m-6.3-67.3h0m-17.1 85.7h0m8.6-90.2h0m-1.2 23.3h0m15.4-32.5h0m10.7 102.6h0m-33.5-55h0m13-40.7h0m9.1 103.6h0m-15.2-89.3h0m12.5-29.3h0m-20.2 13.4h0m3 12.2h0m-0.4-14h0m12 44.7h0m17.4-65.4h0m-30.6 97.4h0m1.5-62.6h0m2.3 28.6h0m13.9 13.8h0m-5.5 49.2h0m-0.5-101.2h0m-10.4-40.7h0m26 29.1h0m-13.2 53h0m-17.2-13.4h0m16.4-30.2h0m-3.5 44.6h0m18.1 4.8h0m-5.7 8.4h0m-6.5-40.7h0m-13.8-9.1h0m20 41.3h0m3.6-83.8h0m7.3 92.6h0m-14.4-38.4h0m-10.7 31.8h0m-3.5 11.6h0m22.1-59.4h0m-6.3 41.2h0m5.7 15.7h0m-11.4-87.1h0m14 106.4h0m-23.3-67.4h0m13.2 45h0m2.7-1.4h0m-17.4 6.2h0m28.1-85.1h0m-30.3 139.8h0m2.8-78.9h0m-8.3 33h0m35.9-93.3h0m-29.3 18.8h0m12.9 55.9h0m-17.4-5.3h0m5.9 7.2h0m1.8 24.7h0m19.4-74.2h0m-15.2 6.5h0m-8.6-29.6h0m14.2 102.7h0m-17.1 8.3h0m34.7-116.9h0m-20.4 92h0m-11.3-105.6h0m-1.9 63.9h0m32.3 70.2h0m-8.7-43.4h0m-9.3-32.8h0m13.1 31.3h0m-26.9-8.8h0m22.6 15.3h0m-18.7-25.3h0m-3.8-50h0m29.9-39.8h0m-30 100.6h0m18.4-18.8h0m-15.7-63.2h0m1 35h0m27.7 67.8h0m-24.8-70.8h0m18.9 56.4h0m-4-81.2h0m-12.4 112.7h0m5.7-68.8h0m-9.4 85.5h0m13.2-63.1h0m-15.6-54.9h0m10 48.1h0m8 33.3h0m-2.1-45.9h0m-18.8 40.9h0m27.2 3.9h0m-7.8-75.6h0m12.6 99h0m-0.6-95.4h0m-15.2 41.7h0m9-26.1h0m-25.6 22.6h0m-2.2-25.6h0m24.1 6.3h0m10.5 74.3h0m-24.6-125h0m7.3 16h0m11.2 12h0m-6.9 62.1h0m9.2 32h0m-17.4 18.6h0m17.3-27.7h0m2.2 11.4h0m-19.3-105.5h0m-3.4 67.5h0m10.9-4.8h0m14.8 12.8h0m-12.9 24.5h0m-2-2.9h0m-8.9-70.2h0m5.9 72.3h0m-0.9-46h0m1.9 28.9h0m-8.5-54.2h0m-4.9 10.8h0m30.5 83h0m-14.1-101h0m-17 49.8h0m6.3 34.1h0m11.9-131.1h0m-15.7 148.7h0m25.1-108.9h0m-13.6 36.9h0m5.4-78.9h0m-19.9 14.2h0m-0.6 20.4h0m16.2 126h0m-1.6-24.1h0m-8.3-126.9h0m2.5 35.1h0m-4.5-56.1h0m14.3 89.7h0m-7.8 77.8h0m-12.5-93.6h0m4.8 68.4h0m-2.9-2.9h0m18.3-52.1h0m-2.9 29.5h0m-6.1-27.1h0m5.9 47h0m3.1-35.4h0m-15.8-56.6h0m-6.1 78.5h0m34.7-1.1h0m-29.8-61.3h0m2.2 40.7h0m17.7 39.3h0m10.8-80.8h0m-33 3h0m10.6-43.2h0m17.4 125.3h0m-29.5-116.9h0m6.3 67.1h0m13.9-61h0m-19.5 79.9h0m12 52.7h0m6.7-40.8h0m-1.7-7.6h0m-0.5-9.3h0m17.6 39.6h0m-0.4-24.2h0m-29.6-63.5h0m1.7 52.4h0m5.5-5.9h0m-11.4-26.7h0m1.7 45.7h0m16.1-50.2h0m-10.4 40.9h0m-3.7-92.7h0m16 110.8h0m-12.2 8.9h0m-10.9 12.5h0m3.1-31.9h0m0.6 8.1h0m20.4-71.7h0m-8.5 4.4h0m3.4 21.2h0m-10.6 10.6h0m-0.8-51.2h0m0.9 59.7h0m0-12.1h0m0.6-5.5h0m1.9-66.8h0m11.4 79.7h0m-2.7-34.7h0m-17.5 14.4h0m13.4 53.2h0m19.5-68.4h0m-23.3 78.7h0m-6.3-98h0m5.2 55h0m-6.1-97.9h0m4.8 137.3h0m25.5-98.3h0m-18.1 49.6h0m3.8 30.2h0m5.8-70.8h0m0-49.8h0m-4.2 49h0m-17.6-24.8h0m20.5 113.1h0m-19.4-12.9h0m1.3-101.5h0m16.9 61.7h0m-9.6-31.7h0m-4.2 89h0m14.9-28h0m-1.9 36.3h0m-19.3-105.3h0m6.4 12.7h0m2.9-20.1h0m-2 78.4h0m-8.1 20.4h0m5.5-46.7h0m11.6-1.2h0m-11.9 38.7h0m15.7-27h0m-8.5 19.4h0m1.6-13.2h0m-9.6 4.1h0m22.2-48.9h0m-27.1-34.9h0m33.2 92.5h0m-13.6 29.9h0m13.6-85.2h0m-15.1 71.1h0m-7.6 28.7h0m0.7-55.7h0m21.4 10.4h0m-15.6 29.5h0m-4.9-58.6h0m-9.1 17.4h0m-0.2 17.5h0m10.2 7.5h0m1.3-26.6h0m13.5-38.1h0m-26.1 0.4h0m12.7 43.6h0m-12.3 12.8h0m4.6-65.9h0m9.2-41.4h0m-13.8 43.4h0m1.6 45.1h0m20.4-47.9h0m-6.9 46.4h0m-16.8-0.4h0m33.3 21.8h0m1.5 21.1h0m-25.6-66.8h0m18.1 62.9h0m-8.9-29.4h0m-18.3 41.3h0m10.4-76.7h0m22.4 37.7h0m-11.2-40.2h0m-10.9 38.9h0m12 24.6h0m-20.1-76.4h0m11.6 37.5h0m13.2-31.5h0m-26.4 112.4h0m16.5-92.9h0m-16.4-17.6h0m5.9 40.4h0m18.9 0.8h0m-15.7-5.8h0m17.8 14.6h0m-3.7 34.4h0m-3.4-112h0m-18.6 60.3h0m11.5-39.2h0m16.4 79.1h0m-9.4-65.1h0m-21.6-12.5h0m16.6 19h0m-1.4-46.8h0m0.8 96.1h0m-2.8-28.4h0m4.5-13.5h0m13.9 30.8h0m-33.5-12.5h0m-0.7 45h0m6.5-129.3h0m13.2 24.7h0m-8.3-4.8h0m-6.4 16h0m30.4 100.7h0m-19-92.5h0m3.1 79.2h0m-15.1-65.1h0m23.9-15.4h0m-15.5-0.9h0m0.9-2.1h0m3.7 101.9h0m0.2-149.7h0m12.6 99.9h0m-19-75.6h0m6.4 41.6h0m-1.1 15.4h0m7.3-86.5h0m-2.5 69h0m-19.6-3.9h0m30.9 86.4h0m-8.1-131.5h0m-18.8 27.7h0m13.2 40.2h0m15.5-57.8h0m-19 23.7h0m-6.4 62h0m27.4-99.9h0m-20.8 102.9h0m17.5-18.7h0m-25.8-69.2h0m24.3 23.7h0m-1-0.2h0m-10.7-15.4h0m-6 14h0m0.9 30.6h0m1 3.1h0m-5.6 28.2h0m-4.4-30.4h0m13.1-18h0m-2-25.1h0m20.8 92.7h0m-33.6-73.2h0m17.5-13.6h0m-13.2 27.2h0m-3.7 8.7h0m19.9 4.2h0m-17.4 9h0m8.6-44.2h0m-5.3 78h0m7.7-65.6h0m13.3 65.1h0m-13.2-34.9h0m19.4 12.7h0m-2.9-79.3h0m-26.6 29.3h0m-3.2 5h0m21.1 63.1h0m-12.4-82.8h0m-3.6 86.9h0m12-45.5h0m-11.9 14.5h0m11.3-61.1h0m-0.5 24.2h0m9.5-66.3h0m-14.8 46h0m3.5-8.7h0m-13.4 106.3h0m26.6 6.8h0m2.7-93.9h0m-35.1 90.8h0m28.9-99.1h0m8.3 7.3h0m-29 2.1h0m6 98.7h0m9-104.3h0m-6.3 40.6h0m1.1 6.4h0m-0.8-90.2h0m16 26.4h0m-24.6 61.2h0m1 22.7h0m5.2-88.2h0m-3 40.1h0m5.5 54h0m-8.9 7.9h0m-2.2-15.9h0m8.3 20h0m-7.8-50.4h0m8.4-76.1h0m0.8 36.6h0m6.7 34.3h0m-5.7-64.2h0m-6.4 54.6h0m11.1-32.2h0m9.9 108.6h0m-20.7-77.4h0m17.4 49h0m-9.8-92.7h0m1.7 86.7h0m4.5-20h0m-6.8 20.6h0m-10.7 3.4h0m1.7-82.2h0m-7 111.6h0m23.1-122.8h0m11 24.7h0m-23.8 10.8h0m9.2-52.8h0m0.5 121.8h0m-16.5-111.7h0m15.9 49.2h0m1.9 21.1h0m-6.6-31.8h0m-3.2 61.9h0m-4.3-45.9h0m-6.1-24.3h0m20-5.9h0m-15.5 44h0m-4.4-65.2h0m31 115.9h0m-20.2-146.4h0m4.2 134.5h0m-10.2-72.9h0m29.9-35.9h0m-26.3 52.5h0m17.1-47.4h0m-27.9 107.4h0m0.8-40.6h0m15.4-13h0m-15.7 39.8h0m36 38.3h0m-13.7-84.5h0m-11.8 30.1h0m-3.5-46.5h0m-3 22.5h0m16.5 54.1h0m-15.7 2.9h0m2.4 1.1h0m15.9-2.1h0m12.3 3h0m-5.3-87.1h0m-14.7 91.8h0m-2.9-67.5h0m-6.1 49.1h0m23.1-13.5h0m-11.3 35.6h0m-0.5 18.5h0m8.8-122.1h0m-5.9 26.9h0m6.5-42.7h0m-0.1 86.4h0m-26.4-19.9h0m29.2-41.9h0m-26.8 103.9h0m16.5-23.7h0m-2.1-49.5h0m10.6-55.9h0m-20.8 54.3h0m18.4-7.3h0m-13.6 28.7h0m9-70.6h0m-6.3 53.9h0m13.1-59.2h0m-9.5 119.6h0m-19-110.1h0m34.8 82.6h0m-12.8-86.8h0m-15.6 71.6h0m21.2-37.1h0m-10.7 63.4h0m-10.7-19.7h0m6.4-23.7h0m10.3 46.9h0m-10.6-53.9h0m-7.4-29.5h0m-3.2 60.1h0m12.6 53.1h0m13.2-53.8h0m-14.8-55.7h0m2.6 109.9h0m15-37.9h0m-6.3-7.2h0m13.2-58.1h0m-18.2-0.7h0m10.1 6.8h0m8.7-6.3h0m-37.8 72.8h0m17.5-33h0m10.5 16.2h0m-19.6-95.9h0m-6.2 134h0m16.6-22.3h0m-16.8-71.7h0m3.6 8.6h0m-4.2 15h0m0 36.7h0m19.5-16.1h0m-6-17.4h0m-9.7 35.4h0m9.4-71h0m-5.3-31.6h0m23.3 43.1h0m-13.6 68.5h0m-18.7 44h0m35.1-114.3h0m1.9 59.7h0m0.2 10.2h0m-27.6-76.6h0m8.8 76.8h0m-15-108h0m12.2 12.7h0m-4.1 28.1h0m20.7-14.9h0m-32 12.1h0m-0.2-15.4h0m34.6-9.7h0m-18 36.8h0m-10.3-15h0m4.9 18.6h0m24-55.1h0m-28.7-22.9h0m23.9 123.8h0m2.9-84h0m-22.7 51.9h0m11-52.8h0m-2.4 58.3h0m15.8 48.1h0m-28.7-38.3h0m7.3-43.3h0m-8.9 14.7h0m4.5 22.3h0m19.5-57.1h0m-4.8 71.9h0m-3.1 18.8h0m11.7-82.4h0m-24 16.4h0m25.8 75.9h0m-22.6-87.6h0m22.6-6.6h0m-7.2 88.5h0m-0.2-27.4h0m-4.3 59.1h0m6.4-49.1h0m-17.8-20.6h0m16.1 51.6h0m-23.6-77.8h0m20.6 35.7h0m11.8-85.1h0m-27.5 85.4h0m25.1 17.9h0m-11.6 10.1h0m-6.1-87h0m-2.1 12.8h0m2.6 42h0m0.1 10.9h0m11.7-48.3h0m-22.9 28.7h0m23.7 42.2h0m-6.9-71.1h0m15-24.9h0m-27-4.6h0m17.4 77.3h0m-8.5-102h0m-11.3 125.3h0m-4-108.9h0m29.8 127h0m-33.7-149.4h0m9 99.6h0m8.4 23.7h0m-6.9-83.3h0m10 122h0m-14.4-31.5h0m15.6 10.4h0m2.3-138.1h0m-18.2 84.4h0m11.4 9.2h0m-11.9 18.1h0m5.5 3.9h0m7.8-111.8h0m9.8 32.9h0m-22.1-24.1h0m24.1 98.3h0m-12.9-29.6h0m-1.9 24.2h0m21.3 43.4h0m-0.6-40.7h0m-21 46.6h0m13.5-131.1h0m-9.2 61.3h0m3.2-48.5h0m7.2 20.3h0m6.1 62.5h0m-2.1-90.3h0m-19.3 46.4h0m-15.1-59.3h0m5 109.2h0m9.3-118h0m-10.9 88.4h0m17.2-73.4h0m-16.3 78h0m7.1-0.4h0m0-44.5h0m6.2 64.9h0m-13.5 49.4h0m24.6-26h0m-28.8-66.1h0m32.2 29.5h0m-24.2-50h0m23.2 72.9h0m-5.2-71.5h0m-23.2-44.8h0m11.1-7.6h0m-9.2 67.9h0m-2.3-99.4h0m14.4 145.5h0m-0.7-26.4h0m-13.1 18.2h0m30.5-59h0m-22.3-44.1h0m7.5 43.2h0m-18.8 57.6h0m11.5-24.4h0m16.4-68.7h0m-6.3 45.4h0m-16.4 29.3h0m3.3-6h0m-4.3-52.1h0m21.2 78.4h0m-11.2 21.8h0m13.7 8.8h0m-22.4-82.5h0m-1.5 27.8h0m16.8-23.4h0m-11 65.9h0m-4.6-96.7h0m4.3 32.4h0m-2.9 12.4h0m8.3 28.6h0m-6 23.2h0m14.4-92.7h0m-9 32.5h0m5.6 17.4h0m13-55.2h0m-26.2-8.4h0m3.3 5.6h0m11.7 72.6h0m-3.7-50.7h0m-16.8 11.3h0m26.9 66.4h0m-11.6-37.4h0m-11.9-7.4h0m22.1-25.3h0m-24.3 34h0m0-41.1h0m19.5 53.9h0m-5.3 16h0m-7-21.5h0m-2.7-18.3h0m5.4-8.9h0m21.1 41.1h0m-6.8-68.9h0m-26.5-4.9h0m4.8 71.3h0m16.8-49.4h0m-5.8 27.4h0m-13.1 55.3h0m5.7-16h0m-7.9-28.2h0m31.8-46.9h0m3.2-40.7h0m-15.2 10.5h0m9.9 83.7h0m-25.1-33.2h0m5.4 76.3h0m13-25.1h0m2.4-27.2h0m-3 26.2h0m-19.6 11.9h0m32.2-95.9h0m-26.1-51.7h0m23.4 157.9h0m-27.9-35.5h0m12.5 9.7h0m6.1 5.6h0m-7.2-23.6h0m10.2-68.4h0m-7 5.2h0m-15.5 105.6h0m4.2-47.5h0m15.6 27.5h0m-7.2-25.5h0m-6.8 49.8h0m-7.8-25h0m26.5 38.3h0m-21-76.2h0m23.8-55.5h0m-8.8 54.9h0m-20.6 25.2h0m24.9-65.9h0m10.6 89.1h0m-25.9-66.8h0m20.4-52.5h0m-11.4 89.7h0m9.3 39.2h0m-2.1-16.5h0m-16.3-51.2h0m6.9-2.2h0m-14.8 33.2h0m0.9-15.5h0m6.4-82.6h0m16.4 18.8h0m-12.3 51.7h0m18 52h0m-7.7 8.2h0m9.8-100.5h0m-4.9 73.5h0m-13.5-30.6h0m-12.7-20.3h0m14.7 21.4h0m0.9-80.6h0m-15.4 142.7h0m1.5-71.5h0m31.8 60.4h0m-5.9-34.8h0m-17.9 32.9h0m-12.7-66.8h0m9.2 18.9h0m10.8-21.9h0m16 43.3h0m-36.2-23.8h0m26.6 21.5h0m9.2 0.7h0m0.3 13.1h0m-14.2-69.3h0m-22.1 44.2h0m9.8-82.5h0m-6.6 117h0m2.3 0.8h0m17.5-35.4h0m10.6 53.6h0m-20.2-63.5h0m8.9-34.1h0m14.5 86.6h0m-5.4-4.7h0m-31.6-7.1h0m3.7-73.2h0m23.4 51.3h0m7.1 1.5h0m-15.8-38.3h0m-16.6 102h0m5.7-37.4h0m-4.8-87.9h0m25.7 15.8h0m-11.5 51.9h0m-9.1-10.7h0m8.5 51.5h0m-0.7-29.7h0m2.7-30h0m-17.6-5.7h0m5.3-50.3h0m-2.4 24.9h0m20.7 67.5h0m-6.5-33.8h0m19.8-41.6h0m-13.7 13.2h0m-16.6-74.5h0m-3.7 1.4h0m27.4 139.2h0m-26.4-133.2h0m14.7 126.5h0m14.8-70.1h0m-30.2 22.4h0m14.5-51.7h0m14.5 13.3h0m-10.2-15.9h0m-22.4-27.7h0m12.6 75.7h0m-2.6 61.8h0m2.2-13.6h0m18.3-62h0m-0.9-0.1h0m6.7 78.6h0m-21.1-92.2h0m19.9-0.9h0m-15 70.5h0m-13.2-11.1h0m25.9-45.4h0m-18.4 78.5h0m20.9-17h0m-24.3-41.6h0m3.4 6.7h0m4.4 2.6h0m14.3-70.2h0m-5.8 20h0m-18.1 22.8h0m9.1 64.4h0m13.5 10.2h0m1.4 1.4h0m-5.5-113.7h0m-15.9 112.5h0m22.7-15h0m-20.5-32.7h0m13.2-72.6h0m-1.7 91.4h0m-24.2-28.3h0m6.1-43h0m16.8 44.8h0m2-32h0m-0.7 83.4h0m7.4-87.8h0m1.9 12.5h0m-24.6 4.9h0m20.9 49.5h0m-27.3 4.6h0m12.3-75.1h0m3.9 64.5h0m0.8 23.8h0m11.6-82.4h0m-32.9 29.4h0m2.3 1.3h0m27.4 32.6h0m-19.4-26.2h0m7.1 15.7h0m-12.1 18.1h0m13.3 34.2h0m-16.2-132h0m19.9 68.7h0m-12.9 66h0m-6.2-69.1h0m-2.3 86h0m32-173.7h0m-28.5 152.2h0m3.7-134.4h0m12.9 113.3h0m-18.7 0.6h0m25.1-91.1h0m-2.9 92.8h0m0.1-89.9h0m-11.2 81.4h0m-2.8-61.3h0m18.7 72.3h0m8-117.7h0m-14.8 113.4h0m12.2 22.7h0m-28.9-33.5h0m23.1-117.3h0m-20.2 83.9h0m1.7-34.9h0m-9.5 56.1h0m34.7-88.3h0m-30.1 64.2h0m3 5.4h0m4.5-2.2h0m3.2-75.3h0m14.7 95.9h0m-28.1-65.7h0m-0.3 71.7h0m5.7-28.8h0m25.2-18.6h0m-2 41.4h0m-12.2 55h0m-19.3-120.4h0m23.1 60.3h0m-12.6 54.6h0m-5.6-147.3h0m6.4 93.5h0m11.1 57.2h0m5.7-120.4h0m-4.4 92.1h0m-1.4-40.8h0m-1.3 51.8h0m8.5-93.1h0m-3.5 19.7h0m-13 41.9h0m-4.9 24.6h0m21.5-1.1h0m-5.5-62.3h0m-12.1-80.2h0m-11.5 122.6h0m29.2-92.8h0m-23.4 83.1h0m22.3-54.5h0m-26.7 5.9h0m1.6 33.1h0m0.8-34h0m1 15.8h0m-4.5 58h0m10.7 28h0m9.3-28.3h0m-0.5-100.3h0m5.5 12.7h0m-5.4-12.2h0m-15.4 102.9h0m-2.2-75.2h0m26.8 5.5h0m-18.8-11.5h0m-5.2 4h0m5.2 2h0m-6.2-1.8h0m3.4 77.9h0m14.2-57.8h0m-6.6-16.9h0m6.4 70.6h0m-3.5-40.6h0m-13.5 17.7h0m21.2-54.6h0m-14.6 37.8h0m-1.7 12.1h0m21.4-39.9h0m-22.6 18.6h0m2.4-31.7h0m5.4-36.5h0m12.9 49.2h0m-14.6 22.7h0m-14.7 12.6h0m-0.1-8.5h0m4.2 29.7h0m33.8 37h0m-21.3-36.8h0m2.2 24.6h0m7.7-91h0m-7.9-5.1h0m-12.7 72.7h0m21.1 14.1h0m-20.4-36.3h0m6.2-5.9h0m-12.2-91.3h0m23.5 47.1h0m6.5 59h0m-18.1-11.7h0m-10.7 56h0m11.3-90.8h0m-7-40.5h0m1.8-1.3h0m17.2 24.1h0m-1.6 27.3h0m-0.6 31.8h0m-7-30.8h0m6.7-2.4h0m-5.2-20.6h0m-3.1-13.9h0m-11.4-12.3h0m11.1 27.7h0m18-10.7h0m-16.9 49.7h0m9.7-18.4h0m-5.1 44.8h0m10.8-92.2h0m-30.7 94.2h0m8.9-98.7h0m-0.9 0.2h0m18.9 6.1h0m-17.8 77.1h0m9.8-63h0m-13.9 28.3h0m-4.6-66.3h0m18 73.1h0m-12.4-53.8h0m28.7 17.2h0m-33.7 53.3h0m3.3 43.2h0m31.4 6.8h0m-26.1-3.1h0m14-70h0m-22.3-24.4h0m18.3 53h0m7 14.4h0m-8.3-53.6h0m3.5 89.2h0m7.6-94.9h0m-15.4 108.3h0m11.5-10.7h0m-20.6-46.9h0m18.4-25.5h0m-17.6 0.3h0m2.9 17.4h0m4.1 31.3h0m-9.9-7.1h0m15.7-26.9h0m1.4 38.7h0m1.2-72.6h0m-5.7 3.5h0m-7.9 28h0m9.3-16h0m-16.6 57.3h0m28.5 5.2h0m-27.2-31.9h0m21.8-7.1h0m-2.6-50.1h0m14 80h0m-21.2-29.1h0m8.5 15.5h0m-17.2-43.6h0m15.4-22.8h0m-8.8 77.2h0m4.4-9h0m-1.4-12h0m7.4 27.1h0m10.3-5.4h0m-15.4-39.6h0m-3.7-22.9h0m23.5 73.6h0m-24.4 5.4h0m-10.3-70.6h0m6.6-15.5h0m43.7 61.7h0m2.9-71.2h0m-6.9 5.7h0m-4.5-9.8h0m36.8 81h0m-19.5-77.2h0m-11.2 71h0m-6.2-61.8h0m5.5-5.3h0m22.6 80.8h0m-27.7-8.3h0m15.2-77.5h0m11.1-7.8h0m-25.1 88.5h0m16 13.7h0m53.2-79.6h0m-3.7-1.7h0m1.3 1.7h0m-68.2 78.7h0m38.2-8.9h0m-31.9-78.8h0m-11.4 80.2h0m5.3-12.5h0m-0.7 8.5h0m-1.8-68h0m-2.2-19.7h0m11.1-13.2h0m3.7 98.2h0m57-1.8h0m-56.8-113.1h0m4.8 126.1h0m10.1-4.4h0m37.1-7.7h0m19.9-64.1h0m-28.9 67h0m-40.5 9.1h0m-0.5-88.2h0m11-8h0m-12.1 8.3h0m-3.3-37.8h0m1 124.6h0m60.1-74.8h0m-61.6 78h0m-3.5-123.3h0m14.1 106.5h0m4.8-76.6h0m-15.5 4.5h0m-12.5 79.7h0m20.8-96.9h0m-5.4 110.2h0m30.5-6h0m-46.3-90.2h0m41.3 81.2h0m-28.8-3.9h0m16.5 8.5h0m-17.5-80.2h0m20.6-14.8h0m-20.3 78.8h0m17.7-75.8h0m-26.4-6.3h0m17.7 85.2h0m7.9-79.9h0m-16.8 87.4h0m1.3-99.6h0m11.8 29.1h0m-11.9-17.9h0m3.3 9.3h0m6.4-3.6h0m-11.1 81.4h0m36.6 7.7h0m-40.7-76.4h0m37.9 79.1h0m-42.2-20.9h0m47.4 10h0m-45.1-67.8h0m1.7-2.1h0m77.6 8.3h0m-81.6 57.9h0m54.4-69h0m-36.6-6.7h0m3.4-16.5h0m26.5 12.9h0m6.5 11.4h0m-32 83.5h0m-18.7-15.1h0m-2 26.1h0m13.8-90.8h0m24.9-8.5h0m-32.2 87.3h0m-9.7-76.3h0m3.4 62.5h0m20.2 19.9h0m-13.6-90.9h0m2.4 68.3h0m35.2 5.5h0m29.9-66h0m-77.4-12.9h0m8.4 78h0m-3.9-3.8h0m38.1 11.3h0m-15.4-6.6h0m-18.3 6.7h0m-3.7-76.6h0m49.9-2.7h0m-1.7 72.6h0m11.4-0.4h0m-58.7-62.6h0m64.5 63.1h0m-46.8 0.8h0m-23.8-6.4h0m29.1 17.7h0m-15.1-18.6h0m0.2-92.5h0m-7.9 16.7h0m48.8 13.4h0m-19.6-4.4h0m10.6 73.5h0m-32.2 18.1h0m-9.5-88.3h0m20.9-36.9h0m-21.1 127.7h0m42.1-21.1h0m-42.4-77h0m61.8 81.4h0m0-2.5h0m-66.6 1.8h0m15.6-9.9h0m-10.5 7.4h0m39.7-81.2h0m-43.5 0.6h0m73.1 12.6h0m-74.4 101.4h0m9.4-105.6h0m8.1 81.7h0m0.2-86.9h0m-9.9-16.5h0m16.4 116.2h0m-22.7-88.3h0m1.9-1.6h0m13.1-22.9h0m-11.3 79.3h0m14.8 15h0m-17.4 2.8h0m73.9-6.7h0m-1 2.1h0m-40.9 11h0m3.7-84.7h0m-28.1 97.4h0m13.1-107.1h0m-17.8 104.1h0m76.2-86.7h0m-78.5 84.7h0m-1.1-101.9h0m16 2.5h0m9.6-14.6h0m-24.3 24.6h0m1.6-40.6h0m11.6 19.3h0m17.3 101.4h0m14.4-97.4h0m13.4 13h0m-57.4 68.6h0m12 20h0m-8.9-127.1h0m26.7 126h0m14.4-5.2h0m-40.5-80.9h0m39.9 1.3h0m-23.4-2.7h0m7.4 86.1h0m25.3-8.2h0m-30.8-89.2h0m-5.5 85.6h0m-21.5 31.8h0m6.5-40h0m63.2-64.5h0m-65.7 65.9h0m16-73.8h0m11.5 83.2h0m-1.8-8.3h0m8.2 8.7h0m-21.4-101.1h0m-15.7 82.9h0m14.8 13.2h0m-12-11.4h0m26 13.1h0m11-86.7h0m-37.3-14.2h0m20.7 28.8h0m-6.1 64.7h0m-7 33.5h0m48.8-98.5h0m-20.5-0.4h0m-19.4 79.7h0m-13.9-17.4h0m39.2-69.1h0m-39.1 71.1h0m29.4 7.7h0m1-71.6h0m19.7 69.7h0m24.2-62h0m-69.1 66.1h0m64.8-4h0m-61.9-86.6h0m27.1 93.7h0m-39.3-12.2h0m6.6 16.6h0m70.6-10.5h0m-66.2-75.1h0m-12.1-30.1h0m66.4 108.7h0m-45 3.6h0m-4.2-14.3h0m-2.4 12.8h0m9.4-91.7h0m2.9 100h0m57-19.6h0m-55.4 12.1h0m54-70.5h0m-63.8 63.8h0m-6.7-113.3h0m16.5 132.6h0m17.5-18.6h0m-37.9-72.6h0m22.8 88.3h0m-26.5-26.4h0m1.9-59.3h0m25.5-18.4h0m-27.5 18.2h0m14.6 67.8h0m61.8-61.4h0m-73.1-7.1h0m-3.7 76.8h0m32.6-94.5h0m-27.1 101h0m-1.6-14h0m5.1-114.3h0m51.2 41.1h0m-19.1 1.7h0m-30.3-3.3h0m38.9 0.4h0m21.4 11.5h0m-64.4-9.7h0m-0.1 101.4h0m50.7-27.2h0m-15.8-82.5h0m19.6 13.5h0m-55.2 75.5h0m-4.5-75.6h0m10.7-34.7h0m-3.3 4.4h0m15.5 13.9h0m-21.7 12.1h0m18-23h0m54.6 97.6h0m-66.3-89.8h0m28.2 94.9h0m-9.2 1.9h0m-26.7-79.4h0m69.8 68.9h0m-49.5 10.1h0m-15.7-93.5h0m41.8 90.8h0m-12.1-1.9h0m-28.8 5.2h0m43.3-78h0m-33 80h0m-21-100.1h0m9.4 101.2h0m0.9-82.1h0m21.5-2.4h0m-10.6-33.2h0m-2.9 3.6h0m34.3 22.2h0m-44.9 1.6h0m-4.5 101.5h0m21.8-92.8h0m1.1 0.7h0m42.1 71h0m-39.3 6.7h0m10.6-80.4h0m-9.3 77.5h0m-13.3-72.5h0m62.2 63.7h0m-74.6 26.5h0m35.7-21h0m2.5-90.9h0m-17.2 4.1h0m18.6 87.5h0m-25.1-82.4h0m-17.3 101h0m6.1-20.9h0m8.8 2.9h0m51.8-73.3h0m-56-4.9h0m12-21.2h0m-22.9 117h0m2.7-28.2h0m30.8-70.8h0m-18.3 105.7h0m17.6-102.6h0m-11 87.8h0m14.2-89.7h0m-11.8-20.8h0m18.9 109.6h0m-35.4-22.4h0m5.8-65.2h0m-15.5 9.6h0m27.5-13.7h0m56.4 14.7h0m-70.1-10.3h0m-1.5 0.7h0m-5-3.8h0m6 3.5h0m56.3 3.9h0m-39.9 68.2h0m9.7 13.7h0m-4.1-91.5h0m-10.8-1h0m-19.2 78.4h0m14.9 1.5h0m-4.2 1.1h0m41.6-69.8h0m-29.8 73.6h0m-21.5-87.6h0m-2.7 16.6h0m6.8 73.2h0m-9.3-72.4h0m50.3 72h0m-16.1-100.9h0m23 100.9h0m16.6-72.8h0m-62.4 75.6h0m-12.1 25.8h0m45.3-116.9h0m-23.9 82.7h0m-19.8-90.9h0m3.6-2.8h0m-0.4 24.5h0m3.8-3.9h0m40.6-8.5h0m-48.7 115.6h0m18.1-26h0m-18.3-7.8h0m71.5 1.4h0m-12.1-71.3h0m-51.3-15.2h0m47 12h0m-46-21.8h0m-10.2 98.8h0m12.3-101.1h0m-0.2 90.6h0m63.8 9.6h0m-68-74.6h0m8.2-5.2h0m-11.8 74.2h0m23.7 18.9h0m-14-92.2h0m21.7 91.6h0m-31.7-21.4h0m70 7.3h0m-61.6-75.1h0m-12.1 66.6h0m-0.1-58.6h0m41.2 65h0m-19.6 20.9h0m-11.1-17.5h0m16.2 9.4h0m18.4-12.5h0m-3.7-82.4h0m38.3 17h0m-63.4 60.9h0m-1 16.7h0m13.7 5.9h0m-12.7-10.6h0m11-104.1h0m9.3 111.1h0m-16.1-6.5h0m-12.1-102.2h0m28.1 109.8h0m-26.3-84.4h0m14.5 85.3h0m17.2-91h0m-21.1-17.9h0m-17.6 93.1h0m50.5-71h0m34.1 63.6h0m-57.6 27h0m2.9-6.5h0m44.8-78.5h0m7.6 62.2h0m-85-76.7h0m56.2 82.8h0m-48.5 20.7h0m7.9-100.8h0m-2.7 81.3h0m23.2-80h0m-28.2-16.2h0m-1.9 20.5h0m-1 63.8h0m15.3-85.5h0m28.3 101.2h0m-41-79.3h0m44.8 71.6h0m6.3-1.4h0m-57.1-66.4h0m10 57.7h0m28.4 10.5h0m-23.5-91.2h0m28.5 5.7h0m-38.4 7.4h0m2.8-18.7h0m-9.6 115.9h0m28.6-98.5h0m-14 83.8h0m-13.8-0.1h0m81-6.5h0m-62 23.7h0m50.1-19.5h0m-13.4-76h0m-25.5 71.1h0m-22.1 27.2h0m19.6-20.2h0m38.2-3h0m-56.9-12h0m14.4 16.2h0m55.9-7.7h0m-62.4 16.3h0m24-95h0m-8.3 1.6h0m-22 6.3h0m-9.1 4.5h0m29.3 67.9h0m24.6 6.1h0m-23-96.2h0m-7.7 20.9h0m-23.4-10.8h0m12.2 4.1h0m39.1 76h0m-38.4-89.4h0m-14.3 81.5h0m27.2-74.6h0m-14.4-5.5h0m-3.8 14.7h0m77.7 8h0m-33.9-10.9h0m-15.5-16h0m-34.5 114.5h0m0.4-0.2h0m27.9-7.8h0m5.8-103h0m-32.3 106.3h0m3.6-89.8h0m17.3 3.6h0m-12.1-8.3h0m-13.8 89.4h0m67-80.8h0m1 1.9h0m-67.3 86.6h0m7.9 5h0m-1.8-88.2h0m26.1-31h0m-13 90.6h0m-12.1-68.8h0m2.5 72.7h0m22.7 10.7h0m13.6-6.6h0m-47.5-109.5h0m48.8 112.3h0m-33.3-84h0m18.1 2.2h0m-25.3-21h0m30.4 17.4h0m-34.7-4.1h0m7.8 82.4h0m33.5 9.1h0m31.8-13h0m6.1 2.1h0m-70.9-71.8h0m16.2-8.9h0m5.8 3.2h0m-30.9 79.4h0m-3.6 19.2h0m22.4-101h0m-7.4 75.2h0m18-79.1h0m13.9 9.9h0m31.7 75.6h0m-31.6-82.6h0m-34 7.4h0m21.8 78.6h0m32.2-74.4h0m15.4 68.4h0m-12.5 4.8h0m-17.1 5.5h0m-22.1-0.1h0m14.6-86.7h0m-32.4 5.5h0m-11-6.3h0m85.7 78.5h0m-38-78.2h0m-46.6 100.9h0m-2.5-86.8h0m41.2 76.1h0m-38.4-92.3h0m42.4 4.6h0m-31.7-22.4h0m-7.8 100.1h0m28.1-89.9h0m-3.2 1.7h0m19.8 94.9h0m-45.7-89.3h0m20.8-14h0m-24.6 115.5h0m54.6-12.8h0m-20.3 9.8h0m-32.6 4.7h0m18.8-1.5h0m31.2-95.9h0m-45.3 5.2h0m23.6 82.5h0m-11-91.4h0m19.4 6.8h0m-13.6-8h0m-5.7 1.1h0m-20 83.8h0m29.4 9.5h0m-4-98.3h0m-16.1-1.1h0m76.7 85.6h0m-80.9 23.5h0m17.3-128.8h0m-18 127.5h0m19.6-10.2h0m21.1-87h0m-30.2 95.1h0m-9.3-88.7h0m-1.7 81.4h0m39.9-90.5h0m34.5 13.6h0m-41-7.1h0m-11.1 66.1h0m3.4-76.3h0m-12 96.3h0m-4-128.8h0m15.7 40.5h0m7.5-17.8h0m13.9 10.9h0m-26.8-2h0m53.5 82.7h0m-41.3-73.9h0m51.7 8.5h0m-58.8 64.7h0m-19.4 28h0m43.2-100.6h0m10.7 0.4h0m-62.3-7.2h0m-1.5 99h0m17.6-103h0m-5.2 81.9h0m-2.2 3.8h0m0.7-4.4h0m30.2 5.1h0m31.6-71.1h0m-68.7-22.5h0m13.9 84.3h0m54.1 9.7h0m-15.2-3.1h0m-45.1-73.5h0m21.9 84.7h0m24.4-88.9h0m-28 96.9h0m-19.4-131.9h0m28.4 117.5h0m-15.7-85.7h0m-3 96.9h0m-13.6 7.7h0m1.7-94.5h0m18.8-7.5h0m4.6 78.3h0m-17.9 30.4h0m13.1-23.6h0m-0.2-5.4h0m5.2-102.1h0m-25.7 138.5h0m76-37.5h0m-57.3 4.2h0m14.2-3.7h0m-35.9-81.9h0m37.1 82.2h0m-36.6-12.1h0m22.2 11.1h0m-25.3 0.2h0m2.3-67.1h0m7.3 94h0m9.1-119h0m52.7 93.2h0m-15.7-1h0m-24.2 0.8h0m-29.1-68.7h0m38.2 70.6h0m14.5 4.5h0m22.6-75.6h0m9 68.2h0m-87.5-89.3h0m58.5 96.5h0m-43.9 23h0m20.8-23.9h0m23 0.4h0m-17.6-91.7h0m29.4 87.9h0m-62.6-86.3h0m-0.6 79.4h0m2.6 29.4h0m7.7-11.4h0m9.3-13h0m-16.8-112.8h0m15.2 28.8h0m-13.5-13.9h0m11.9 115.3h0m-17.8-9.6h0m64.9-7.4h0m-53-92.3h0m-16.6 0.4h0m6.2 115.4h0m8.5 5.3h0m18.3-100.5h0m-24.3-1.8h0m5.8-4.5h0m-6.4 8.6h0m18-16h0m21 84.2h0m32.4 1h0m-42.1-93.6h0m-26.3 18.8h0m1-24.7h0m-4.3 90.2h0m62.8 10.1h0m-49.6-82.3h0m0.4-0.7h0m-14.9 92.5h0m7.2-19.2h0m7.8 7.7h0m38.7-75.3h0m-33.8 79.2h0m-2.3-1.8h0m-19.4-110.3h0m58.3 33.9h0m-62.8 102.9h0m6.4-4.7h0m38.1-20.2h0m-19.2 11.4h0m-19.7-18.4h0m44.8 3.8h0m-4 3h0m-6 8.9h0m-29.8-8h0m61.2-74h0m-48.1-5.2h0m9.4 75.6h0m-33.7 5.4h0m22.6-4.5h0m-23.1-67.9h0m3.7-41.6h0m78.1 106h0m-41.9 6h0m-4.1-0.9h0m-11.3-6.1h0m19.5-68.9h0m-35.8-22.8h0m3.3-18.8h0m66.1 112.7h0m-25-72.6h0m-34.6-18.8h0m18.7 91.2h0m-29.3-92.9h0m8.4-22.6h0m38.7 116.3h0m-46.7-70.6h0m4.5-26.9h0m4.6 94.7h0m20.9-69.4h0m-4.2 0.4h0m-15.1 70.7h0m40.6-69.8h0m-23.5-2.4h0m-31.9 7.6h0m40.7 68.3h0m-40-95.3h0m14.2-5.2h0m68.4 31.4h0m-62.9 65.5h0m-23.9 10.8h0m20.2-88.9h0m7 79.8h0m18.2-74.4h0m-16.6-10.7h0m26.3 11.5h0m17.3 7.2h0m-42.2-11.8h0m-16.6-21.5h0m3.7 109.9h0m14.3-85h0m52.3 11.8h0m-65.4-16.6h0m17 89.6h0m-13.2-13.5h0m57.5 2.6h0m-63.7 13.3h0m18.6-90.9h0m52.6 77.9h0m-67.2-67.2h0m12.9 69.3h0m-26.3-4.3h0m49.8 2.2h0m-47.9-0.7h0m36-75.1h0m-44.4 96.2h0m26.6-128.3h0m-5.8 111.1h0m3.7-86.2h0m-15.3-1.2h0m2.1 14h0m1.6-28.3h0m69 33.8h0m-69.9 71.4h0m-2.1-92.4h0m55 15.8h0m-34.7 73.6h0m-2.6-2.9h0m-7.8-70.2h0m2.6-11.3h0m-16.2 72.3h0m26.1 13.3h0m-19.3-3.1h0m8.6 13.1h0m-10.9-0.1h0m43.4-14.7h0m-32-82h0m-9.6 111h0m65.6-96.7h0m1.1 1.3h0m-6.1-2.7h0m-49.7 67.9h0m-9.5-6.7h0m-4.2-2.2h0m-3.1 13.7h0m-5.4-109.4h0m60.8 35.4h0m7.7 68.8h0m-29.4-75.9h0m-33 104.2h0m7.4-101.1h0m0.6 70.8h0m-12.8-64.3h0m16.7 79.9h0m-4.3-18.1h0m25.3-71.1h0m44.3 73.7h0m-43.2 12.5h0m-8.8-94.4h0m-30.9-4.7h0m11.8 1.4h0m37.4 19.2h0m-32.7 0.5h0m-13.2-24h0m19.9 108.1h0m11.8-103.7h0m84.8 34h0m76.8 34.7h0m14 2.1h0m-76.2-39.1h0m-20.1 41.9h0m14.7-1.8h0m11.1-40.3h0m93.2 37.4h0m-101.4-34.4h0m74.2 6.9h0m-80.8 30.9h0m-15.1-43h0m-22.6 54.7h0m120.2-42.7h0m8.9 26.6h0m-66.5-35.4h0m-12.4 0.7h0m-51 48.7h0m67.2-7.7h0m-9.2-0.9h0m59.4-3.3h0m-84.1 3.8h0m20.6-41.7h0m50 37h0m-65.6 1.4h0m91.2-30h0m-83.3 33.7h0m71.8-35.9h0m-96.8 36.3h0m19.2-40h0m-0.6 37.7h0m67.2-3.3h0m1.5-31.1h0m-43.2-2h0m57.1 5.6h0m-48.6 28.5h0m-39.9 6.1h0m-20.8 1.8h0m39.9-46.7h0m1.1 39.1h0m62.1-31h0m-96 38.9h0m3 0.9h0m66.5-8.4h0m-88.1 11.5h0m115.8-12.6h0m9.3 0.1h0m-89.5-39.9h0m26.6 40.1h0m40.3-30.7h0m-76.2 34h0m86.5-1.6h0m-5.2-33.6h0m-44.7 33.4h0m47.6-2.9h0m-40.3-31.1h0m51.7 30.6h0m-104.8-40.9h0m69.8 42.3h0m-45.2 2.3h0m97.1-2.4h0m-0.3 0.9h0m-26.5-31.2h0m-82.8 35.2h0m48.9-38.1h0m36 35.2h0m-0.2-30.9h0m5.3 28.8h0m6.3-29.2h0m-73.1 31.2h0m-50.7 14.9h0m87.6-15.3h0m1.2 0.6h0m53-29.2h0m-47 28.1h0m-58.9 4.8h0m-38.1-48.6h0m30.5 50.3h0m71.2-38.7h0m-30.7 34.1h0m-6.8-37.7h0m-3.8 39.3h0m-18.8-41.1h0m83.6 35.6h0m-100.7 8.8h0m112.5-36.2h0m-65.8-4.4h0m-31.8-5h0m-11.3 41h0m36.5-2.9h0m-19.2 3.6h0m14.1 1.5h0m-9.7-43.8h0m36 39.6h0m-0.6-35.5h0m-27.6 38.2h0m-54.5-46.3h0m45.3 43.7h0m77.8-1.3h0m-112.6 7.3h0m109.6-35.9h0m-59.9-7.1h0m-8.4 38.9h0m-42.6-42.7h0m104.6 8.9h0m-115.3-14.9h0m39.6 51.2h0m-33.6-49.5h0m17.1 49.9h0m-25.9 12.6h0m36.9-16.6h0m59.9-0.5h0m-46.7-0.7h0m-48.5 10.5h0m10.6 0.6h0m103.9-42h0m-52.4-4h0m-25.6 35h0m24.2 0.4h0m-16 4.4h0m-28.1 0.6h0m49.8-39.5h0m-48.9-4.6h0m16.4 45.7h0m48.7-5.7h0m-55 5h0m97.9-34.8h0m-7.1-1.4h0m-55.5 33.2h0m-46.6 1.7h0m-14.5 4.3h0m79.2-10.1h0m-29.4-37h0m65.4 8.4h0m-40.8-6.6h0m-32.1-0.8h0m-44.1 52h0m78.1-12.2h0m28-35.8h0m-19.4-2.2h0m-66.7 39.7h0m55.4-38.6h0m38.5 33.8h0m-57.5 2.1h0m-27.6-42.5h0m-29.4 54.4h0m111.7-15.7h0m-96.2-41.1h0m-10-0.3h0m22.2 5.7h0m83.2 38.7h0m-85-42.6h0m-1.3 0.9h0m56.3 40.1h0m27-29.4h0m-13.6 28.5h0m7.8 1.3h0m-15.1-0.5h0m48.2-0.9h0m-59.8 4.3h0m-7.4-38h0m-40-1.5h0m-7.5 41.1h0m74.6-5.1h0m13.7-32.3h0m-16-1.5h0m-55.6-2h0m104.3 36.8h0m-98.4 1.7h0m12.7-39.5h0m-5.7-0.5h0m57.7 7.9h0m-89.9 41.4h0m73.2-43h0m-13.8 34.4h0m-76.4 9.1h0m143.7-41.1h0m-47.9 29.5h0m47-1.8h0m-112.7 5.5h0m103.2-33.7h0m-39.5-1.2h0m-36-6h0m-33.3-2.6h0m-12.2-1.2h0m11.8-0.2h0m44.7 5.5h0m-0.8 36.9h0m32.7-2h0m-83-39h0m4.9 43h0m58.8-2.8h0m-51.1-39.9h0m85.8 37h0m-52.4 6h0m-55.7 3.5h0m85.6-6.7h0m-23 0.1h0m-17.6 3.3h0m9.5-1.2h0m62.5-32.9h0m-42.2-2.8h0m34.4 2.8h0m-34.7 28.8h0m-50 7.8h0m-25.6 9.5h0m63.4-52.1h0m-11.8 38.6h0m44.6-33.9h0m-64.4 32.6h0m-13.2 5h0m2.4-3.9h0m28.6 0.9h0m-18.5-42.2h0m-14.8 45.6h0m100.7-6.5h0m19.3-28.7h0m-124.8-14.8h0m27 45.2h0m-9.3-39.7h0m95.5 36.1h0m-52.7-32.1h0m-53 38.5h0m43.4-0.7h0m-47.9-0.3h0m33.9 0.6h0m76.9-33.5h0m-86.4-9.1h0m-12.7 41.8h0m103.8-32.3h0m-125.2 42.5h0m107.7-15h0m19.5-28.1h0m-79.7 34.3h0m-39.5 6.7h0m18.2-49.2h0m-29.6 49.9h0m-2.8-56.9h0m28.6 51.4h0m-24.7 7.2h0m104.3-43.6h0m-56.5-4.2h0m62.9 4.2h0m-89.2-10.7h0m56.6 39.8h0m-52.8 6h0m-15.3-46.4h0m81.9 10.8h0m-54.7 31.2h0m-1-36.9h0m31.5 1.5h0m29.9 3.2h0m-23.8 30.3h0m39.6 0h0m-64.1 0.5h0m-46.2-42.6h0m42.6 44.6h0m7.4 1.7h0m65.2-4.4h0m-43.7-32.2h0m-22.1-4.7h0m70.8 9.3h0m-100.6-8.4h0m43.8 1.6h0m0.8 36.6h0m56.5-31.7h0m-123.8 37.7h0m-9.2 4.3h0m16.1-0.5h0m111.9-40.8h0m-14.1-0.8h0m-38.9-5h0m68.5 5.7h0m-143.1 39.9h0m35.5-4.2h0m-1.1 0h0m96.5-35.8h0m-14.7 30.7h0m-76.1 6.1h0m-18.2-49.6h0m27.3 43.4h0m-12.1 2.2h0m-14.1-43.1h0m75.8 39.8h0m-28.4 0.1h0m-38.9-35.3h0m-14.4-5h0m27.3 44.6h0m97.8-32.9h0m-24.1 28h0m-120.2-45.3h0m130.1 44.9h0m-23 0.8h0m-3.8-1h0m-38.5-31.7h0m-39.5 41.1h0m104.3-7.2h0m-19.5 0.2h0m-72.5-39.1h0m1.5 44.7h0m87.9-7.3h0m-21 1.8h0m-99.7-47.2h0m14.8 53.5h0m51.6-42h0m31.5 33.8h0m-29.4-33.5h0m54.7 5.2h0m-116.7-11.2h0m73.1 7.9h0m13.4 34.3h0m-20.2-34.4h0m-16 37.3h0m-54.5 8.8h0m30.1-49.4h0m54.8 37h0m38.2-2.5h0m-71.5 1.8h0m71.7-1.1h0m-65.5-34.9h0m-6.9-1.9h0m41.2 5.2h0m-57.9-4.1h0m88 8.3h0m-31.4 27.8h0m41.4-1.4h0m-69.5-33.2h0m-54.1-6.5h0m123.1 12.6h0m-79.9 30.5h0m-10.1 4.4h0m7.5-1.3h0m24.4-2.4h0m-76.9 9.2h0m55.5-11.8h0m-48.6 7.7h0m81.5-39.2h0m-12.3 30.8h0m6.2 2.9h0m-43.3-1.3h0m79.3-0.7h0m-44.4 1.9h0m-25.2-1h0m-28.8 7.9h0m-24.1-52.5h0m1.7 0.3h0m141.2 41.4h0m-77-32.4h0m-13.9 34.8h0m-16.7-37.1h0m-17.9 42.3h0m51.2-2.7h0m-65.5-47.1h0m31 48.8h0m67.7-36.8h0m-57.2 33.5h0m51.2-35.1h0m-86.5 42.7h0m-1.5 6.1h0m-5.7-3.2h0m19.8-4.7h0m6.4-0.2h0m103.5-35h0m-51 28.6h0m-8.4 3.2h0m-63.7-44.4h0m93.7 9.9h0m26.2 1.7h0m-61-6.1h0m-18.9-4.3h0m65.9 37.4h0m-82-38.3h0m-23.7 48.5h0m36.3-1.7h0m82.8-6.8h0m-106.7 7.4h0m29.4-45.7h0m-45.1 50.2h0m101.7-12h0m17.9-30.1h0m-118.3-10.7h0m93.8 43h0m-62.3 3.7h0m17.7-0.2h0m60.1-36.5h0m-92.8 33.9h0m106-32.1h0m-111.8-13h0m112.8 13.3h0m-117 35.3h0m74.5-6.2h0m13.9-30.2h0m-83.7 36.2h0m-8.5-51.9h0m30.8 52.8h0m25.5-40.2h0m4 36.9h0m-42.9-0.6h0m-24.4 14.2h0m138.3-19h0m-21.2 1.7h0m-92.8-37.9h0m35.9 39.8h0m-35.7 3.1h0m62.3-38.7h0m18.4 2.6h0m31.4 31h0m-135.3-44.7h0m91.6 47.2h0m-25.8-37.4h0m17.5 2.9h0m47.7 30.3h0m4.1-26.2h0m-16.9-0.9h0m-74.1 32.5h0m90.9-3.3h0m-102.3-39.4h0m107 39.1h0m-62.7-31.7h0m-24.1-2.4h0m-36.6 41.1h0m15.1-1.5h0m43.9-2.9h0m-44.3 3.9h0m107.2-8.7h0m2.2 1.3h0m-49 0.4h0m-1.4 2h0m-37.1 3.2h0m21.9-39.3h0m-62.7 40.2h0m100.1-34.5h0m-65-5.2h0m-10.2-4.3h0m4.7 41.4h0m34.4 0.3h0m-44.9-41.7h0m-0.9 44.2h0m80.7-36.7h0m-73.4-6.7h0m-11.1 38.6h0m112.7-3.5h0m-113.1-38.5h0m63 41.1h0m-85.4 14.7h0m72-49.4h0m-31.3 34.5h0m-6.5-38.1h0m29.4 37.6h0m13.5-31.2h0m24.2 1.5h0m-44 30.6h0m29.7-0.7h0m-67.8 3.5h0m-24.5-47.3h0m52.7 49.9h0m0.5-4.2h0m2.1-36h0m-55.2 44.5h0m89.5-44.2h0m24.1 2.7h0m1 1.1h0m-1.8-1.1h0m-58.2-2.9h0m51.6 36.5h0m-31.6-36.5h0m13.1 34.9h0m9.2 1.6h0m-71.9-39.3h0m3.6 39h0m46.1 0.8h0m3.8-0.3h0m43.5-4.1h0m-34.6-32.2h0m-29.9 1h0m5.5 0h0m-49-9h0m-3.5 54.7h0m120.4-40.5h0m-89.9 34.5h0m20.7-43.7h0m-33.8 41.8h0m15.9 1.2h0m81.1-5.7h0m-49.5-34h0m-48.2 42.1h0m90.9-38.8h0m-122.3 41.5h0m134.1-11.1h0m-43-0.7h0m-20.2-35h0m-3.2 35.6h0m66.5-27.7h0m-19.1-3.5h0m-100.8 42.9h0m35.4-7.8h0m1.1-41.4h0m73.5 9.2h0m-62.7-6.5h0m45.5 35.4h0m-65.4-35.2h0m40.8 35.2h0m37-32.4h0m-80.2 34.3h0m66.8-33.8h0m-77.1-8.5h0m45.9 4.9h0m-42.1-1.3h0m34.5 36.4h0m50.6-31h0m2.4 29.2h0m-54.2-33.6h0m33.5 35.5h0m-7.2-34h0m-47.4 36.3h0m24.5-36.3h0m-40.2 39.7h0m-7.7-45.6h0m100.1 38.9h0m7.7-28h0m-117.8-15.2h0m123.9 16.7h0m-60.7 31h0m-65.7-47.3h0m4.9 3.9h0m23.8 2.2h0m67.9 36.1h0m-63.3 2.4h0m67.5 0.1h0m-101 7.1h0m112.3-8.2h0m-3 1.4h0m-69.7 0.5h0m0.4-0.9h0m8.3-37.5h0m31.5 4.1h0m43.4 31.4h0m-61-32.1h0m-32.9 39.7h0m74.3-8.1h0m31.8-27.3h0m-26.6 29.2h0m6.5-29.5h0m-74.7 33.7h0m89.6-32.7h0m-134.4 38.9h0m8.2-54.9h0m15.2 5.3h0m38.7 5.2h0m56.9 3.2h0m-39.1-1.7h0m-50.3-8.9h0m10.3 44h0m45.7-2.7h0m33.9-31.3h0m-47.8 34.7h0m57.3-5.8h0m-55.1 4.8h0m-3.6 0.8h0m6.7-3h0m-39.5 1.7h0m38.7-37.6h0m22.7 35.6h0m4.9 1.3h0m-83.9-39h0m57.9 37.5h0m-27.6 4.7h0m-32.9 4h0m69.3-40.8h0m-68-5.8h0m15.3 2.7h0m8.2 40.3h0m45-38.2h0m7.7 34.7h0m42.9-1.8h0m-96.1 2.7h0m-43.8-46.5h0m54.7 5.8h0m-13.8 44.5h0m25.6-43h0m-7.8 37h0m-9.9 0.9h0m50.1-2.2h0m-57.6 4.1h0m16.2-3.1h0m20.3 1.8h0m-30.9 1.4h0m-41.5-47.3h0m17.3 1.4h0m23.4 48.4h0m20.3-5.1h0m71.4-29.1h0m-18 26.7h0m-113.6-44.6h0m34.6 10.7h0m-3.1 37.8h0m-36.1-46.8h0m138.5 43.6h0m-73.6 3.7h0m43.3-34.5h0m-102.3 44.5h0m18.6-2.3h0m89.9-39.1h0m-16-3.6h0m-31.4 32.7h0m39.9-1.4h0m-106.8-40.7h0m93.5 40.5h0m-73.1 9.8h0m-0.7-46.5h0m32.5 44h0m-55-51.3h0m141.4 45.5h0m-41.4-31.3h0m-60.6-7.1h0m10.2 40.1h0m-36.9-43.3h0m53 40.8h0m5 4.4h0m-25.2-1.7h0m-28.6-45.2h0m-7.9 0.4h0m3.4 52.5h0m131.7-11.9h0m-135.3-41.1h0m59.4 44h0m-57.8-42.3h0m28.8 45.4h0m72.9-32.9h0m14.3 28.2h0m-86.8 1.6h0m-12.8 4.7h0m-4.4 4.5h0m49.2-45.6h0m-68.7 45.3h0m93.5-40h0m-51.1-4.2h0m64.2 2.4h0m-43.7-4.5h0m39.1 35.6h0m-90.4-43.9h0m17.2 47.5h0m64.1-0.2h0m9.8-1h0m1.4-2.9h0m-36 2.1h0m-9.6 4.6h0m69.8-33.3h0m-93.5 29h0m101.4-29.5h0m-34.6-1.5h0m-19.7 29.5h0m-75.5 13.9h0m63.2-9.3h0m34.8-2.2h0m-93.9 8.8h0m117.1-38.3h0m9.6-1.4h0m-41.3 30.7h0m-3.4-33.2h0m-81.2-10.5h0m51.2 8.9h0m-6.6 33.5h0m47.2-29.8h0m30.6 29.8h0m-126.4-41.1h0m37.2 45.3h0m96.7-34.1h0m-38-0.2h0m2.8-2.1h0m-106.2 43.3h0m30.2-7.4h0m-14 5.5h0m83.8-8.4h0m37.6-30.6h0m-103.9 31h0m42.6-2.2h0m10.1 1.6h0m-82.7 8h0m80-7.3h0m24.3-32.1h0m-23.1 31.3h0m37.7-0.3h0m-27-31.2h0m-35.8-5.6h0m48.5 5.8h0m-49.6 31.8h0m-11.4 1.1h0m-51.3 15.7h0m81.7-50.2h0m32.5 31.2h0m5.4-0.9h0m-108.5 16.9h0m71.8-15.2h0m-52.3 2.5h0m60.5-35.1h0m-5.4 1.6h0m-33.4 34.2h0m71.1-4.7h0m-94.9 10.3h0m106.8-37.8h0m-52.3 31h0m20.8-34.3h0m-12.1 32.1h0m26.9-0.7h0m-23.7 0.2h0m-11.9 1h0m-43.1 5.7h0m17.7-5.2h0m-3.4-0.4h0m65.3-29.9h0m-36.5 31h0m-62 3.8h0m-17 9.7h0m54.5-48.3h0m-18.9 34.1h0m67.8-30.9h0m-58.3-4.1h0m2.6 34.5h0m86.5-2.3h0m-136.5-45.5h0m37.2 52.5h0m80.4-5.5h0m14.2-29.6h0m-71.5-3.2h0m-42.5-10.7h0m118.7 14.5h0m-86.2-8h0m85.6 8h0m58.3 3.4h0m37.7 21.7h0m11-21.3h0m-2-4.8h0m-18.4 0.9h0m-25.9 27.2h0m36.7 4.4h0m-30.9-3.9h0m18.2-26.1h0m-12.3 24.7h0m-23.4-26h0m44.6 26.5h0m11.4 2h0m-20.3-31.6h0m-49.2 3.6h0m38.9-2.3h0m21.1 28.3h0m8.8-26.5h0m-14.3 30.1h0m13.4 0.4h0m-60.1-3.3h0m29.3-24.1h0m19.1 24.5h0m-68.2 2.2h0m25.1-28.1h0m53.5 33.4h0m-2.2 0.7h0m-27.8-33.4h0m-3.9 23.8h0m-54.4 1.2h0m85.6 6.7h0m-71.8-6.7h0m39.4-25.1h0m22.6 1.8h0m-10.5-0.7h0m-4.4-4h0m-19.5 1.2h0m-6.1 1h0m44.5 32.5h0m-6.5-6.2h0m-16.8-27.6h0m-30.2 0.7h0m20.2-1.7h0m-20.8 1.6h0m56.3-5.4h0m-78.7 6.2h0m57.9 24.1h0m-51.1-24.8h0m77.7 35h0m-57.6-7.8h0m-28.5 1.6h0m88.9-4.5h0m-9.9-24.8h0m-53 27.2h0m-18-28h0m84 24.5h0m-56-21.3h0m54.4 29.5h0m-28.1-4.1h0m-5.9-25.6h0m-19.2 26.1h0m13.6-27h0m10.9 28.1h0m-59.2-1.7h0m87-33.7h0m-45.5 35h0m10.7-29.7h0m-20.3 29.8h0m-37.9-2.5h0m90.6-1.7h0m-2.2 3.3h0m0.5-28.8h0m-86.8 28.3h0m5.2-28.8h0m52-0.7h0m-20.3 2.6h0m-24.1 26h0m74.8 2.1h0m-69.6-28.4h0m18.4 28.3h0m-33-28.4h0m35 26.9h0m54-1.7h0m0-33.6h0m-31.5 34.7h0m-44.1-0.3h0m12.8 0.4h0m34.4-28.3h0m12.5 3.8h0m-19.3-4.1h0m30.3 33.4h0m-91.5-29.8h0m91.4-0.9h0m-68.4 28.1h0m53.3-28.9h0m-38.6-1.3h0m-7.3 0.9h0m29.2 2.3h0m26.1 0.9h0m-15.5-1.6h0m-11.5 25.7h0m-6.9-26.8h0m30.3 1.4h0m-34.6 1.1h0m39.7-3.9h0m-7.5 4.2h0m-18.7-0.1h0m6.5 24.4h0m-38.8-26.2h0m-11.3-1.7h0m61.3 4h0m-3-0.4h0m-29-2.7h0m29.8 28.3h0m-58.2-28.7h0m77 33.7h0m-45.6-7.6h0m-39-26.8h0m63.9 32.5h0m-48-2.7h0m-19.4-1h0m84 3.5h0m-26-4.6h0m7.9-27.3h0m-19.5 26h0m-35.3-26.5h0m49.4 1.1h0m26.7 24.3h0m-69.1-25.3h0m67.4 2h0m-77-0.4h0m66.3 0.2h0m-34.4 24.9h0m-21.3 1.3h0m25.3-1.4h0m2.9-0.3h0m25.8-0.9h0m2.2-21.8h0m-78.8 26.2h0m16.4-2.5h0m31.3-0.7h0m43-24.7h0m-13.8 23.2h0m-56.9-24.2h0m48.8-1.3h0m-44.5 30h0m61.3-2.8h0m-42.4 1.3h0m-30.6-27.4h0m80.4 30.3h0m-6.3-29.7h0m-37.3 28.2h0m30.2-3.3h0m-15.1-24.4h0m-68.5-0.7h0m71.1 28h0m24.5-26.9h0m-42.8 25.4h0m6-1.2h0m31.4-25.6h0m-18 2.5h0m15.8-6.4h0m-8-0.4h0m0.3 32.4h0m1.9 3.5h0m6.3-4.3h0m-34.9-27.6h0m-52.6 0.6h0m77.2-0.9h0m16.7-0.4h0m-1.7 4.2h0m-26 26h0m-45.6-29.9h0m64.5-6.3h0m-39.5 7.9h0m20.3 29.7h0m9.1-27.4h0m20.5-3.8h0m-5.8-0.4h0m-37.9 27.4h0m39.9-26.7h0m-17.2 30.5h0m-51.6-30h0m73.6-8.5h0m-1 32.2h0m-52.3 2.8h0m51.2-1.8h0m-68.5 1.9h0m54.5-30.6h0m-0.6 28.8h0m-81-26.1h0m91.4-1.5h0m-60.1 28.8h0m41.2-23h0m-2.8-4.7h0m-4.6-1.1h0m30.1 0.7h0m-69 3.1h0m27.2-2.4h0m-9.1 1.8h0m50.1 30.5h0m-76.4-3.2h0m20.6-26.5h0m-38.4 25.2h0m62.7-24.8h0m16.2 24.7h0m-49.9-25.8h0m68.6 32.9h0m-54.1-33h0m-24-1.6h0m56.8 27.3h0m-37.4 0.2h0m55.5 5.4h0m-15.2 1h0m8.6-38.4h0m-27.1 8.1h0m9.6-1.2h0m-39.1 27.7h0m47.1-0.4h0m10.3 0.1h0m-72.7-29.2h0m25.3 27.3h0m16.6 2.2h0m-11.4-0.5h0m26-1.9h0m-68.6-24.9h0m37.6-1.4h0m36.2 24.8h0m0.3-23.3h0m-24.6-2.8h0m27.1-0.9h0m-53.3 1.4h0m64.2 29h0m4-4.1h0m-25.6 4.6h0m-59.9-27.2h0m68.8 31.3h0m13.3-6.7h0m-49.8-24.2h0m5.7 24.5h0m-1.8-0.1h0m-4.1-26.4h0m24 29.4h0m25.8 3.3h0m-88.7-5.3h0m42.1-1h0m14-0.7h0m31.5 0.3h0m-88.1 3.1h0m36.2-30.6h0m-12.2 28.9h0m42.6-27.6h0m2.7 26.9h0m-31 0.4h0m-10.1 0h0m44.2-1h0m-31.4-0.7h0m-11.7 2.9h0m59.6 7.2h0m-68.1-34.3h0m35.8-2.6h0m-58.4 27.8h0m70.3-0.7h0m2.4-26.1h0m-59.3 27.6h0m77.9-23.6h0m-63.2-4.3h0m26.4 29.1h0m-29.6-2.4h0m22.7 1.2h0m-46.5-25.8h0m84.5 24.7h0m-5.4-28h0m-0.9 26.7h0m-14.5-23.1h0m10.8-3.4h0m-64.2 29h0m26.8-1.2h0m2.6-26.2h0m14.7 2.2h0m32.9 0.6h0m5.1 22.9h0m-47.2 3h0m48.3-4.5h0m2-20.8h0m-7.7 22.6h0m-17.2-1.2h0m20.5 1.3h0m-13.4-30.7h0m-27.7 7.1h0m42.8 30.8h0m-68.3-34.1h0m62.3-4.8h0m3.8 3.2h0m5.3 0.5h0m-27.3 3.1h0m10.2-3.7h0m-50.9 31.6h0m58.8-2.7h0m-77.6-0.3h0m62 0.1h0m-66.8-25.7h0m52.5 26h0m16.6 4.9h0m-23.3-31.3h0m0.1 0h0m31.1 33.3h0m-9.2-30.2h0m7.4 30.4h0m-27-9h0m-52.5-24.1h0m77.2-0.6h0m-32.6 0h0m20.4 2.2h0m19.8 28.1h0m-43.3-2.8h0m3-2h0m-15.8-26.2h0m-24.9 0.5h0m82.1-2.9h0m-30.1 4.2h0m12.6 26.5h0m22.5-34.3h0m-42.4 34.9h0m41.8 7.6h0m-0.9-34.9h0m4.2 25h0m-17.8-23.2h0m-14.8 24.8h0m-38.9 0h0m49.8-26.9h0m21.9 30.8h0m-5.8-29h0m-23.2 26.7h0m-37.3-2h0m58.8 1.9h0m-10-26.8h0m-73.6 26.9h0m10.9-28.7h0m80.3-0.6h0m-51.6 28.8h0m5.8-26.2h0m-35.6 24.2h0m-10 1.2h0m89.9 2h0m-18.2-3.4h0m17.5-0.5h0m-45.1 0.1h0m-19.7 1.3h0m62.4-25.2h0m-20.5 26.5h0m-9.3-25.7h0m34.2 30.2h0m-52.4-7.4h0m16.2-23h0m-15.6-0.3h0m45.7 21.5h0m3.3 8.1h0m-49.8-3.4h0m15.7-28.8h0m-6.8 3h0m45.1 25.2h0m-82-27.9h0m57.9 0.9h0m-23 26.1h0m-1-25.2h0m-22.7 23.8h0m65.6-0.5h0m-81.3 4h0m71.3 0.3h0m-26.2-26.9h0m26.6 27.3h0m-56.5-30.2h0m-4.6-0.4h0m50.7 31.1h0m-39-3.4h0m-2.9-0.3h0m19.9-0.9h0m-12.5 1.7h0m44.7-27.2h0m-43.7 25.7h0m16.3-23.1h0m8.1 23.9h0m69.1 6.1h0m-13.4 3.9h0m21.7 4.1h0m-17.8-16.9h0m-8.4 12.2h0m10.5-9.3h0m16.1-19.5h0m-2.5 23.2h0m-34-4h0m-5.8-1.8h0m24.5 12.2h0m0.7 0.6h0m8.8-33.6h0m14.2-4.8h0m-16.1 25h0m10.1-3.7h0m-16.4 2.2h0m12.3-26.1h0m-34 6.1h0m43.6 22h0m-29.4-0.7h0m16.6-24.9h0m-28.1 1.9h0m-5.8 29.6h0m23.4 2.7h0m15.4-29.7h0m-38.8 20.6h0m7.5-21.7h0m33 17.8h0m-18.6-24.5h0m-10.3 7.8h0m33.5 35.4h0m-33-49.4h0m5.3 34.2h0m5.7 7.6h0m5.5-28.3h0m5.5 0.2h0m-12.6 31.5h0m21.6-32.6h0m-22.5-2.8h0m-3.3 3.3h0m15.6 18.8h0m-20.3 12.2h0m13.6-31.7h0m12.2 37.8h0m-15.6 2h0m18.2-14.6h0m-24.4-35.2h0m-10.6 39.4h0m4-6.1h0m28.2-20.4h0m-19.4-15.4h0m12.1-5.6h0m14.5 16.2h0m-42.8-2.7h0m4.6 6.5h0m7-8.3h0m20.9-8.4h0m8.2 2.9h0m-15.6 14.1h0m16.5-17.4h0m-44.4 41.2h0m13 10.6h0m-10.8-7.7h0m24.2-9.6h0m-6.3 2.1h0m-4.7 4.9h0m18.7-7.1h0m-12.3-23.8h0m14.2 1.2h0m-29.6-8.3h0m37.9 31h0m-15.5 16.6h0m0.8-12.5h0m-15.4-26.3h0m16.8 40.9h0m-6.6-14.1h0m7.3 4.7h0m-31.3-29.8h0m26-2.9h0m-24.1 26.6h0m-0.9 10.3h0m39.3-43.4h0m-18.5 3.2h0m-14.9 4.1h0m22.1 27.4h0m18.2-38.5h0m-3.1 20.3h0m-21.5-2.6h0m22.1-3.5h0m-24.3-5.2h0m21 37h0m-3.7-6.8h0m-7.7-32.9h0m-10.8 33.6h0m-15.4-23.9h0m31.7 22.7h0m-5.7-20.7h0m15.4-2.1h0m-23.9 23.9h0m-11.5 4.2h0m20-29.9h0m-30.2 0.7h0m4.5 0.9h0m21.1 26.5h0m14-7h0m-3.3 4.3h0m8.7 6.4h0m-8.1-38.6h0m-31.2 9.1h0m20.3 1.5h0m9.3-0.6h0m-25.4 30.1h0m37-6.7h0m-2.5-2.9h0m-44.3-23.8h0m35.2 23.8h0m-5.1-31.6h0m6.9-7.6h0m-9.8 43h0m9.7-6.4h0m-14-21.7h0m6.7 34h0m4-32.5h0m14.3 16.9h0m-36.7-15.1h0m-7.3 19.7h0m30.1-2.9h0m-30-26.9h0m4 36.7h0m33.6 10.9h0m-11.8-48.1h0m17.7 29.4h0m-0.5-16.6h0m-4.8-4.5h0m-17.2 38.2h0m20.8-49.8h0m-13.7 14.1h0m-12.5-0.4h0m-4.6 24.7h0m-4.9-1.8h0m25.9 2.8h0m6.5-1.7h0m4.1-30.4h0m-37.9 2.7h0m-1.4 23.1h0m34.6 19.9h0m-17.1-13.2h0m-20-4.1h0m32.3-31.9h0m-36.4 32.3h0m37.7-5.5h0m-21-21.7h0m-7.6 25.5h0m38.2-2h0m-26.9-26.6h0m10.2 2.2h0m-1.1 23.2h0m-23.3-20.8h0m28.4 30.4h0m9.8-4.7h0m-39-24.5h0m85.9 1.8h0m-0.1-5.9h0m-2 24.1h0m-21.9-5.6h0m17.7-28.9h0m-6.4 39.1h0m-6-4.7h0m-2 4.8h0m21.7-26.3h0m-1.4 22.2h0m-25.6-26.2h0m1.7 5.9h0m11.7 20.7h0m-29.8-26.6h0m41.1 24.6h0m-38.1-16.9h0m32.1 19.2h0m-23.9-5.3h0m1.3-13.4h0m19.2-10.1h0m-7.9 8.7h0m18.8 15.9h0m-43.5 3.4h0m17.1-2.4h0m21 6.5h0m-3.7-20.3h0m9.4 11.3h0m-42.1-20.2h0m45.2 20.8h0m-42-18.3h0m26.2 29.3h0m-15.3-5.5h0m20.2-7.4h0m-5.8 0.3h0m12.1-18.9h0m-34.8 27.5h0m18-19.3h0m14.9 6.8h0m1.3-3.1h0m-30.7-16.1h0m-1 13.9h0m4.8-6.7h0m26.1 1.1h0m-4.7 8.6h0m-34.2-5.7h0m15.7 14h0m-8.9 0.1h0m-6.5-12.8h0m45 20.4h0m-36.4-6.3h0m8.6 0.4h0m-18.5-17h0m29.6 15.9h0m8.7 11.8h0m-13.3-5.7h0m19.4-17h0m-4.9 5.3h0m-24.7 20.8h0m-12.6 0.2h0m0.6-27.1h0m0.4 30.2h0m7.4 6.5h0m35.1-26.3h0m-22.1 4.9h0m34.5-13.5h0m26-5.1h0m-3 17.7h0m31.8 22.3h0m-46.7-23.6h0m49.2-8.8h0m-39.6 2.1h0m17.1-4h0m17.1-24.8h0m-57.1 26.1h0m49.8 20.6h0m-17-4.8h0m1.1-19.3h0m-8.6 4.4h0m25.5 9.5h0m14.4-19.7h0m-35.4-4h0m15.7 28.9h0m-38.7-2h0m10.8-21.5h0m-0.4 16.2h0m6-20.3h0m-5.6 14.7h0m24.6-3.8h0m25.1-8h0m-41.3-0.4h0m21.9 5.4h0m-50 12.5h0m-0.3-5.2h0m50.8 3.4h0m6.5 3.3h0m-52.9-13h0m51.4 20.7h0m5.3-12.5h0m1.1-2.8h0m-535.7-88.1h0m2.4-1.6h0m2.2-1.5h0m1.6-1.1h0m2.3-1.6h0m1.6-1.1h0m1.4-1h0m2.7-1.8h0m1.4-1h0m2.6-1.8h0m2.2-1.5h0m1.7-1.2h0m2.4-1.6h0m2-1.4h0m2.7-1.8h0m1.6-1.1h0m-30.9 43.7h0m2.5-1.7h0m1.5-1h0m1.6-1.1h0m2.8-1.9h0m2.8-2h0m1.7-1.1h0m1.5-1h0m3.3-2.4h0m1.6-1h0m1.6-1.1h0m2.9-2h0m2.1-1.4h0m2.4-1.7h0m2.4-1.6h0m1.7-1.2h0m2.1-1.4h0m1.6-1.2h0m-35.8 44.9h0m2-1.4h0m2.5-1.6h0m2.5-1.8h0m1.6-1.1h0m2.5-1.7h0m3-2h0m1.7-1.3h0m2.1-1.3h0m3.1-2.2h0m2.1-1.4h0m2.2-1.6h0m3.2-2.1h0m1.6-1.1h0m1.8-1.3h0m2.7-1.9h0m2.2-1.5h0m2.7-1.8h0m2.5-1.7h0m2-1.4h0m2.4-1.6h0m2.1-1.5h0m2.3-1.6h0m2.1-1.4h0m2.3-1.6h0m2.4-1.6h0m-57.8 55.5h0m2.3-1.6h0m2.9-2h0m1.7-1.2h0m2.9-1.9h0m1.6-1.2h0m3.6-2.4h0m1.9-1.3h0m2.1-1.4h0m2.6-1.9h0m2.8-1.9h0m2-1.3h0m2.5-1.8h0m2.8-1.9h0m2.6-1.8h0m2-1.3h0m2.8-2h0m3.3-2.2h0m-41.9 39.5h0m1.8-1.2h0m3.1-2.2h0m1.8-1.2h0m3.1-2.1h0m2.5-1.7h0m2.4-1.7h0m2.5-1.7h0m3.3-2.3h0m2.2-1.5h0m3.1-2.1h0m1.7-1.2h0m2.3-1.6h0m3-2h0m2.9-2h0m2.1-1.5h0m-38.1 39.2h0m2.9-2h0m1.9-1.3h0m3-2h0m1.8-1.3h0m2.7-1.9h0m3.3-2.2h0m1.7-1.2h0m4.2-2.9h0m1.3-0.8h0m2.5-1.8h0m3.1-2.1h0m-28.7 108.4h0m2 1.4h0m1.5 1h0m1.5 1.1h0m2.4 1.7h0m1.9 1.2h0m1.6 1.1h0m1.2 0.9h0m2.2 1.4h0m1.5 1.1h0m2.2 1.5h0m1.8 1.2h0m1.6 1.1h0m1.8 1.3h0m2.2 1.5h0m1.6 1h0m-27-41.2h0m2.6 1.8h0m2.4 1.6h0m1.8 1.3h0m2.5 1.7h0m2 1.3h0m2.3 1.7h0m3.1 2.1h0m1.9 1.3h0m2 1.4h0m2.9 1.9h0m1.9 1.4h0m1.8 1.2h0m2 1.3h0m2.7 1.9h0m2.3 1.6h0m2.2 1.5h0m3.2 2.2h0m1.4 0.9h0m3.3 2.3h0m2 1.4h0m1.6 1.1h0m-48-52.8h0m2.6 1.7h0m2.9 2h0m2.9 2h0m2.9 2h0m1.4 1h0m3 2h0m2.5 1.8h0m2.8 1.9h0m2 1.4h0m3.1 2h0m2.6 1.9h0m2.8 1.9h0m2.3 1.5h0m-33.4-37.1h0m2.4 1.7h0m1.9 1.3h0m3.5 2.4h0m2.2 1.5h0m3 2h0m2.5 1.8h0m2.3 1.5h0m3.4 2.4h0m2.4 1.6h0m2.4 1.7h0m2.4 1.6h0"/>
<path fill="none" stroke="none" marker-start="url(#mb)" marker-mid="url(#mb)" marker-end="url(#mb)" d="M1088 628.2l-18.3-1.2l-64.8-37.5l-86.5-18.6l217.9 53.3l-97.8-53.3l70 24.5l-147-33.5l139.5-33.1l20.7 85.3l-135.3-44l160.9-22.9l48.5 12.3l-239.5 16.2l-15.1 0.2l144.3 17.7l-107.7 14.9l206.2-42.5l-240.6 43.5l268.9 9.6l-239.6-40.6l137.4 9.4l-175.3-11.2l284.5 57.3l-42.7-50l-185.3-1.5l41.9 33.2l-46.3-7.2l54.3-51.5l-85.7 48.2l121.6-25.1l-82.8-3.8l-30.7 0.3l13.5-5.1l196.2 54.8l-45.7-64.3l1.4 6.4l-120.1 41.9l134.3-33.1l-171.1 21l239.8-11.7l-234.9 7.3l31.1 6.7l-8.3-4l49.9 27.4l83.9-53.4l-122.5 2l-0.3-6.4l214.7 63.8l-282.6-69.9l-38.2 10l31.2 9l267.4 17.3l4.8-28.7l-225.7-11.4l-44.5 1.8l19.6 1.8l59.6 56.4l50.2-26l-66-0.3l-11.9-16l67.4-8.4l-59.9 21.6l27.3-26l128.7 6.4l88.7-4.4l-39.1 9l-285.6-30.7l214.8 92l2.6-26.1l-28.7-10.3l-108.9 24.1l29.3-55l142.7 3.1l-276.1-33.7l45.3 56.3l51.4-27l98.1-1l77.9 41.3l-172.4 7.2l125.1-2.9l112.6-28.6l-234.3 17.6l92.9-25.8l60 19.4l-128.3 30.7l-71.6-13.4l272.1 32.9l-291.8-91.3l172.6-9.2l-34.8 69.9l-16.1-38.1l122.9 17.1l-28.4 27l46.9-41.1l-122.5 6.4l-125.6 2.5l110.2-16.9l129.4 41.8l60.5-8.3l-264.4 16.8l138-29.8l-60.2 43.4l106.3-64.2l-217.5-14.7l-69.3 14.8l238.3 38.1l50.8 30.3l-163.5-43.6l-25.1 31.4l23.5-56.8l187.4 53.2l14.1-28.5l5.2-15.2l-7.2 12.9l43.9 26.7l-296.1-91.8l48.2 55.9l56.6-43l58.5 30.1l43.9-0.4l-11.6 7.2l-34.4 40.2l11.1 13.5l48.5-13.6l-100-31.1l-41.6-10.8l-45.5-15l12.2 56.8l234.2-22.8l13.6-7.8l-46 16.2l-237.9-39.6l191.7-1.5l51.5 56.7l-186-22.8l-25.9 14l201.4-42l-99 10.4l-119.8 37.1l227.9-44.1l-243.9 13.1l141.7-15.9l-69.3 50.2l-14.8-39l158.8 4.2l-220 3l303.9 33.5l-225.2-15.5l172.9-33.9l-210-1l88.9 6.7l81.5 4.7l-216.4-8.9l25.8 36.2l-14.8 5.4l44.8 13.4l-12.2-63.1l145.3 68.4l-82.1-63.2l93.9-8.3l-86.2 10.8l146.8 26.6l-218.7-12.4l36.1 23.3l273-48l-365.4 15l199.4 19.2l65.9 14.1l-219.3-37.1l192.9 56.1l-8.4-18l-205.8-58.2l215.2 36.5l17.3 21.9l-103-41.3l-83.3 24.1l4.8 19.7l196.7-32.6l-215.4 22l92.6 22.5l116.8-33.5l-326.1-41.8l368.4 56.8l-55.9 9.2l-240-60.5l190.4 29.3l-188.3 27.2l233.7-16.3l-226.5 1.9l34.5-20.2l64.3 32.8l67.4 17.6l-54.1-60.7l4.3 25.9l5 17.3l-27.6-21.6l-26.4 42.1l71.2 0l-46.4-76.7l19.5 55.1l175 26.1l-198.7-27l133.6 27.4l-130.4-13.2l-40.8-39.2l219.6 19.4l-116.6 40.1l106.3-9.2l-47.7-75l-160.8 21.1l195.6 40.9l-264.9-11.7l161.2-57.1l27.3 78l-54.2-97.2l104.1 81.3l-111.8 18.3l117-50.8l-85.1-17.6l49.5-5.4l-250.8-22.8l296.9 89.4l-0.7 4.2l-247.3-61.9l268.1-3.3l-39.7 25.2l-108.9 34.9l-64.9-14.7l164.8 18.7l-120.3-68.8l145.3 78.3l-82.1-83.5l-152.3 32.5l156.9-6.4l-147.1-6.6l26 19.3l140.8 49.7l42.1-24.9l-58.4-24.3l98-13.5l-64.4-18.9l-72.1 2.5l-94.1 35l253 43.1l-122.1-67.9l-43.5-32.8l-149.5 52.8l17-23.7l97.1 0.9l47.4 1.9l-111.8 13l-6.1 34.3l-50.9-73.8l180 91.8l-121.9-60.1l-13.6 2.5l88.3 7.2l-146.5-54.5l314.1-14.2l-89.2 81.6l-81.2 17.8l8.5 13l-100.1-63.5l233.6 5.8l-133.9 9.4l35.2 45.3l-118.7-75.5l144.5 20.4l9.1-0.2l-164.8 13.2l61.3-7.8l109.2-27.1l-119.5 6.7l136.2 10.8l-156.9 35.4l163.7 7.6l51.7-21.3l-157.6-17.4l194.2 64.6l-240.9-8.6l58.9-60.4l126.9 63.9l-197.3-24.3l194.6-8.6l-94.2 41.3l91.3-36.9l-33.4 4.6l-54.6-6.3l30.4 35.1l68.7-13.8l-214.3-13.4l68.6-19.9l24.9-34.7l34.2 16.5l96.2 45.7l-173.3-63.9l-2.3 41.1l209 12.8l-282.2-7l7 13.9l282.4 15.6l-120-66l81.8 65.6l-10.1-57.5l-197.6 35.5l188.6 3.5l39.7-8.1l-188.4-49.1l-14 52.4l191.3-16.1l-217.8-37.6l128.6 72l-58.3-20.4l126.8 10l-69.2 7.1l-117.8-41.3l91.3 31.5l-61.8-0.6l67.1-56.7l-180.8 19.9l28.3-27.9l-23.7 59.1l166.1 9.2l139.9-0.4l-62.5 27.4l-199.7-46.8l252.1 32.2l-167-0.6l117.6-54.7l81.6 33.8l-296.3-1.3l228.4-7.2l13.6 4.7l-188.7 26.7l27-82.6l167.3 73.4l-134.8 19l-90.3-25.2l232.8-40.1l-270 24.3l7.2-23l279.4 31.7l-165.5-44.2l19.4 4.5l73.9 55.5l-194.5-9l94.6 7.6l-21-32l-82.8-11.7l8.4 9.7l157-8.2l111.5 53.6l-91.4-72.5l-75.1 51.3l27.8-36.5l-38.4 60.7l-123.1-26.8l61.9-39.9l-64.5 25.5l287.7 17.8l-186.4-28l-20.9-31l188.7 49.2l-116.2 39.9l-54.7-12.1l-0.7-74.5l-95 7.6l-4.9 17.8l299.6-2.9l-225.8-16.2l123.5 42.9l93.7-14.6l-91.6-30.5l-126.3 59l130.6-7.3l4.9 33.4l-99.8-60.2l-48.9 43.5l254.9-13.7l-297.1-52.6l-11.7 10.4l102.4 23.3l-78.6-12l287.9 28.7l-171.2 1.4l-77.6-19.4l-12.5 6.9l150.6 8.8l-188.2-32l240.8-11.7l-126.1 36.2l51.4 14.5l-114.9-70.2l41.8 6.1l-100.5 0.2l64.9 31.4l8.7 6.6l-55.7-26.8l112.5 60.6l-116.9-7.1l127.1-5.8l32.8 21.1l-69.1-3.1l24-30.6l-78-50.4l88.1 30.7l-89.4-4.7l95.2-18.2l-136.9 3.4l42.4 9.6l42.8-7.4l58.1 2.2l-97.7-3l100.8 41.4l-100.3-13l206.3-23.6l-99.4-10.1l-95.9 47.5l57.6-42.7l-153.3-29.7l159 66.7l77.9-21.6l52.6 50.2l-36.4-4.1l-78-46.7l149.4 55.4l-209.6-43.5l-98.1 7.5l309.8 18.5l-112-40.7l-7.2 71.8l-111.1-92.5l30.7 42.3l-71.2-33l66.3 27.4l-61.2 8.4l111.9-18.1l-120.1 33.1l268.4 26.8l-224.9-21.9l105.2-9.2l-26.6 10.5l123.7 16l-223.5-16.2l49.4-5.8l29-28.6l111.2 44.4l-47.7-1.4l-164.5-12.4l91.4-12.9l-45-59.8l-20.5 79.8l52.8-54.4l-59.9 16.6l248 22.3l-141.9-13.2l-85.8-9.7l16.4 21.7l258.9 28.8l-78.7 0.9l-76.2-37.2l-165.8-24.5l128.1 27.1l3.6-13.2l27.2 34l26.2-31.1l87.4 53.2l-74-34.4l-134-56.9l-33.2 65.4l98.7-46.6l10 8.8l-72-2.8l64.6-3.1l148.8 67.5l-189.1-73.1l165.7 19.2l-246.3 32.1l126.1-14l77.1 32.4l-197.2-51.2l163.3 53.3l16.9-31.9l-7.7-26.2l-99 15.7l149.6 3.4l-179.8-1.3l-23.6-14.8l32.2-22.7l216.9 24.4l-274.2 27.7l75.9-17.9l17 4l57.5-27.7l81.1 52.8l-79.1-36.9l69.9-17.5l-133 22.3l37.5-0.9l-64.4 36l14.2-72.5l34.1-0.3l0.7 58.3l-129.6-12.1l142.4 15.8l6.8-47.5l-134-10.1l-66.6 1.7l133.5 41.7l167.2-26.1l-16.5 41l-191.4 5.8l159.6-31.6l-203.5-25.2l191.1 57.9l113.6-13.9l-187.2-46.9l-92.7-4.3l109.7 25.2l-31.4 44.3l133.4-11.5l-148.4 13.1l133.3-29.4l-192.2-11.4l208.8-21.1l45.8 36.5l-105.7-18l-67.9 43.6l11.4-15.2l-2.4-50.8l61.8-10.1l-149.4 5.2l223.8 42.2l-77.2 30.5l1.4-33.1l23.6-18l-40.5 15l26.9-41.9l92.7 69.1l-145.4 10.3l-151.1-46.7l135.6-4.6l-40.8 51.5l174.5-49.1l2 14.3l-226.5-40.5l195.8 38.4l-179.4-40.7l137.7 61.1l-111-29.8l-82.1-15.3l139.2 31.9l-120.8-37.1l-10.4 11.6l183.7 31l-34.2-4.9l86.4-67.4l-192 44.3l-71.8-18.1l206.3 3.7l52.6 19.5l117.9 44.1l-359-26.6l179.2 30.5l-39-119.6l-95.7 63.9l177.1 45.9l17 12.6l-53.3-76.3l-154.9 39.4l246.9-46.3l-36.9 81.9l-159.3-48.6l143.2 4.8l73.7 0.6l-290.2-15.2l93.7 24.8l80.7-15.6l99.8 23l-265.1-46l90.1 62.1l203.1-51.9l-188.6 35.3l-51.5 7.8l191.9-1.7l-246.2-62.6l32.4 12.6l29.6 3.3l6 6.5l216.3 19.5l71 28.2l-280.3-5.2l-136.2-52.3l341.9 47.4l-250.1-6.9l237.6-4.4l-79.1-1.5l-144.8-28.3l197.2 29.6l-136.6 17.3l140.9-3.8l9.9-10.5l-216.2 2.2l78.2-38.2l-72.7 37.1l15.9 8.9l227.9-24.2l-114.9-19.5l8.2 15.9l33.9 23.5l-99.3 1.8l53.1 3.4l-191.1-17l192.2 23.4l39.2 4.6l-51-54.6l-92.8 18.8l51.7-15.1l-128.1 22.7l28.9-56.4l152.5 84.4l91.5-15.3l-201.8 1.6l3.3-8.9l150.8 16.3l-256.2-58.1l57.5 57.2l229.3 0.8l-186.5-10.1l156-14.7l-162.9-6.8l115.3 22.1l14.9 32.4l-107.2-85.4l-83.1 38.5l338.4 25.6l-341.5-47.4l32.1-61.2l54.5 57.2l141.9 35.4l-214.1 13.9l21.3-47.5l187.5 8.6l-41.2 43.8l-12.1-64.4l-72.4-0.1l-70.4 64.5l53.7-74.3l111 9.3l-128 1.6l228.9 42.1l-297.8 1.3l179.3-43.5l32.9 41.2l-37.9-6.7l100.4 5.3l-157.2 37.4l172.8-19.7l-215.4-20l-51.2-18.1l271 10.5l7.2-4l-113.5 36.3l12.4-38.7l8.7 41.9l-212.8-69l208.8 72.7l-204.9-52.4l27.6 24.4l187.9 39l-220.7-49l-53.7-39.7l294.9 17.7l-179.8 54.8l111.3-117.6l90.5 133.7l54.3-43.2l-292.6-21.8l279.1 34.8l-256.6-33.5l28 17l71.3-19.5l-55.5 35.4l196.9-17.9l-136.7-31.1l87.2 32.5l-213.2-21.6l128.5 10l14.8-21.5l11.8 16.4l-142.4-2l52.1-21.7l66 1.7l38.9 63l-101.8-54.8l64.1 31.9l-22.4 0.5l102.9-12.1l-112.9-25.7l-50.8 25.1l-29.4-26l-0.4 9.9l21.1 62.9l81.3-3.5l-136.7-24l340.5 0.7l-101 28.3l-66.9 2.6l32.5-62.6l150 35.9l-188.4-26.4l-125.5 4.6l260.4 44.9l-39.4-68.3l-44.6 72.3l48.9-49.5l-124.1-8.3l-46.3 47.9l72.7-24.8l-1.6 22.5l-156.2-34.3l110.8 32.4l42.9-75.6l38.9 73l54.9 7.8l-165.7-22l-97.9-18.3l141.8 18.9l139.2-29.3l-203.8-17.6l239.5 42.4l45 20.3l-277.7-5.6l203.6-35l-63.8 34.5l-214.6-40l121.1 33.2l172.2 1.8l-66.6 8l-136.7-53.5l77.9 6.1l-51.4 6.7l-106.3 5.5l189.5 6.3l-130.1-42.3l126.4 58.4l-137.9-51.4l143.8 60.3l3.3 18.5l15.4-11.6l-103.9-38.6l-55.5-14.6l42.6-8.3l-22.6 17.4l-21.3-38.5l167.2 98.6l-70.3-57.1l115.8 61l-79-31.1l-143.5-42.4l148.5 58.4l-99.5-60.8l148.8 65.7l-250.1-71.2l137.7 14.7l-98.4-40.6l-39.1 35.5l71.9 41.3l70.6 1.2l-104.1-39.9l174.8 24.3l-51.9 9.8l-88-43.7l142 69.7l-123.7-35.5l-53.2-8.7l-3.4 32.7l212.4-128.1l-44.2 103.2l-149.9-42l-58.9 52.7l31.6-11.1l266.9 37.8l-257.4-61.5l130.8 25.9l111.1 37.8l26.4-2.9l-219.6-65.4l-106.1-0.3l12.2-17.4l209.7 65l16.9 17.2l9.1 9.1l-169.5-53.5l208.9 57.6l-1.6-10.6l-15.3-10.4l54.4-27.9l-242.3 19.1l137.5-2l-119.6-7.5l-13.8 2l-16.2-28.7l224.9 50.5l-107.9-6.5l86-12.7l-136.1-84.4l-115.1 45.1l164 14.8l-7.2 31.7l-68.7-17.5l119-22.4l-173.8-4.9l213.3 73.7l-186.8-48l59-1.1l33.8 31.3l-46.8-25.2l130.7-13.2l41.1-3.1l-192.4-10.8l163.1 13.4l-122.2 24.3l53.3-20.9l-58.3 23.6l47.5-39.8l-20.9 46.9l-19.7-75.3l169.6 42.5l-249 34.9l-25-34.4l246.5 27.2l-144-20.3l0.8-35.9l75.7 16.8l34.4 19.9l-78.4-8.7l-85.7-4.7l-63.2-23.3l60.9 67.5l184.2-41.5l-113.2 18.3l-72.1 7.3l-1.8-92.5l101.3 30.7l-132.3 4.6l33.5-2.9l7.3 78.2l197.4-56.6l-21.6 34.2l-167-27.1l26.6 53.7l159.5 3l-246-77.7l281.5 63.7l52.9-25.3l-242 16.1l109.5 4.2l51.9 25l17.4-36.4l-133.7-43.4l-65.4 27l266.1 44.3l-381.4-43.8l-22.1-35l18.9 25.9l171.5 10.1l103.1-8.1l-128.6 16.7l30.9-19l18.8 49l-21.4-15.9l-2.6-50.2l204.9 48.7l-267.1-14.8l91.2 25.8l-61.6-70.3l66.4 34l31.8-54.1l-131.8 93.9l151.5-32.3l56.7 35.1l-131.1-29.6l-16.9 35.7l106.9-20.9l15.6-21.8l-118.7-27.2l22.8 41.4l9.2-4.6l-3.1-5.7l-43.8-1.3l-162.7-47.8l120 3.4l153.4 25.8l-23.1 0.4l-201.9 17.1l76.6-36.8l-66.6 15.8l9.9-27.5l172.5 47.8l80.2 36.9l-55.9-73.2l-173.8 50.6l2.6-66.3l103.4 37.1l-130.4 8.6l22.5 0.5l62.1 40.4l-85.7-1.4l239.4-55.2l-310.4 2.6l167.2 14.8l14.2 28.2l151.4-24.4l-85.2 0.8l-182.7 17l247.8 28.4l57.5-19.5l-290.6-28.5l8.7-20l170.9 33.8l-187.4 6.6l216.4 11.1l-122-48l62.6 15.2l-226.9-62.4l202 46.8l118.8 63.5l-120.8-6.4l-53.3-6.9l-126.9-62.5l87.5 54l63.1-10.8l158.2-7.4l-15 25.7l-180.7-60.1l-79.9 0.3l241.8 26.9l-188.8 23.5l40.4-61.8l146.1 61.9l-57.5 20.1l-110-64.2l34.2-15.4l-111.7 49.6l223.5-6.6l-95.3 26.6l-65.3-65.6l-90.4 3.2l70.8-3.3l282.8 75.9l-92.2-11.5l-10.9 7.7l-101.6-47.1l-87-10.9l34 45.2l179.7 15.2l-121.4-60.1l-48.2 39.9l111.6 5.1l-60.1-43l97.9 25.2l-82.5-49.3l22.9 76.1l-32.7-57l-122.6 4.2l268.3 50.6l-142.7 6l-100.8-64.6l220.4 63.2l-245.2-11.7l62.3-45.5l-93.8 6.1l299.2 41.3l-137.8-34.6l-160.7-10.5l174 1l-183.3 14.3l48.4 11.8l181.9 30.1l-223.8-20.9l136.5-44.2l45.5 10.6l-194.2-17l277.7 48.2l-92.8-24.7l-138.4 32.1l8.6-50l243.2 66.8l-22.7 2.8l-250.7-53.9l-15.9-5.8l58.1-24l15 26.9l58.1-6.8l176.9 34.8l-27.5-3l21.3-36.3l-153.7 54.3l-54.3-27.4l148.8 39.6l-119.1-11.5l-50.2-31.6l199.1 47.9l-47.9-7.7l-66.9-66.2l0.9 56.6l29.8-40.6l-196 17.3l176.7-25.3l101.4 41.3l-272.4-14.1l228.8-30.5l128.4 56.6l-211.2-53.6l41.6 61.3l-92.5-16.3l91.5-36.8l-82.2 10.1l75.8 4.3l-86.7 35.4l104.1-55.2l61 11.1l-140.4-28.3l30.2 67.6l125.9-49.4l-38.5 20.4l-130.6 11.6l94.6-40.5l-144.2-4.7l-32.8 39.7l185.6 3.2l-152.4-9.6l228.7-13.5l-189.1 39.2l-89.7-19.9l92.4 1.4l-80.2-24.4l118.3-61.9l11 113.2l-54.6-59.7l-82.6 16.2l189.7 3l-34.8 7.2l-78.7 4.8l52.4 9.2l-23.8-11.1l27.2-6.7l127.8 25.6l-36.7-34.8l-212.7-22.6l172.2 28.8l-166.9 2.1l-23.5 6.4l206.8 29.9l21-43l-164.9 5.4l69.2-34.6l186.7 41.6l-191.3 35l-15.2-12.2l32.2-27.1l-51.3 28l-84.2-22.5l242.7-8.5l-100.2-102.9l148.8 151.6l-77.9-44l-51.6-43l98.4 24.4l-247 22.9l122.8-3.1l138.5 5.9l-125.8-16.9l144.8-0.3l-202.5-19.9l108 68.8l-72.4-52.6l165.9 39.4l-138.6-18.3l-44.8-18.5l-17.2 24.8l121 28.9l-83.9-33.7l-20.2-46.5l19.5 62.1l101.5-14.7l-16.7 24.6l-220.3-23l242.7-6.8l-139.5-48l17.2-1l144.6 91.8l-200-50.5l120.7-24.2l-122.1 28.8l125.8 28.6l-193.2-24.8l84.2-59.2l280.1 90.6l-115.3-81.1l18.5 28l-10.1 33.6l-58.1 12.8l-156.7-47.5l60.7-44l43.4 31.1l-169.2-14.8l214.8 92.2l63.3-27.6l-11.4-6.7l-41.9-24.5l61.4 7.6l-32.4 37.2l-113.7-6.7l160.9-30.6l-191.7-37.4l65.6 62.5l120.3-11.2l-280.6-2.2l256.5-4.7l49.7 41.8l-122.6-69l141.5 2.1l-259.2-6.8l317.3 54.7l-87.8-43.4l-98.1 45.6l-132.4-44.6l104.3-17.1l-128.7 31.3l113.8 43.3l121.8-29.6l1.3-11.6l-180 9.2l268.2 39.8l-230.5-55.7l79.8 26.6l-30.9-34.6l-73.4 10.4l-45-22.2l120.6 20.9l-43.7-11.6l44-31.4l28.9 24.3l16.7-48.8l0.2 60.1l-133.4-24.2l132.7 33.6l-22.5-15.9l111.9 46.1l-232.4 1.9l5-50.5l56 56.7l-55.9-58.4l115.8 35.5l2.1-34.3l-125.4-5l12.6-17.2l-9.9 46.3l-26.2 5.2l221.1 25.9l-66.3-75.9l-169.5 53l133.1-44l-45.9 3l122.9 43.2l10.8 26.8l-42.4-50.8l-187.9 10.7l305.4 41l-288.2-19.3l5.2 3.8l26.4-50.9l104.6 25.3l-87.6-44.5l79.2-23.3l119.9 64l-129.5 36.8l-50-48.4l76.9 30.9l-2 23.6l-117.4-17.5l8.9-30.5l88.8 59.2l97.5-9.1l-255.2-74.7l-11.9-0.7l127.9-4.9l9 37.9l111.9 47.9l-112.6-30.6l75.6 19.4l-84-95l80.8 48.7l-206.7-12.7l102.7 61.2l35.1-75.9l-151.2 3.2l385.1 4.5l-193 26.1l128.1-3.1l-145.6-24.7l-140.8 9.2l57.2 40.7l80.6-19.6l-71.1 7.1l149.5 24.8l-56.5-70l34.6-11.2l-22.2 81.4l-165.3-63.9l97.7 77.4l-19.4-39.4l65.8 37.3l45.7-1.1l91.3-56.8l-183.9 12.2l-91 22.3l73.4 0.1l-135.1-30.4l234.4 33.2l-121.3-30.6l-40.9 41.5l-9-68.1l153.9 48l-155.6-27.1l231.2 50.6l-32.6-13.9l7.2-19l-130.1 21.5l24.6 11.1l-145.6-54.8l224 28.3l-182.1-17l167.7 52.4l24.6-33l-241.5-41.7l160.1 17l183.2 40.9l-45.7 11.3l-84.4-69.7l7.1 7.5l-133.6-7.3l-113.9-20.6l234.8 35.4l110.2 7.5l-192.3 42.3l167-20.3l-284.5-11.5l61.9-27.3l-13.1 23.9l193.8-6.8l-230.6-9.3l211.4-0.1l-150.2 5.3l48 34.7l4-63.5l-73 21.8l82.9 25.4l-47 18.3l-2.4-13.7l57.2-41.9l161.1 56.1l-167.4-10.9l109.6-22.6l-50.5 41.4l-7.8-34.2l-48.3 24.6l-107.4 5.5l278.3-27.7l-72.7-11l65.7 26.9l-204.8-6.4l59.2-31.5l63.1 14.8l-1.4 21.5l-1.9-40.9l-101.5-9.8l-23.8 53.6l219.2-11.4l-227.7 30.1l-77.6-84.1l110.3 63.1l124.3 27.2l-30.8-57.5l0.8 12.5l31.4-7.3l-182.9 36.8l135.3-42.2l42.9 51.7l-130.6-96.8l72.6 60.6l60.8-32l-9.7-17.8l-52.4 54.6l-217-54.7l130.9 41.2l136.6 5.6l90.9 50.1l-59.3-63.6l-26.6 60.2l-198.2-65.9l-31.2 25l148.2-35.7l-62.6 42.6l57.3-36.5l139.7 44.4l28-35.6l-48 7l-100-15.7l10.7 61l-54.8-13.6l87-58.9l95.5 68.4l-190-37l-54.6-49.2l122.7 43.2l117.1 9.6l-44.8-1.6l-156.3-5.8l47.4 44.7l65.7-18.4l24.8-19l-114.2-30.8l19.6 38.6l-48.2 5.5l64.8-52.7l10.4 80.4l29.5-42.7l83.5-13.3l-314.6-36.3l184.6 53l-114.4-7.7l28.5 36.1l185.5 17.9l-19.1-28.6l28.1-29.3l-111 28.7l65.2 33.6l11.6-86.9l-206.7 26.2l22 6.3l43.6-27.5l147.1 69.3l13-24.4l-111.5 22.4l56.1-13.7l48.8 22l16.3-20.5l-92.5-36.2l-128.5-23.9l-21.4 40l141.9 43.6l-83.7-83.4l22.6 7.1l-20.4 61.6l112.6-69.9l-0.8 87.4l-55.7-54.5l82.2 20.4l72.6 21.3l-290.3-37.4l196.7-23.2l73.2 39.9l-136.3-2.2l141.1-25.6l16.1 2l-160.8 3.6l139.8-36l22.9 67.8l-79 22.3l57.8-51.4l-187.4 26.8l144.6-11l-139.9-17.6l22.9-35.4l197.2 58.3l-229.5 9.3l81-0.4l-64.2 2.4l184.8-3.3l-75.6-32.7l-31.3 42.6l105.2-43.4l-55.8 55.9l-148.7-58.8l-43.3 1.3l33.8 35.5l54-22.4l132.3-24.7l-202.3-2.3l47.1 10.3l102.8 40.9l-1.3 14.1l-184.6-56.7l66.9 22l99.9 1.1l100.1 0.3l-106.1-20.4l-154.8 3.9l246.4 0l-124.2 50.9l133.5 1.5l-214.7-41.4l4 30.4l-45.9-24.8l84.7-13l-50.2 0.8l34.6-13.6l-25.7 5.9l162.8 11.6l84.6 7.6l-215.9-16.2l-26.8 36.4l118.1 10.2l-45.1-32.4l47.7-27.4l-156 32.7l-67.9-57.8l69.6 46.3l64.8 34l33.1-76.3l-3.3 36.9l46.4-32.7l-171.7 14.2l223.3 64.1l48.9-40.7l-134.1-10.1l-5.4 22.1l155.1 38.3l-115.8-88.5l89.2 56.3l-138.8-12.4l56.9 10.2l-146.5-69.4l154 77.8l-154.1-20.3l132.7-48.4l-109.6 36.1l212 17l-218.2-25.9l-8.9 48.1l245-27.3l-248.4-32.3l-14.9 2.9l44.5 13.5l-5.1 18.3l263.4-3.1l-234.1-25.2l134.1 69.7l-178.2-71.7l0.3 1.8l182.3 46.3l-160.8-46l103.3 40.1l-62.6-7.4l85.7 19l-164.6-21.4l170.4 9.7l-39.8-27.1l14.2-27.5l140.2 49.1l-238-0.1l215 15.3l-212.1-30.6l-62.8-28.3l122.7 64.3l96.9-46.4l8.2 56.5l-203.7-63.4l109.7 42.2l-80.2-32.2l-53.4 25.7l304.1 22.9l-173.3-55.9l-114.3-0.7l129.9 12.4l-75-4.5l165.4 6.3l-129.3 23.8l74.2 11.2l33-55l32 48l-235.7-2.2l162.9 23.2l34.5-22.6l24.9 18.1l-210.1-10l55.7-48l72.3 58.9l37.7-43.6l58.7 43.8l3.3-31.9l-95 2.4l136.2 14.1l-118-2.2l-88.1 14.3l47.6-55.5l9.5 6.8l1.9 45.9l-37.4-5.3l10.3-9.9l75.7-56.9l84.4 69.3l-114.7-32.4l0.6-38.7l14.9 35l-160.1 22.5l21.7-22.6l333.5-20.9l-214-14.6l-162.6 8.1l82.8 70l45.6-44l6 1.9l57.5-44.7l-138.1 78.6l22-7.3l206.2 23.6l12.6-129.3l-140.3 93.4l-125.3 4.8l3-16.2l49.5-43l75.5 5.3l178.1 66.8l-152.1-40.7l-5.5 39.2l19.9-5.9l11.2-19.3l-2.2 30.6l-156.8-39.8l5.9 39l224.8-4.8l-27.9-12.7l-106-34.1l-47.1 54.9l210.1 5l-250.1-28.4l139 23l-57.9-49.5l139.8 38.9l-278.6-17.7l225 9.6l-112.6-2.9l9.9 15.6l-96.9-1.2l232.1-17.6l-196.2-38.3l71.9 26.6l91.7 51.7l-24.1-7.4l-114.8-15.7l-85.6-15l108.9 7.7l176.3-9.6l-116.3 9.1l-18.6-28.8l140.1 14.4l-206.2-31.6l169.2 24.7l58.3-7.6l-7.9 26.3l-206.5 6.2l-55.2-8.8l134.7 25.9l-119.7-52.8l192.7 25.8l-256-12.5l291.6-1.3l-19.6 47.2l-63.4-2.6l-113.8-71.6l89.9 24.1l193 36.2l-161.6-31.2l-52.1-5l-67.8-22.2l-114.6 1.5l319.6 33.3l-57.2 31.2l-221-12.7l238.5 18.3l-219.3-16.5l-42.2-55.1l119.4 21.7l199.1 14.9l-298.4-34.1l178.4-5.1l-161.4 40.7l-23.7-6.8l59.3 11.2l182.6 17.8l-126.4-8l125.6 7.7l-148.1-74.7l108.1 24.2l-84.9 47.3l159.2-26.6l-162.6-1.9l65.7 18.7l-12.3 16.2l-25-4.7l20.4-8l33.9-58.1l89.1 59.1l-68.7-5.1l77.9-3.6l-1 30.3l-252.7-45.4l-82.9-18.7l214.6 13.5l109.9-1.2l-172.3 10.3l151.8-22.9l21.1 24l-183.9-13.9l113.8 34.1l-182.9-12.6l115 10.9l107.6 17.9l-125.8-81l110.2 63.9l-70.1 8l71.9-60.5l82.4 55.1l-186.5-7.2l1.2 7.2l-57.3-65.9l116.6 79.4l10.1 8.3l62.2-46l-195.8 4.9l-76.5-12.1l351.4 50.1l-188.7-42.1l19.5-43.2l-176.6 55.4l42.8-52.4l103.6 11.3l-207.3-1.2l103 22.5l209.1 31l-216.8-36.5l176.8-24l-93.7 48.3l134.2 26l-215.3-22.1l23.9 7.1l113.8-19.9l125.3-9.6l-49.1 11.7l-240.1-53.1l47.7 56.5l-4.1-14.3l168.9 7.7l-17.4 39.9l48.8-71.3l-36.2 19.4l-92.6 19.1l119.9 28.1l-63.2-36.7l7.2 31.1l-141.5-18l209.8-24.7l-2.8-9.9l7.6-7l-140-12.4l-17.8 43.3l-12.5-56.9l-33.7 35.7l126.8 44.1l-98.7-42.6l99.9-7.8l-48.8-0.7l109.6 23.6l-13 31.9l-218.9-11.9l87.6 14.7l-41.9-13.1l173.1-48.7l63.3 43.5l-299.4-30.7l30.1 11.2l-15.3-73.6l158.4 105.1l-41.2-54.4l145 26.1l-275.4 1.1l83.4-21l98.8-16.2l-150.4 24.1l224.3 59.1l-163.9-40.8l162.3 30l-81.3-66l-160.4-11.2l214.1 13.3l-78.5 49.9l-116-28.2l89.4 17.3l35.7 28l20.7-29.3l-161.5 6.2l16.6-50.6l85.1 25.7l75.8-31.1l-162.1 62.7l250.7 14.1l-7.3-3.7l-229.2-33.2l85.6-37.4l117.2 17.1l-106.6 67.1l8.3-58.8l47.2 22.5l-16 11.2l-193.4-41.5l232.1 14.1l-133.8 37l85.6 14.7l-63.1-53.4l97.2 23.7l-65.3-24.3l125.2 18l-123.8-63l-58.8 28l81.5 23.7l43.6-2.7l-113.2-27.4l8.2 26l-63.8 0.3l251.8 28.8l-98.3-60.2l-181.6-59.5l49.1 100.3l138.4 39.7l-191.9-65.6l186.4-35.3l-122 74.6l14.6-54l-81.5 50l167.5 10.6l-81.7-69.1l47.4 9.6l-118.2 31.7l60.7 30.4l72-57l-65.1 7.3l-0.7 14l49.7-8l95.2 23.8l46.3-24.5l-147.8-3.1l-125.4-14.6l-13.5 7l126.4-18l2.6 86.7l148.5-43.6l15.9 45.5l6-18.8l-74.6-29.8l-152.3 14.8l68 2.6l146.8 37.5l-299-85.1l151.7 70.1l-10.2-76.2l29.7 75l-29.5-8.5l139.4-8.4l-173.5 5.4l192.3 8l-142.2-28.2l-93.5 12.8l224.9 7.6l-116.5-27.7l22.5 49.8l-28.5-22.1l-75.8-6.2l21.6-24.3l141.2 1.4l-15.9 2.1l-169.3 22.7l-12.5-9.9l97.7 28.5l-104.3-45.3l14.4 17.9l156.7-8.8l16.7 39.6l-98-32.2l169.3 2.2l-280.2-38.6l114.4 44.8l-85.3 8.7l22.8-12l119.5 21.5l168.5-30.5l-147.7 17.1l-64.7-74.8l-95.2 9.5l66.5 44.7l-115.6-27l82.7 48.1l-30.3 10.9l110.5 12.9l108.7-1.3l-207.9-73.4l190.4 26l-80.8 31.7l68.7-13.3l-117.4-93.8l-16.8 51.8l-9.9 50.9l41.8-29.7l84.2 25.4l-234.2-35.3l108.7 4.7l213.1 13.3l-290.4-20.9l28.5-17.4l181.3 55.6l-196.2-12.1l53.2-17.3l109.9 27.1l-15.8-7.6l-133.8-49.4l52.5 66.1l65.7-30.6l-144.6-33.9l162.8 76.3l-157-38.8l173.8-52l-117 63.9l63.7-17.3l-95 20.4l103.8-43.2l41.2 47.8l-72.8-4.1l1.1 25.1l94.7-76.2l-31.8 76.5l-91.4-84.6l46.3 87.8l19.4-5.2l-32.3-26.2l126.1-15.9l-33.3-17.7l52.2 20.2l-224-32.7l95 12.5l-131.3 31l177.8-24.5l85.9 0.2l-20.5 30.4l85 6.7l-268.9-64.9l-0.7-20l212.5 92.6l-248.4-14.6l64.2-32.6l-67.3 43.6l1.1-59.7l134.4 46.5l15.4-21.8l34.3 48.5l-128.4-94l0.5 12.6l197.9 45.4l-130.6 9.1l115.7 24.3l-284.4-67.1l200.6 46l62.9 1.8l-116.8-60.8l-83.4 47.2l-12.7 21.2l118.7 13.4l-151.2-27.4l-8.7-6.4l174.8 31.8l-3 10.3l-4.5-55.8l-24.5-25.3l-40.7 33.9l58.2-15l10-90.6l120.8 134.8l-99.7 7.8l-59.7-10.1l-66.5-22.7l136.4 4l-191.2-41.1l110.8 10.9l-48.9-2.2l86.2 37.9l-23.9-30.7l-71.1 43.1l26.8-49.2l11.2-11.3l161.2 20.6l-148.2 13.3l-13.2 36.1l-4.8-75l149 71.6l-187.5-36.6l-30.1 8.9l201.1-36l76.4 55.8l-146.3-9.2l-31.5 0.5l-44.2-41.3l-58.5 29.2l-22.7 9.6l34.5-30.2l185.3-29.9l2.7 75.6l58.8-73.9l-108.9 72.7l75.3-86.6l-38.8 60.9l-45.1 22.1l48.9-32.7l5.7-1.9l-251.8-30.8l46.7 48.3l-17.7-44.6l113.2 8.6l-97.2 21.8l169.6-33.4l-6.2 14.4l94.7 38.9l-109.8-54.1l-7.2 58.3l-151.9-35.9l210.5 61.9l-121.4-9.8l139.8 0.5l-103.5-61.7l-111.5 50.7l160-22.2l-98.6-26.5l247.8 65.1l-325.6-86l29.1 10.7l-38.2 17.9l277.2 16.3l-99 1.6l-174.9-12.7l273.7-13.6l-199.6-17l-9.1 23.3l-70.3 1.3l258.2 37.3l-223.2-37l147.5 51.9l84.6-58.8l36.4 22.2l-254.5 3.4l239.3-20.6l-231.4-10.4l154.9 74.7l-39.6-12.5l130.6 15.8l16.4-11.1l-260.3-41.4l32.6-37l76.1 73.7l41.9-65.9l-206.9 45.8l234.6-10.2l-41.6-15l105.9 10.9l-1-15.2l-65.8 19l45.8 17.8l1-44l-79.1 73.2l-12.4-58.4l-110.8-19.8l90.7 73.1l-52.4-6.7l159-28.5l-213.7-58.1l321 100.5l-325.6-69.4l213.4 47.7l-121-41.4l150.4-9.3l-48.2 68.1l-225.9-33l225.7 26.8l-67.3-52.8l-161 35.8l40-50.1l111.6 71.3l-6.3-66.5l-14.4-2.7l41.6 59.2l-109-1.3l20.4-17.7l-6.4-25.7l51.6 26l-68.6-8.3l98.4 35l-153.3-77.6l301.8 75.8l-242.7-5l41.2-47.7l126.1 51.1l-121.8-5.8l90.6-37.8l-79.3-61.8l-30.4 30.3l-5.3 35.5l62.8 26.4l-10.1-57.9l-41.7 45.7l-38.7-47.1l165.2 67.1l-58.7-15.1l47.1-27.3l-198.4-1.4l186 44.9l-37.5-54.5l-77.8 47.9l145-22l-181.9-14.2l47.6 49.4l5.2-0.3l188.5-19.1l-244.6-24l-25.7-23.5l61.8 45.6l28.8-68.5l132.7 91.1l-21.9 1.4l-42.5-31.3l-8.8-90.4l-178.9 79.7l118.8 32l23.2-8.7l-155.4-47.5l290.8 24.6l-215.4-9.5l93.4 34.8l-6.5 18.4l104.2-33.3l-48.3-37.6l133.3 69.5l-164.8-43l-164.2-3.1l9.9-4.5l258.8-10.5l-246.4 31.9l225.5-14.9l-273-25.2l27.1-29.5l46.1 47.2l150.2-5.2l-234.1-55.6l173.2 90.9l-78.5-30.5l120.8-21.7l-27.5-23.4l89.4 13l-180.3 20.7l-17.3 17.3l26.8-10.4l-18.8 11.4l140.4 41.9l30.3-1.2l-131.1-24.3l181.3 24.7l-39.7-54l-283.5-21.9l291.2 43.9l-282.4-29.5l81.6 23.7l257.6-27l-99.2 30.2l-160.6 10.6l232-2.9l-77.7-15.5l-118.5 6.8l121.3-19.1l26 24.1l-67.1-29l93.3 32.9l-122-9.1l-17.3-48.2l55 17.3l-103.6 45.1l-52.5-51.5l156 76.9l80.5-23.3l-248.4-24.4l102.4-8.7l-76.6 28.8l159.8-52.6l133.4 86.1l-74.5-49.8l-258.1 4.3l190.5 22l73.4 16.4l-91.5-67.2l-92.3 20.6l61.2 23.1l26.4 12.3l-21.2-35.3l41.2 2.8l-107.3-40.7l75.4 82.1l30.5-108.5l-15.7 69.4l107.6 15.3l-131.7 4.9l-26.2 16.9l43.4-26.2l157.9 16.3l-289.5-16.9l87.1-31.3l89.7 28.5l-79 11l43.3-45.7l100.5 0.1l-194.6-15l-101.9 17l306.9 16.1l-56.5 52.1l-266.4-75.3l226.5 15.1l-207.5 8.6l241.3-8.8l63.4-1.3l-3.7-1.6l-193.8 24.7l-53.2-0.8l45.9-66.5l57.1 98.2l16.6-7l104.5-8l-131.5-46.8l84.7 73.3l-146.5-29.8l25.2-30.7l75.3 6.7l-118.1 33.8l118.7-39.4l-114.1-14.9l134.6-11.7l-94.6 68.4l-92-52.5l13.9 28.9l94.9-17.9l51.5 59.1l51.3-35.1l-166.5-12.1l55.9 35l-92.2-68.3l95.3 2.1l-24.8 14.4l71.1 41.7l151.5 6.7l-159.9-37.8l-29.6-33l60.9 71.5l44.8-13.6l-198.7-53l172.4 40.8l105.4-18.2l-39.7 16l-13.1-13.9l-115.2-14.5l-134.8 20.7l93.8 38.7l-3.2-53.2l15.5-16.8l21.3 15.6l99.1 59.4l-146.5-50l30.9 16.8l-95.2 4l157.6 24.5l56.2-46.8l-76.6 18.7l-1.4-49.7l-142.1 29.8l94.4 7.7l-29.5-51.7l185.1 23l-35.2 27.4l13.7 30.3l-138.2-56.3l-85.2 46.1l272.7 24.3l-4.3-40.2l-168.6 33.3l113.4 11l-133-76l103.6 7.6l-126.6 37.1l182.7-31.9l38.3 12.8l-249 13.7l0.5-33.9l201.6 27.7l-128.2-37l202.8 67l-174.3-13.9l12.4 7.9l-102.7 2.2l52.8-37.7l207.7 26l-154-1.5l-83.2 4.3l-52.5-55.9l47.3 15l167.1 9.2l-187.7-46.2l110.7 80l90.9-35.4l-86.6 0l110.3 24.2l-36.2-6.7l-44.7-40.8l-49.8 48.6l-83.7-7l-1.1 10.3l-15-79.4l126.9 61.9l-3.2 50.8l-147.4-73.9l243.2 46.8l-146.4-44.2l-79.2 55.6l150.5 12.1l-18.1-35.5l187.6 37.7l-103.5-8.5l18.1-22.1l-146-56.4l-78.4 25.9l105.3 26.5l127.8-21.2l-119.3 35.9l-121.9-46.9l123.1 69l-95.8-62.4l37.3-14.3l22.2 11l55.9 58.3l14.4-29l95 26.8l-243.9-35.4l-61.6-9.7l323.6 11.8l-293.9-1.1l199.6 16.6l-14.9 3.3l-53.4 8.8l-146.6-53.7l17.7 37l99.7-16.4l0.4-33.7l-91.4-32.6l-2.8 43.8l173.4 3.9l-187.5 11.1l138.7 18.1l-18.8-9.1l112.9-44.6l-123.8 10.7l85.3 61.5l-108.2-34.3l-82.5 15.9l68-82.1l51.5 59.9l-25.4 28l11.3-27.1l168.9 16.5l-120.3-32.7l-129.7 6.7l63.9 11.6l-17.3 36.5l-2.2-58.3l-18.1 47l88.4-50.6l96.4 29.4l-70.8 39.2l75.6-16.4l59.5 8.9l-102.6-57.7l-108.4 34.8l52.1 21.8l-5.9-66.4l106.4 43.2l-192.6-44.2l-2.5 52.9l168.2-26.6l-58.4 38.7l42.6-18.2l-82.3-48.8l-32.6 67.2l-47.7-66.7l13.8 62.8l259.5-58.4l-112.1 62.6l-106.2 2.9l144.1-5.5l-127.1 11.2l-104.1-51.1l187.2 7.1l-159.7 24.3l22.5 23.4l0.3-84.2l87.3 84.7l66.9-14.7l-169.5-2.6l169.6-35l10.4 57.5l-45.6-54.9l5.1 4.6l53.6 39.9l-20.2-37.8l-103.6 17.5l79.8 31.8l-68.4-70.2"/>
<path fill="none" stroke="none" marker-start="url(#mr)" marker-mid="url(#mr)" marker-end="url(#mr)" d="M1105.3 687.7l-108.3 36.8l-18.5-28.1l177.5 19.9l-44.7-19.1l72.3 24.6l60.5-14.6l20.1-15.2l-338.7 32.2l7.9 7l34-22.9l248.8-7.8l33.2-18.4l-199.9 15l161.1 18.8l-12.1 6.7l20.4-19.4l-135.7-20.6l16.5 7.4l-124.5 39.9l154.8-6.5l-195.7-4.9l281.7-14.4l-37.1-17.5l-188.6 31.2l260.9-34.7l-279.4 24.7l18 4.1l190.5-9.3l-117.3 2.1l-76.2 19l230.2-33.8l-253.5 35.7l1.2-23.5l174.4-16.7l-30 19l-120.4-6.8l25.3 0.6l-15 24.6l37-40.2l-104.1 44.5l3.1 2.2l186.8-45.5l10.4 11.8l-131.4 5.2l89.6 13.6l-132.9-10.7l208.2 26.8l-210.4-6.8l304.5-37.5l-265.6 21.5l269.9 25.6l-39.5-17.3l-225.8-12.8l38.3 6.4l-64 20.2l186.8-36.5l-201.3 12.2l240.9-19.9l-70.8 40.9l-172.1 2.4l142-37.6l136.8 8.3l-237.2 12.6l117.1 15.5l71.1-25.6l-97.9 7.6l-139 2.2l146 4.1l-78.2 10.2l-80.3-14.6l55.7-12.6l53.2 9.9l58.6 7.4l44.8 7.2l-137.8-5.2l-92.9 12.1l37.3-2.3l-10.4-3.3l231.8-8l-140 0.4l142.4-3.7l70.1-3.3l-201.6 11.5l-74.5-12.1l240.3 6.7l-184.9 8.7l-64.5-0.6l276.5-39.5l-46.3 29.1l-88.9-21.9l-128.5 15.1l192.9-3.3l-89.6-10.7l-8.8 4.5l8.4-5l78.3 15.1l-60.7-20.3l-19.8 1.2l-88.2 3.2l103.8 27.4l7.4-23.1l137.4 7.3l-15.1-25.1l-98.8 29.5l-39.8 10.3l-7.7-38.1l-62.3 17.5l157.8-0.8l-144.1-3.3l-38.1 10.2l224.1-4.3l-6-7.1l-184.5 2.8l141.4 3.6l-134.8-11l41.7 6.1l66.9-2.4l-54.4 28.3l13.7-11.2l18.2-10.2l146.9 4.6l40.9-7.7l-345.6 28.2l125.2-15.3l106.8 7.3l-201-20.8l98.5 20.6l109-30.8l-112.6 1.4l-145.9 20.4l174.6-22.9l-29.9 9.3l-84.3 30.1l84.9-12l233.7 4.9l-360.7-15.6l45.9 19.4l-46.2 1.2l110.2-34.1l35.3 35.4l124.7-9.7l96.4-4.6l-187.1 18.8l-87.8-14.6l80.4-23.6l-158.3 20.5l248.1 15.4l-183-20.9l164 0.5l-194.3 6.6l207.4-21.4l-232 19.4l189.3-16.7l-176 7.5l40.2 4.3l-82.8 20.2l197.7-30.4l-83.7-3.1l171.9-4.8l-100.2 19.1l65.6 5.6l-258.3 2.7l45.1-11.2l215.3-12.5l11.1 26l-213.9-4.4l178.8 19.9l-168.1-30.5l51.4 18.4l218.1-2.5l-214.3 9.1l9-3.4l125.8-33.7l-283.2 26.3l73.3 12.5l144.3-42.1l-269.5 78.4l92.9-46.9l50.9 0l-56.6 13.7l212-24.9l-182.5 2.9l262.8-24.1l-139.9 40.4l65.3-26.5l130-6.6l-80.4 3.3l-249.1 16.3l-31.4 1.4l186.3 5.3l-86.3-31.7l179.3 17l8.7 1.1l-81-9.9l-102.3 43.8l-35.7-26.1l-7.5-7l183.9-16.4l-259.9 40.7l93.4-7.9l13.8-9.1l159.1-26.4l-192.3 30.5l185.2-13.3l-59.1-6.7l-151.1 4.9l230.6-13.4l3.3 15.3l-8.6 1.1l-101.2 7.2l-45-27.4l267 10.8l-354.8 18.9l197.5-23.8l21.9 2.4l-121.6 29.1l16-29.2l-7.8-1.9l-64.2 18l207.6-17.9l-210.6 9.2l110.5 17.6l-11.8-29.9l-41.5-2l182 35.3l-30.3-24l-46.4 17.1l-169.3-4.9l-64 22.6l161.2-34.3l-137.2 13.5l79.8-17.5l-36.9 35.2l-8.4-31.5l13.4 47.5l211.5-32.2l10.1-1.5l-128.9-1.2l-99.2 0.6l-82.5 1.8l266 2.1l-14.1-35l-157.1 37.5l6.4-17.7l160.7 23.8l-243.3 6.4l127.9-42.7l-30.1-0.2l122.3 27.8l-88.3-3.6l140.3-18.3l-4.5 29.3l-289.1 3.1l43.9-20.4l112.6-5.4l95.9 18.5l-70.8 3.8l43.4 3.4l51.8-39.4l-172.8 23.7l112.2 16.4l-136.6-17l-41.1 5.4l-79.1 55l377.4-70.3l-272 21.7l184.8-31l-229 24.2l151.4-28.8l148 34.9l-66.3-23.5l-187.4-0.5l-19.8 35.3l185.2-40.6l38.1 17.8l-36.4-23.6l32.5 12.5l66.3 12l-165.8 11.8l-10.6 7.2l-99.3-25.2l74.5 18.9l22.8-2.5l182-11.6l-250.3-2l217.8-8.3l-108.4 26.8l67-23.8l-140.4 15.2l1.2-10.8l-83.1 26.6l98.1-25.6l103.2 11.4l-43.1-12.7l-169.8 18.1l165.8-25.5l157.7-6.8l-238.6 15.6l-25.2 13.9l-58.7-13.4l174 19l-148-24.5l171.6-0.3l32.7-2.8l-207.1 14.3l174.2-21.2l0.2-2.5l-94.8 0.6l128.2 8l-210.1 12.2l237.1-19.8l-105.5 24.5l38 0.5l-40.6 9.3l-176.4 5.1l341.1-12.2l-286.7 7.5l82.7-41.5l-71.3 23l138.9 8.5l36.3-30.2l45.6-1.9l-281.2 30.6l123.4-11l-18-8.4l115 15.1l103.3 8.9l-118.1-26.9l-157.6 24l216.9-27.4l55.1-2.3l-7.8 24.2l-239.6 19.7l141.7-17.8l121.3-23.9l-142.8-4.2l80.3 37.2l-153-10.5l-70.7 18.3l63.2-17.7l6.6-23.9l23.4 3.7l-80.5 38.5l72.8-38.1l15 4.2l-69.3 28.9l25.4-13.8l-84.3-5.3l172.2 19.2l-198.5 13l268.4-35.5l-258.6 17.2l149.5-28.6l-83.6 17.5l140.9-16l-146.7 26.2l213-21l-67.1 21.4l-130.6-23.6l-53.4 25.7l358.4-23.1l-119.9 19.9l-150.1 7.6l184.4-4.3l-103.7-31.2l120.6-2.5l-238.6 13l186.1-2.9l-146.1 1.5l111.8 1.4l-64.3-17l-156 27.8l283.2 35.7l-195.6-15.4l78.1-4.6l-125.1-14.5l-22.3 13.3l203.7-21.5l-198.3 12l174-32.5l-114.4 55.7l6.1-40.5l-49.7 6.4l127.4-3.8l118.8 11.8l-245.8-2.9l103.2 4.5l234.5-28.8l-98.5 33.8l-116.2-15.3l124.1 2.9l-295.2 20.4l171.4-34.7l33.4 34.8l-116-23.7l162.8 5.1l-112 2.1l-50.5 16.3l99.6-5.2l33.7-8.2l10.9 0.7l-3.2-26.3l-14 20.6l11.7 7l-106.7 14.4l-2.1-13.2l117.8-13.9l-24.6 21.6l2.3-4l-180.1-16.1l267.2 5.9l-98.1-28.1l-142.3 27.4l104.2-11.3l103.8 7.1l-251.1 16.8l47.8 0.3l150.3 2.9l60.4-3.7l-278.6 13.5l347.9-52.2l-217.4 19.7l46.3 0.5l96-17.2l-58.2 19.7l-66.3-20.9l104.4 8.6l-161.7 10l107.1 21.7l-138-11.7l64.3-25.3l70.4 39.1l-113.5-18.6l-13.4-1.3l7.6 17.4l185.4-22.1l-130.2-4.4l214.6-11l-216.4 48l-69.6-23.6l160.8-10.8l-224.8 26.8l21.2-4.4l12.1-5.2l296.1-23.1l-302.2 34.2l219.5 8.1l-1.7-39.1l-179.8 23.7l114.1-10.6l-27.9 14.8l90.9-20.6l-161.6-2.6l218.2 14.9l-202.4-7.9l72.6-16.6l-61 8.5l-105.8 13.2l25.8-1l315.2-18.9l-57.8-10.6l-17 11.9l-217.8 11.3l5.2-4.6l59.5-0.9l-34.6 21.6l240.3-13.4l-58.8-13.6l-218.5 20.3l19.3 0.3l321.3-21.2l-216.1-7.6l-15.6 18.3l-130.7 8.9l41-12.7l215.6-7.7l-205.8 22.2l71.3 10.3l40.6-40l-73.9 12.9l-47.9 2.8l-6 36.1l18.5-12.2l-35.2-13.2l275.1-4.6l-256.2 13.6l87.4-14.8l-111.3 15.4l102-16l59.3-16.2l-79.9 23.2l-0.8-7.6l80-3.5l57.9-8.2l83.9 14.9l-240.6 6l-4.4-21.9l-54.5 14l156-2.2l-55.6 5.2l52.1 8.8l-145.9-9.9l141.2-12l59.9 5.8l-64.3 5.2l30.9-6.3l75.3 16.8l-170.3 2.4l14.1-38l-28.4 40.3l225.3-30l-242.5 35.5l46.3-30.4l-91.7 32.4l86.9-1.7l-9.9-25.5l-41.3 10.3l72.1-28.5l-96.9 19l-42.2 8.5l203-19.7l-66.7-5l200.7 17l-128.2 8.1l85.5-18.3l-106 21.8l89.6-16.5l-139.7 1.5l-33 14.4l14.2 7.3l85.8-26.6l-42.1 2.4l88.8-7.1l-254 36.6l274-4.8l-26.9-2.7l-15.6-11.8l85.9-22.4l-5.4 4.9l-114.5 20.6l97.4-14.7l-4.1 3.4l42.7-2.3l-139.4-14.4l24.9 39.9l29.2-34.6l101.3-2.8l-33.2-5.5l-225.2 29.9l20.4 12.7l-72.8-2.3l74.2 13.4l-95.1-18.7l178.9-18.1l-162.1 28.6l19.6-15.8l142.4-17.4l-83.8 0.9l84.8-10.8l-93.6 32.1l-77.1 3.4l286.4-24.8l-291.8 21.8l-20.1 2.9l232.5-29.1l-193.3 24.4l-24.4-2l31.6 4l56.8 2.6l-17.9-26l26.5 26.5l13.2-20.3l-42.4 3l72.3-5.5l-43.5 2.4l49.3 6.5l20.8 17.3l85.2-1l29.4-39.1l-258.9 21.4l61.5-7.5l140.4 15.1l-129.6-10l18.6 1.1l-46.6 21.4l-21.6 8.9l134.1-16.4l-1.6-7.5l118.5-21.8l-22.3-1.7l-270.5 25.5l-11.3 10.6l110.9-22.8l-36.5-5.1l259.8 12.9l-291.3-2.4l190.5-8.4l-191.4 14.2l-1.8 10.6l227.7-24.4l-134.2-10.4l-117.3 24.1l129.6-12.1l-72.9 5.8l217.7-19.2l-16.1 5.5l-217.9 12.8l-41.8 2l167.6 5.2l2.7-0.6l45.7-11.1l18.6 24.5l-79-41.8l-31.7 44.7l-91-3.4l189.5-3.4l21.4-7.4l-67.6-20.1l-63 14l96-20.5l-83.5 27.4l145.3-23.7l-268.5 36.2l-6.7 1.2l45-29.6l57.8 26.7l105-17.7l-119.2-8.3l32.9-4.3l10.3 7l-135.7 8.1l295.9 9.8l-176.9-35.9l-159.6 103.3l79-65.6l48.6-12.5l-96 6.6l105.4-19l30.9 18.9l108.6-10.4l-147.9-5.1l0.8-11.8l-97.2 25.6l305.1-25.3l-101.1 1.6l-92-1.9l142.2 6.4l25 23l-156.2-2.4l-47.2-11.7l135.5 7.9l116.3-16.7l-67.1-12l-100 35.4l143.1-16l-8.9-9.6l-122.6 33.7l-73.3-14l-103-2.1l206.8-4l49.1 5.4l-202.8-8.3l249.7-15.8l-314.6 48.7l287.7-45.7l-179.9 34l212.7-20.3l-247.7 8.1l41.8 0.9l100.4-17.4l122.6 24.2l-200.3-19.6l142.3-11.4l-271.1 39.1l111.5-26.6l-38.1 6.5l198.8-12.7l-82.4 28.3l135.4-26.8l-41 3.3l9.1 4.9l-54.9 12.4l77.1 2.9l-89.9-39l80.1 17.9l-28.7-13l-70.2 43l-154.2-30.5l215 19.2l-72.4-31.8l-56.6 3.4l33.8 39.6l-50.4-37.8l123 35.5l-197.1-13l95.2 16.2l95.7-18.2l-12.5-17.3l-137.8 10.2l-18 3.7l-36.6 20.7l98.1-43.3l125.6 27.8l-150-12.4l-85.8 13.7l273.5-1.8l-124.7-7.4l51.6-15.1l-143.2 11.7l40.2 5.7l42.2-6.4l-77.5 12.8l-44.7-15.3l-5.1 2.7l57.1-2.3l199.1 9.5l-11.8-14.2l-112.6 16.4l-82.4-12.9l59.7 20.7l-99.6 13.4l56.4-29.7l148.9 9.7l37 0.5l-176.8-0.3l87.2 7.5l-199.2 5.2l26.9-15.6l107.6-15.7l21 17.3l70.6-10.2l32.8-14.5l-190.8 9.9l162.9-6.4l-193.4 35.3l48.1-2.7l119.1-29.3l-100.4 22.9l74 2.9l21.9-24.8l-36.5-9.9l53.3 25l56.1 3.3l58.3-22.7l-24.3 1.5l-121.6 20.9l-96.9 2.3l-24 14.2l-39.3-11.8l253.4-26.3l-194.4 15.5l221.4-3.7l-158.5 19.9l-84.1-15.1l55.6 6.8l-23.2 13.3l13-19.3l-22.2 4l-41.2 19.2l291.3-37.3l-199.4 3.2l86 5.3l-214.4 22.6l296.5-10.6l-262.8-9.2l165.2 27l-99.6-11.2l185-7.8l-179.6-12.5l118.5 26.1l-72.3-35.7l-7.3 22.6l-105.2 6.6l227.8-12.5l-226.3 37.9l233.2-43.1l-252.8 9.4l165.7 14.8l-97-32.1l67.3 35.3l-87.7-32.9l12.5 23.8l175.3-34.4l-16.8 8.4l0.2 17.4l-79.9-15.5l-22.1-6.9l47.2 35.9l86.6-0.1l-186.1-17.7l167.3-0.1l-56.3-7.6l-46.1-15l96.9 38l-104.1-39.9l92 6.5l-226.9 33l201.4-7.5l40.3-23.5l-2.1 32.5l-105-10.5l-123.2 2l148.4 9.8l50.8-39.6l10.6 15.1l-68.1 20.6l-152.7 5.5l123.1-28.3l150.3 10.8l-241.6 11.5l122.9-9.8l220-14.9l-244.1 14.7l140.9-6.5l-231.3 24l249.4-24.1l-72.1-19.9l-187.3 21l120.6-15l88.6 30.7l-129.7-14.1l158.2-14.2l-121.4-2.9l18.6-9.1l39.3 12.2l-128.3 29.2l174.3-18.5l-251.4 7.9l91.5 7.4l-49.6 3.1l99.5 5.4l144.9-4.4l-101.9 0.6l-161.4 9.6l157.8-6.5l-108.1-27.6l178.3-0.6l-91-4.5l138.6-12.8l-157.3 0l-96 31.1l53.3-19.4l202.3 15.5l-237.1 18.4l132.4-29.3l-108.8 24.9l45.3-20.3l70.2 2.6l-68-19.1l142.4 29.7l-176.9 10.3l14.7-25.8l-74.5 25.8l-44.5-9.8l52.3 5.1l129-16.5l58.1-12.2l-151.6-1.1l72.9 21.3l-172.8 10.9l166.5-37.2l-116.9 21.3l34.2 20.3l-73.8-20.5l141.1-5l-39.1-14.8l86.2 23.5l100.4-9l-99.4 3.3l-12.5-17.3l123.5 19.6l-237.8 9.4l119.3-16.1l-18.4 20.2l-46.9 1.4l31.5-11.6l24-0.7l126.9-7.8l-274.8 2.6l132.1 14.3l51.4-23.8l-132.3 9.9l-33.2 11.5l-50.4-3.7l140-7.9l48.3-4.2l9.6-0.2l-82.4 17.4l170.7-20.4l-213.5 0.4l-18.7-1.1l1.2 5.3l137 7.2l9.7-22.6l-10.2 9.5l-43.4 28l-140.6-17.1l155.4-3.8l-6.1-11.7l-81.4 18.4l139-2l20.6 19.1l-52.4-41.9l-89.4 15.6l-39.4 0.3l75.8 7l-1.2-18.6l-57.5 36.7l214.4-16.9l-224 10.7l179.9-34.7l-50.4 22.7l-77.3-3.4l12.8 17.3l142.3 24l-144.5-62l-111.1 33.5l94.6-15.8l158.3 13.3l-166.5-15.1l-67.4 4.9l135.7 17.5l65.5-38.5l-41.8 7.1l-63.4 12.9l57.6 3.5l-88.5 8.3l89.3-14.5l-9.6 14.6l156.2-21.6l-81.9-7.5l-42.9 27.2l17.7-12.5l-35.2 10.2l-114 0l89.6-9.6l79.1-22.3l-99.8 18.1l-54.5 6.9l42.7-3.7l161.9-21.3l-257.3 26.2l103.9 11.8l-22.6-1.1l187.8-28.4l83.5 5.1l-221.7 26l155.5-22.3l-104-10.2l-115.7 5.8l172 17.4l-279.6 18.8l272.5-14.8l-228.7 12.5l252.2-6l-95.3-20l118.1 2.2l-73.6 23.5l-110.5-4.5l-134-1.9l156.5 5.7l35.9-11.9l-189.4-2.1l291.3-3.3l-127.3-5.7l88.9 13.3l-96.7-9.4l15.7 6.2l-73 0.4l145.1-25.3l5.8 31.3l46 4.8l-203.6-10.3l-9.3-2.4l-61.2 15.3l120.4-16.7l-12.7 5.2l217.1-8.7l-143.5 32.3l-58.9-55.5l-32.6 25.6l145.2-5l-16.6-5.7l-130.1 32.7l171.8-20l-78.6-20.4l70.6 20.9l-272.7 13.8l139-25.6l97.4 16l-136.7 2.2l-30.9-15.2l64.7-9.4l45.1 4.5l-97.3-6.9l119.2 35.1l-209.6-10.8l128.1 3.8l207.9-1.6l-21-9l24.6-13.2l-275.3 32.6l145.4-29.1l-237.7 80.6l69.2-63.3l196.3 3.5l32.3 7.4l-233.5-13.8l264.7 10l-145.4-28.2l-110.7 30.9l287.1-40.7l-140.5 38l196.9-26.9l-152.5-10.5l30.9 18.6l-109.1-12.3l113.6 16.1l5-1.5l40.8-7.3l-280.3 1.4l108.5-18.2l-13.8 6.8l70.1 5.3l81.7 4.2l-161.6 28l165-45.4l-117.8 32.4l-91.6-4.8l233.4-23.3l-236 39l35.7-36.6l224.2-6.6l-49.4 4l-17.5 40.7l-24-27.5l-150.1-0.8l197.4 15.8l-54.1-27.7l-78.4 42l122.8-16.4l-11.1 4.7l-56.2-28.1l90.5 1.8l-119.7 58.8l104.5-69l-116.3 25.7l61.5-13.7l-203.5 28l197.3-34.6l30.9 36.2l-132.8-19.4l117.1-17.7l-141.9 14.1l-72.6 15.3l220.9-2.9l42.8-26.3l-85.4 26.4l-96.4-9.1l-62 25.6l53.8-18.2l198 13.6l27.2-17.6l49.8-7.5l-256.4 18.6l120.3 4l60.4-17.6l-11.5-14.7l-18.9-0.2l-170.1 32.5l53.1-17.5l146 22.9l-105.5-21.6l-37.8 4.3l-25.2 17.2l55.7-27.3l-103.8-10.8l-39.7 45.4l245.7-7.3l-123.2-6.6l-15-13.8l104.1-11.9l-189.1 33.5l150.3-13l-164.5 4.3l52.2-26.2l98.7 5.1l-163.4 6.2l227.5-1l-199.7 18.2l129.5-12.7l-130.6 23.2l226.8-32.2l-228.9 13.2l-41.5-4.6l97.3-8.5l15.3 11l-6.7-2.4l58 10.4l123.9-1.2l-202.4-10.6l207.3-25.1l-81.7 18.8l-84.3 15.9l-29.5-27.5l-71.3 15.3l13.9 15.4l106.3-12.6l26.8-11.5l-142 42.7l-9.2-7.1l58.6-0.6l92.6-38.7l-110.1 17.4l113.2-22.4l-177.6 21.2l242.7-10.8l-114.2 28.1l-133.1-6.3l380.7-3.4l-233-10.9l147.5 13.1l-143 10.2l61.4-43.2l-34.6 34.1l-36.7-10.6l176.9-16.7l-73-0.7l-43.5 15l-170.6 16.7l6.4 6.9l131.1-38.9l-127.7 11.4l62-11.8l-80.4 33.1l114.8-40.4l-95.6 33.9l22.8 1l209.6-2.6l-94.9-29l144.2 28.2l-365.8 68.2l221.8-75.1l83.2 12.9l-145.3-14.4l-181.3 61.7l278-66.2l-225.7 11.5l215.2 13.9l33.6-36.4l-142.8 20.4l-8 10.2l-92.1 7.2l289.4-7.1l-161.2-9.9l75.2 0.2l-212.9 21.7l5.2-8.7l71.9-17.2l164.4 20.5l-104.6-39.5l173.2 21.1l-206.3-6.4l-34.9 12.6l17.7 2.2l176.4 6.3l-173.8-13l123.5 15l-18-44l-121.8 11.5l30.5 8.9l3.5 21.8l141.6-8.6l-290 57l309.5-77l-106.5 21.1l56.9-5.5l-22.6 15.6l42.6-40.6l53.3 17.9l-168.3 5.9l-79 6l122.8 11.1l78.4-40.6l-65.6 16.6l132.2 1.5l-224.2 21.2l-98.2 2.1l203.2-31.7l57.9 2.7l-162 27.8l74.2-29.9l-142.8 14l218.6 10l-176.4 5l42.6-3.2l-69.1-17.9l69.5 24.3l174.2-38.4l-243.6 20l13.3 1.8l77.4-21.4l-41.6 40l176.9-37l-182.2 4.1l162.9 18.2l-117.8-10.4l27.6-9.4l-136.2 38.5l235.5-41.2l-193.4 19.8l215.5 3.5l-164.3-16.4l14.1 21.8l-12.5-23l160.8 13.8l-83.5-27.3l43.3 4.4l26.2 32.3l-191.1 8.8l257.3-10.5l-104.1-30.8l-193.5 39.5l146-14.8l27.8-2.9l-120.3 11.5l140.5-22.7l-28.3-3.4l-142 7l238.3-1.7l41-0.8l-282.3-1.7l203.2 24.5l19.3-24.6l-54.9-9.2l-34 6.4l-13.3 7.7l6.2-5.1l8 5.6l-42.7 17.9l-5.4-24l-157.3 85.5l270.9-50.9l-229.1-22.1l323.8-24.7l-121.9-2.7l49.8 31.8l-202 0l-9.3 19.8l74.4-35.2l106 17.8l92.1 0l-78.2-12.8l-234.4 20.1l251-15.3l58.7-19.6l-106.2-0.3l-112.8 12.4l-94.4 26l311.7-29.3l-214.2-13.5l-34.6 11.7l20.4 5.4l25.9 28l57.1-1.9l-42.5-12.5l-81.9 0.6l42.2-10l276.1 12.9l-149.1-36.9l-138.3 16.4l-82.1 15.9l105.4 17.5l79-35.8l6.8-7.2l-193.8 34.7l-1.1-13.6l135.9-8.3l31.6 19.6l-55.8 4.1l278.3-25.9l-88.6 5.5l-93.9 5.6l-106-1.2l232.6-2.1l-170.1 17.9l-33.4-8.6l53.5-2.1l-223.9 59l373.6-61.3l-194.4 19.5l182.8-46.8l-149.3 7l-121.1 19.7l254.1-9l-248.1 18.4l185.1-28.6l-95.6-1.9l-38.5 4.3l95.8 28.6l-201.5-13.5l145.7-28.2l115.6-2l-108.9 5.5l96.5-2.6l-87.5 53.2l4.8-25.4l-23.9 6.3l-43.7-25.4l20.4 17.4l127.4-3.2l-116.4 3.2l-88.8-4l234.3 13l91.1-24.5l-139.9 34.4l-9.9-16.1l-147.5-20.6l103.8 13.6l-63.2 11.3l10.7-12.2l138.2-2.2l-199.8-5.5l-61.5 18.9l180.5-31l-50 31.3l-10.9-32.5l19.7 19.7l95.8 7.3l103.5-16.4l-58.7 23.4l-241.7 5l116.9-1.3l115.5-14.7l-224.3 18l82.3 2.2l111.8-35.6l-243.7 34.9l338.6-11.1l-122.4-20.1l33.7-0.1l-227.7 27.7l39.7-9.7l2.9-18.1l54.5 2.7l0.7-8.2l62.5 23.9l82-16l-76.2 12.7l-4.6-8.9l49.9 5.1l34.5-6.1l-46.6 7.9l-24.3-14.3l11.4 54.3l80.6-51.1l-24.3 25.2l-178-31.6l151 1.3l47 4.7l-70.3 1.2l-150.9 25.2l-9.9-17.2l38.6-7l148.1-11.1l-31.3 2l38.1 26.3l-18.2 10.9l98.5-9.6l-229.4-9l-4.9 2.5l-126.8 66.4l189.3-95l-37.3 6.8l63.4-3.5l74.6-2.2l73.5 27.5l-290.8-4.9l180.4-17.9l30.3 11l65.7 7.4l-67.4 13l-25.3-4.8l-84.2-3.6l98.3 10.8l-41.5-8.3l114.5-30.6l-2.1 34.6l-201.9-0.5l-76.3-2.9l180.5-28.2l-157.9 22.1l1.2 2.7l268.6-13.4l-43.9 17.8l-91.7-34.1l-36.9 17.2l60.6 22l72.1-35l74.3 24.6l-235.6-23.4l150 21.6l-129.1 17l-108.3 2.1l277.6-23l-149.7 14.7l-1.4 5.1l-176.3 3.7l344.5-19.2l-219.8-16.1l-78.4 25.1l292.4-34.4l-271.1 40.4l287.3-40.9l-113.4 11.3l-63.5 21.2l-162.3 5.6l302.8-38.1l-150.9 6.7l-68 15.9l258.5 5.8l-314.5 16l60.4 3.6l69.8-45.8l27.9 41.9l-105.3 17.8l86.4-21.2l45.5-28.8l44.5-0.9l-24.4-9.3l-67.1 13.5l109.4-9.4l-195.4 27l175.6-21.6l-93.5-3.7l-123.7 25.3l-2.3-9.1l77.1 17.8l31.2-11.8l29.6 5l2.3-16.4l65.8-9.9l-194.8 37.7l-44.7-11.8l44.6 4.8l33.9-19l-70.2 11.6l25.8 18.9l149.4-42l-161.8 20.4l217 0.9l-173.5-12.4l-43.1 24.2l226.2-4.5l-150.6-23l103.3 6.8l-66.3-12.6l-74.4 23.7l93.4-27.1"/>
</g>
<rect x="818.2" y="475.8" width="591.5999999999999" height="336.99999999999994" fill="none" stroke="#000" stroke-width="2.7"/>
<line x1="810.4" y1="558.7" x2="818.2" y2="558.7" stroke="#000" stroke-width="1"/>
<text x="807.2" y="565.7" text-anchor="end" style="font-family:'DejaVu Sans', sans-serif;font-size:19.20px;font-weight:bold" fill="#000">+5</text>
<line x1="810.4" y1="660.2" x2="818.2" y2="660.2" stroke="#000" stroke-width="1"/>
<text x="807.2" y="667.2" text-anchor="end" style="font-family:'DejaVu Sans', sans-serif;font-size:19.20px;font-weight:bold" fill="#000">0</text>
<line x1="810.4" y1="761.7" x2="818.2" y2="761.7" stroke="#000" stroke-width="1"/>
<text x="807.2" y="768.7" text-anchor="end" style="font-family:'DejaVu Sans', sans-serif;font-size:19.20px;font-weight:bold" fill="#000">-5</text>
<line x1="916.9" y1="812.8" x2="916.9" y2="823.4" stroke="#000" stroke-width="1"/>
<text x="916.9" y="840.9" text-anchor="middle" textLength="61.5" lengthAdjust="spacingAndGlyphs" style="font-family:'DejaVu Sans', sans-serif;font-size:18.60px;font-weight:bold" fill="#000">1e+01</text>
<line x1="1113.2" y1="812.8" x2="1113.2" y2="823.4" stroke="#000" stroke-width="1"/>
<text x="1113.2" y="840.9" text-anchor="middle" textLength="61.5" lengthAdjust="spacingAndGlyphs" style="font-family:'DejaVu Sans', sans-serif;font-size:18.60px;font-weight:bold" fill="#000">1e+03</text>
<line x1="1309.6" y1="812.8" x2="1309.6" y2="823.4" stroke="#000" stroke-width="1"/>
<text x="1309.6" y="840.9" text-anchor="middle" textLength="61.5" lengthAdjust="spacingAndGlyphs" style="font-family:'DejaVu Sans', sans-serif;font-size:18.60px;font-weight:bold" fill="#000">1e+05</text>
<text x="967.5" y="872.2" textLength="287.0" lengthAdjust="spacingAndGlyphs" style="font-family:'DejaVu Sans', sans-serif;font-size:20.80px;font-weight:bold" fill="#000">Mean normalized counts</text>
<text transform="translate(770.6,769.8) rotate(-90)" x="0" y="0" textLength="233.2" lengthAdjust="spacingAndGlyphs" style="font-family:'DejaVu Sans', sans-serif;font-size:28.0px;font-weight:bold;font-stretch:condensed">log2 fold change</text>
<text x="1257.1" y="522.0" textLength="90.2" lengthAdjust="spacingAndGlyphs" style="font-family:'Liberation Sans', Arial, sans-serif;font-size:41.61px;font-weight:normal" fill="#1452f2" stroke="#000" stroke-width="2.6" stroke-linejoin="round" paint-order="stroke">1206</text>
<path d="M1374.7 490.0 L1390.9 505.1 L1390.9 517.9 L1379.0 506.6 L1379.0 528.7 L1370.3 528.7 L1370.3 506.6 L1358.4 517.9 L1358.4 505.1Z" fill="#0000f0" stroke="#000" stroke-width="1.7" stroke-linejoin="miter"/>
<text x="1278.9" y="792.0" textLength="68.8" lengthAdjust="spacingAndGlyphs" style="font-family:'Liberation Sans', Arial, sans-serif;font-size:40.00px;font-weight:normal" fill="#f51010" stroke="#000" stroke-width="2.6" stroke-linejoin="round" paint-order="stroke">943</text>
<path d="M1374.7 798.2 L1390.9 783.5 L1390.9 771.0 L1379.0 781.9 L1379.0 760.4 L1370.3 760.4 L1370.3 781.9 L1358.4 771.0 L1358.4 783.5Z" fill="#f00000" stroke="#000" stroke-width="1.7" stroke-linejoin="miter"/>
<text x="0.0" y="919.6" style="font-family:'Liberation Sans', Arial, sans-serif;font-size:50.00px;font-weight:bold" fill="#000">e</text>
<path d="M123.71 1248.66L281.21 1403.16A137.5 137.5 0 0 0 473.79 1206.84L316.29 1052.34A137.5 137.5 0 0 0 123.71 1248.66Z" fill="#1f39ad" fill-opacity="0.5" stroke="#000" stroke-width="3"/>
<path d="M200.72 1160.72L363.42 1323.52A134.0 134.0 0 0 0 552.98 1134.08L390.28 971.28A134.0 134.0 0 0 0 200.72 1160.72Z" fill="#d31a1a" fill-opacity="0.5" stroke="#000" stroke-width="3"/>
<path d="M363.95 972.04L201.45 1133.84A134.0 134.0 0 0 0 390.55 1323.76L553.05 1161.96A134.0 134.0 0 0 0 363.95 972.04Z" fill="#1a9b1a" fill-opacity="0.5" stroke="#000" stroke-width="3"/>
<path d="M437.74 1051.81L280.74 1207.31A137.5 137.5 0 0 0 474.26 1402.69L631.26 1247.19A137.5 137.5 0 0 0 437.74 1051.81Z" fill="#ede948" fill-opacity="0.5" stroke="#000" stroke-width="3"/>
<text x="130.2" y="920.9" textLength="105.0" lengthAdjust="spacingAndGlyphs" style="font-family:'Liberation Sans', Arial, sans-serif;font-size:32.00px;font-weight:bold" fill="#000">Mature</text>
<text x="57.6" y="1010.2" textLength="98.2" lengthAdjust="spacingAndGlyphs" style="font-family:'Liberation Sans', Arial, sans-serif;font-size:32.00px;font-weight:bold" fill="#000">Young</text>
<text x="522.6" y="920.9" textLength="97.4" lengthAdjust="spacingAndGlyphs" style="font-family:'Liberation Sans', Arial, sans-serif;font-size:32.00px;font-weight:bold" fill="#000">Young</text>
<text x="597.4" y="1009.6" textLength="105.0" lengthAdjust="spacingAndGlyphs" style="font-family:'Liberation Sans', Arial, sans-serif;font-size:32.00px;font-weight:bold" fill="#000">Mature</text>
<path d="M182.5 933.6 L194.3 944.6 L194.3 953.3 L185.7 945.2 L185.7 962.5 L179.3 962.5 L179.3 945.2 L170.7 953.3 L170.7 944.6Z" fill="#0a0af0"/>
<path d="M106.9 1022.0 L118.7 1032.9 L118.7 1041.5 L110.1 1033.5 L110.1 1050.7 L103.7 1050.7 L103.7 1033.5 L95.1 1041.5 L95.1 1032.9Z" fill="#0a0af0"/>
<path d="M571.4 961.7 L583.1 951.0 L583.1 942.6 L574.5 950.5 L574.5 933.6 L568.2 933.6 L568.2 950.5 L559.6 942.6 L559.6 951.0Z" fill="#cc2030"/>
<path d="M649.9 1050.2 L662.0 1039.5 L662.0 1031.0 L653.2 1038.9 L653.2 1022.0 L646.6 1022.0 L646.6 1038.9 L637.8 1031.0 L637.8 1039.5Z" fill="#cc2030"/>
<text x="244.7" y="992.6" textLength="54.1" lengthAdjust="spacingAndGlyphs" style="font-family:'Liberation Sans', Arial, sans-serif;font-size:33.00px;font-weight:bold" fill="#000">593</text>
<text x="180.4" y="1069.5" textLength="54.0" lengthAdjust="spacingAndGlyphs" style="font-family:'Liberation Sans', Arial, sans-serif;font-size:33.00px;font-weight:bold" fill="#000">613</text>
<text x="104.0" y="1162.7" textLength="54.1" lengthAdjust="spacingAndGlyphs" style="font-family:'Liberation Sans', Arial, sans-serif;font-size:33.00px;font-weight:bold" fill="#000">358</text>
<text x="448.4" y="989.9" textLength="55.7" lengthAdjust="spacingAndGlyphs" style="font-family:'Liberation Sans', Arial, sans-serif;font-size:33.00px;font-weight:bold" fill="#000">265</text>
<text x="514.8" y="1064.4" textLength="54.7" lengthAdjust="spacingAndGlyphs" style="font-family:'Liberation Sans', Arial, sans-serif;font-size:33.00px;font-weight:bold" fill="#000">595</text>
<text x="596.3" y="1160.0" textLength="54.4" lengthAdjust="spacingAndGlyphs" style="font-family:'Liberation Sans', Arial, sans-serif;font-size:33.00px;font-weight:bold" fill="#000">348</text>
<text x="376.1" y="1053.3" text-anchor="middle" style="font-family:'Liberation Sans', Arial, sans-serif;font-size:32.50px;font-weight:normal" fill="#000">0</text>
<text x="281.3" y="1141.1" text-anchor="middle" style="font-family:'Liberation Sans', Arial, sans-serif;font-size:32.50px;font-weight:normal" fill="#000">0</text>
<text x="468.9" y="1142.6" text-anchor="middle" style="font-family:'Liberation Sans', Arial, sans-serif;font-size:32.50px;font-weight:normal" fill="#000">0</text>
<text x="210.7" y="1246.3" text-anchor="middle" style="font-family:'Liberation Sans', Arial, sans-serif;font-size:32.50px;font-weight:normal" fill="#000">0</text>
<text x="377.1" y="1241.3" text-anchor="middle" style="font-family:'Liberation Sans', Arial, sans-serif;font-size:32.50px;font-weight:normal" fill="#000">0</text>
<text x="544.9" y="1239.9" text-anchor="middle" style="font-family:'Liberation Sans', Arial, sans-serif;font-size:32.50px;font-weight:normal" fill="#000">0</text>
<text x="293.2" y="1331.2" text-anchor="middle" style="font-family:'Liberation Sans', Arial, sans-serif;font-size:32.50px;font-weight:normal" fill="#000">0</text>
<text x="459.0" y="1330.2" text-anchor="middle" style="font-family:'Liberation Sans', Arial, sans-serif;font-size:32.50px;font-weight:normal" fill="#000">0</text>
<text x="378.5" y="1405.2" text-anchor="middle" style="font-family:'Liberation Sans', Arial, sans-serif;font-size:32.50px;font-weight:normal" fill="#000">0</text>
<polyline fill="none" stroke="#1530b0" stroke-width="2.6" stroke-linejoin="miter" points="106.7,1115.6 37.5,1115.6 37.5,1451.4 710.3,1451.4 708.8,984.5 762,984.5"/>
<polyline fill="none" stroke="#18a018" stroke-width="2.6" stroke-linejoin="miter" points="534.5,1000.0 534.5,959.3 750.8,959.3 750.8,1347.3 762,1347.3"/>
<polyline fill="none" stroke="#d60a0a" stroke-width="2.6" stroke-linejoin="miter" points="328.9,953.7 328.9,884.3 734.8,884.3 734.8,1151.5 762,1151.5"/>
<circle cx="328.9" cy="953.7" r="6" fill="#000"/>
<circle cx="534.5" cy="1000.1" r="6" fill="#000"/>
<circle cx="106.7" cy="1115.5" r="6" fill="#000"/>
<rect x="764.00" y="890.70" width="644.00" height="179.80" fill="#8d9dd9" stroke="#000" stroke-width="6.2"/>
<rect x="767.1" y="923.80" width="637.8" height="3.2" fill="#000"/>
<text x="1086.0" y="916.7" text-anchor="middle" textLength="518.0" lengthAdjust="spacingAndGlyphs" style="font-family:'DejaVu Sans', sans-serif;font-size:24.10px;font-weight:bold" fill="#000">Gene-enrichment in young cnidocytes</text>
<text x="777.4" y="946.1" style="font-family:'DejaVu Sans';font-size:19.6px" xml:space="preserve">Proteolysis,</text>
<text x="952.8" y="946.1" style="font-family:'DejaVu Sans';font-size:19.6px" xml:space="preserve">Extracellular</text>
<text x="1139.6" y="946.1" style="font-family:'DejaVu Sans';font-size:19.6px" xml:space="preserve">matrix</text>
<text x="1266.9" y="946.1" style="font-family:'DejaVu Sans';font-size:19.6px" xml:space="preserve">organization,</text>
<text x="777.4" y="969.5" style="font-family:'DejaVu Sans';font-size:19.6px" xml:space="preserve">metalloendopeptidase</text>
<text x="1006.2" y="969.5" style="font-family:'DejaVu Sans';font-size:19.6px" xml:space="preserve">activity,</text>
<text x="1094.2" y="969.5" style="font-family:'DejaVu Sans';font-size:19.6px" xml:space="preserve">skeletal</text>
<text x="1179.2" y="969.5" style="font-family:'DejaVu Sans';font-size:19.6px" xml:space="preserve">system</text>
<text x="1259.5" y="969.5" style="font-family:'DejaVu Sans';font-size:19.6px" xml:space="preserve">development,</text>
<text x="777.4" y="992.9" style="font-family:'DejaVu Sans';font-size:19.6px" xml:space="preserve">proteinaceous</text>
<text x="941.3" y="992.9" style="font-family:'DejaVu Sans';font-size:19.6px" xml:space="preserve">extracellular</text>
<text x="1088.8" y="992.9" style="font-family:'DejaVu Sans';font-size:19.6px" xml:space="preserve">matrix,</text>
<text x="1183.6" y="992.9" style="font-family:'DejaVu Sans';font-size:19.6px" xml:space="preserve">extracellular</text>
<text x="1331.1" y="992.9" style="font-family:'DejaVu Sans';font-size:19.6px" xml:space="preserve">matrix</text>
<text x="777.4" y="1016.3" style="font-family:'DejaVu Sans';font-size:19.6px" xml:space="preserve">structural</text>
<text x="884.7" y="1016.3" style="font-family:'DejaVu Sans';font-size:19.6px" xml:space="preserve">constituent,</text>
<text x="1014.3" y="1016.3" style="font-family:'DejaVu Sans';font-size:19.6px" xml:space="preserve">organic</text>
<text x="1099.6" y="1016.3" style="font-family:'DejaVu Sans';font-size:19.6px" xml:space="preserve">substance</text>
<text x="1212.4" y="1016.3" style="font-family:'DejaVu Sans';font-size:19.6px" xml:space="preserve">catabolic</text>
<text x="1313.5" y="1016.3" style="font-family:'DejaVu Sans';font-size:19.6px" xml:space="preserve">process,</text>
<text x="777.4" y="1039.7" style="font-family:'DejaVu Sans';font-size:19.6px" xml:space="preserve">collagen</text>
<text x="871.9" y="1039.7" style="font-family:'DejaVu Sans';font-size:19.6px" xml:space="preserve">catabolic</text>
<text x="972.3" y="1039.7" style="font-family:'DejaVu Sans';font-size:19.6px" xml:space="preserve">process,</text>
<text x="1065.7" y="1039.7" style="font-family:'DejaVu Sans';font-size:19.6px" xml:space="preserve">endopeptidase</text>
<text x="1223.3" y="1039.7" style="font-family:'DejaVu Sans';font-size:19.6px" xml:space="preserve">inhibitor</text>
<text x="1316.5" y="1039.7" style="font-family:'DejaVu Sans';font-size:19.6px" xml:space="preserve">activity,</text>
<text x="777.4" y="1063.1" style="font-family:'DejaVu Sans';font-size:19.6px" xml:space="preserve">cellular catabolic process</text>
<rect x="764.00" y="1082.10" width="644.00" height="132.50" fill="#e88d8d" stroke="#000" stroke-width="6.2"/>
<rect x="767.1" y="1116.60" width="637.8" height="3.2" fill="#000"/>
<text x="1086.0" y="1107.1" text-anchor="middle" textLength="533.0" lengthAdjust="spacingAndGlyphs" style="font-family:'DejaVu Sans', sans-serif;font-size:24.10px;font-weight:bold" fill="#000">Gene-enrichment in mature cnidocytes</text>
<text x="777.4" y="1137.3" style="font-family:'DejaVu Sans';font-size:19.6px" xml:space="preserve">Hydrolase</text>
<text x="893.5" y="1137.3" style="font-family:'DejaVu Sans';font-size:19.6px" xml:space="preserve">activity,</text>
<text x="989.9" y="1137.3" style="font-family:'DejaVu Sans';font-size:19.6px" xml:space="preserve">cellular</text>
<text x="1079.5" y="1137.3" style="font-family:'DejaVu Sans';font-size:19.6px" xml:space="preserve">response</text>
<text x="1186.5" y="1137.3" style="font-family:'DejaVu Sans';font-size:19.6px" xml:space="preserve">to</text>
<text x="1224.1" y="1137.3" style="font-family:'DejaVu Sans';font-size:19.6px" xml:space="preserve">insulin</text>
<text x="1305.9" y="1137.3" style="font-family:'DejaVu Sans';font-size:19.6px" xml:space="preserve">stimulus,</text>
<text x="777.4" y="1160.6" style="font-family:'DejaVu Sans';font-size:19.6px" xml:space="preserve">receptor</text>
<text x="877.2" y="1160.6" style="font-family:'DejaVu Sans';font-size:19.6px" xml:space="preserve">regulator</text>
<text x="984.0" y="1160.6" style="font-family:'DejaVu Sans';font-size:19.6px" xml:space="preserve">activity,</text>
<text x="1079.5" y="1160.6" style="font-family:'DejaVu Sans';font-size:19.6px" xml:space="preserve">extracellular</text>
<text x="1219.3" y="1160.6" style="font-family:'DejaVu Sans';font-size:19.6px" xml:space="preserve">matrix</text>
<text x="1300.2" y="1160.6" style="font-family:'DejaVu Sans';font-size:19.6px" xml:space="preserve">structural</text>
<text x="777.4" y="1183.9" style="font-family:'DejaVu Sans';font-size:19.6px" xml:space="preserve">constituent,</text>
<text x="919.0" y="1183.9" style="font-family:'DejaVu Sans';font-size:19.6px" xml:space="preserve">basal</text>
<text x="995.8" y="1183.9" style="font-family:'DejaVu Sans';font-size:19.6px" xml:space="preserve">lamina,</text>
<text x="1093.1" y="1183.9" style="font-family:'DejaVu Sans';font-size:19.6px" xml:space="preserve">cytokine-mediated</text>
<text x="1301.3" y="1183.9" style="font-family:'DejaVu Sans';font-size:19.6px" xml:space="preserve">signalling</text>
<text x="777.4" y="1207.2" style="font-family:'DejaVu Sans';font-size:19.6px" xml:space="preserve">pathway, regulation of cell motility</text>
<rect x="764.00" y="1226.40" width="644.00" height="226.50" fill="#8dce8d" stroke="#000" stroke-width="6.2"/>
<rect x="767.1" y="1259.80" width="637.8" height="3.2" fill="#000"/>
<text x="1086.0" y="1252.1" text-anchor="middle" style="font-family:'DejaVu Sans', sans-serif;font-size:24.10px;font-weight:bold" fill="#000">Gene-depletion in cnidocytes</text>
<text x="777.4" y="1281.6" style="font-family:'DejaVu Sans';font-size:19.6px" xml:space="preserve">Cation-channel</text>
<text x="958.0" y="1281.6" style="font-family:'DejaVu Sans';font-size:19.6px" xml:space="preserve">complex,</text>
<text x="1080.1" y="1281.6" style="font-family:'DejaVu Sans';font-size:19.6px" xml:space="preserve">Voltage-gated</text>
<text x="1250.1" y="1281.6" style="font-family:'DejaVu Sans';font-size:19.6px" xml:space="preserve">cation-channel</text>
<text x="777.4" y="1305.0" style="font-family:'DejaVu Sans';font-size:19.6px" xml:space="preserve">activity,</text>
<text x="862.8" y="1305.0" style="font-family:'DejaVu Sans';font-size:19.6px" xml:space="preserve">Na -channel</text>
<text x="990.8" y="1305.0" style="font-family:'DejaVu Sans';font-size:19.6px" xml:space="preserve">activity,</text>
<text x="1076.3" y="1305.0" style="font-family:'DejaVu Sans';font-size:19.6px" xml:space="preserve">K  ion</text>
<text x="1145.5" y="1305.0" style="font-family:'DejaVu Sans';font-size:19.6px" xml:space="preserve">transport,</text>
<text x="1249.2" y="1305.0" style="font-family:'DejaVu Sans';font-size:19.6px" xml:space="preserve">K<tspan style="font-size:12.5px" dy="2.5">v</tspan></text>
<text x="1280.6" y="1305.0" style="font-family:'DejaVu Sans';font-size:19.6px" xml:space="preserve">ion</text>
<text x="1317.5" y="1305.0" style="font-family:'DejaVu Sans';font-size:19.6px" xml:space="preserve">channel</text>
<text x="777.4" y="1328.4" style="font-family:'DejaVu Sans';font-size:19.6px" xml:space="preserve">complex,</text>
<text x="880.9" y="1328.4" style="font-family:'DejaVu Sans';font-size:19.6px" xml:space="preserve">K<tspan style="font-size:12.5px" dy="2.5">v</tspan></text>
<text x="919.6" y="1328.4" style="font-family:'DejaVu Sans';font-size:19.6px" xml:space="preserve">ion</text>
<text x="963.6" y="1328.4" style="font-family:'DejaVu Sans';font-size:19.6px" xml:space="preserve">channel</text>
<text x="1055.4" y="1328.4" style="font-family:'DejaVu Sans';font-size:19.6px" xml:space="preserve">activity,</text>
<text x="1148.1" y="1328.4" style="font-family:'DejaVu Sans';font-size:19.6px" xml:space="preserve">Ca  ion</text>
<text x="1237.4" y="1328.4" style="font-family:'DejaVu Sans';font-size:19.6px" xml:space="preserve">transmembrane</text>
<text x="777.4" y="1351.8" style="font-family:'DejaVu Sans';font-size:19.6px" xml:space="preserve">transport,</text>
<text x="880.8" y="1351.8" style="font-family:'DejaVu Sans';font-size:19.6px" xml:space="preserve">ligand-gated</text>
<text x="1011.3" y="1351.8" style="font-family:'DejaVu Sans';font-size:19.6px" xml:space="preserve">cation</text>
<text x="1078.3" y="1351.8" style="font-family:'DejaVu Sans';font-size:19.6px" xml:space="preserve">channel,</text>
<text x="1168.6" y="1351.8" style="font-family:'DejaVu Sans';font-size:19.6px" xml:space="preserve">extrinsic</text>
<text x="1258.6" y="1351.8" style="font-family:'DejaVu Sans';font-size:19.6px" xml:space="preserve">component</text>
<text x="1376.1" y="1351.8" style="font-family:'DejaVu Sans';font-size:19.6px" xml:space="preserve">of</text>
<text x="777.4" y="1375.2" style="font-family:'DejaVu Sans';font-size:19.6px" xml:space="preserve">plasma</text>
<text x="869.1" y="1375.2" style="font-family:'DejaVu Sans';font-size:19.6px" xml:space="preserve">membrane,</text>
<text x="1002.9" y="1375.2" style="font-family:'DejaVu Sans';font-size:19.6px" xml:space="preserve">phagocytosis,</text>
<text x="1158.8" y="1375.2" style="font-family:'DejaVu Sans';font-size:19.6px" xml:space="preserve">positive</text>
<text x="1256.1" y="1375.2" style="font-family:'DejaVu Sans';font-size:19.6px" xml:space="preserve">regulation</text>
<text x="1376.1" y="1375.2" style="font-family:'DejaVu Sans';font-size:19.6px" xml:space="preserve">of</text>
<text x="777.4" y="1398.6" style="font-family:'DejaVu Sans';font-size:19.6px" xml:space="preserve">phagocytosis,</text>
<text x="918.9" y="1398.6" style="font-family:'DejaVu Sans';font-size:19.6px" xml:space="preserve">ionotropic</text>
<text x="1022.8" y="1398.6" style="font-family:'DejaVu Sans';font-size:19.6px" xml:space="preserve">glutamate</text>
<text x="1129.8" y="1398.6" style="font-family:'DejaVu Sans';font-size:19.6px" xml:space="preserve">receptor</text>
<text x="1218.5" y="1398.6" style="font-family:'DejaVu Sans';font-size:19.6px" xml:space="preserve">activity,</text>
<text x="1303.1" y="1398.6" style="font-family:'DejaVu Sans';font-size:19.6px" xml:space="preserve">G-protein</text>
<text x="777.4" y="1422.0" style="font-family:'DejaVu Sans';font-size:19.6px" xml:space="preserve">coupled</text>
<text x="879.2" y="1422.0" style="font-family:'DejaVu Sans';font-size:19.6px" xml:space="preserve">peptide</text>
<text x="978.0" y="1422.0" style="font-family:'DejaVu Sans';font-size:19.6px" xml:space="preserve">receptor</text>
<text x="1085.0" y="1422.0" style="font-family:'DejaVu Sans';font-size:19.6px" xml:space="preserve">activity,</text>
<text x="1187.7" y="1422.0" style="font-family:'DejaVu Sans';font-size:19.6px" xml:space="preserve">ciliary</text>
<text x="1270.7" y="1422.0" style="font-family:'DejaVu Sans';font-size:19.6px" xml:space="preserve">part,</text>
<text x="1341.4" y="1422.0" style="font-family:'DejaVu Sans';font-size:19.6px" xml:space="preserve">axon,</text>
<text x="777.4" y="1445.4" style="font-family:'DejaVu Sans';font-size:19.6px" xml:space="preserve">neurological system processes, carbohydrate binding</text>
</svg></body></html>
